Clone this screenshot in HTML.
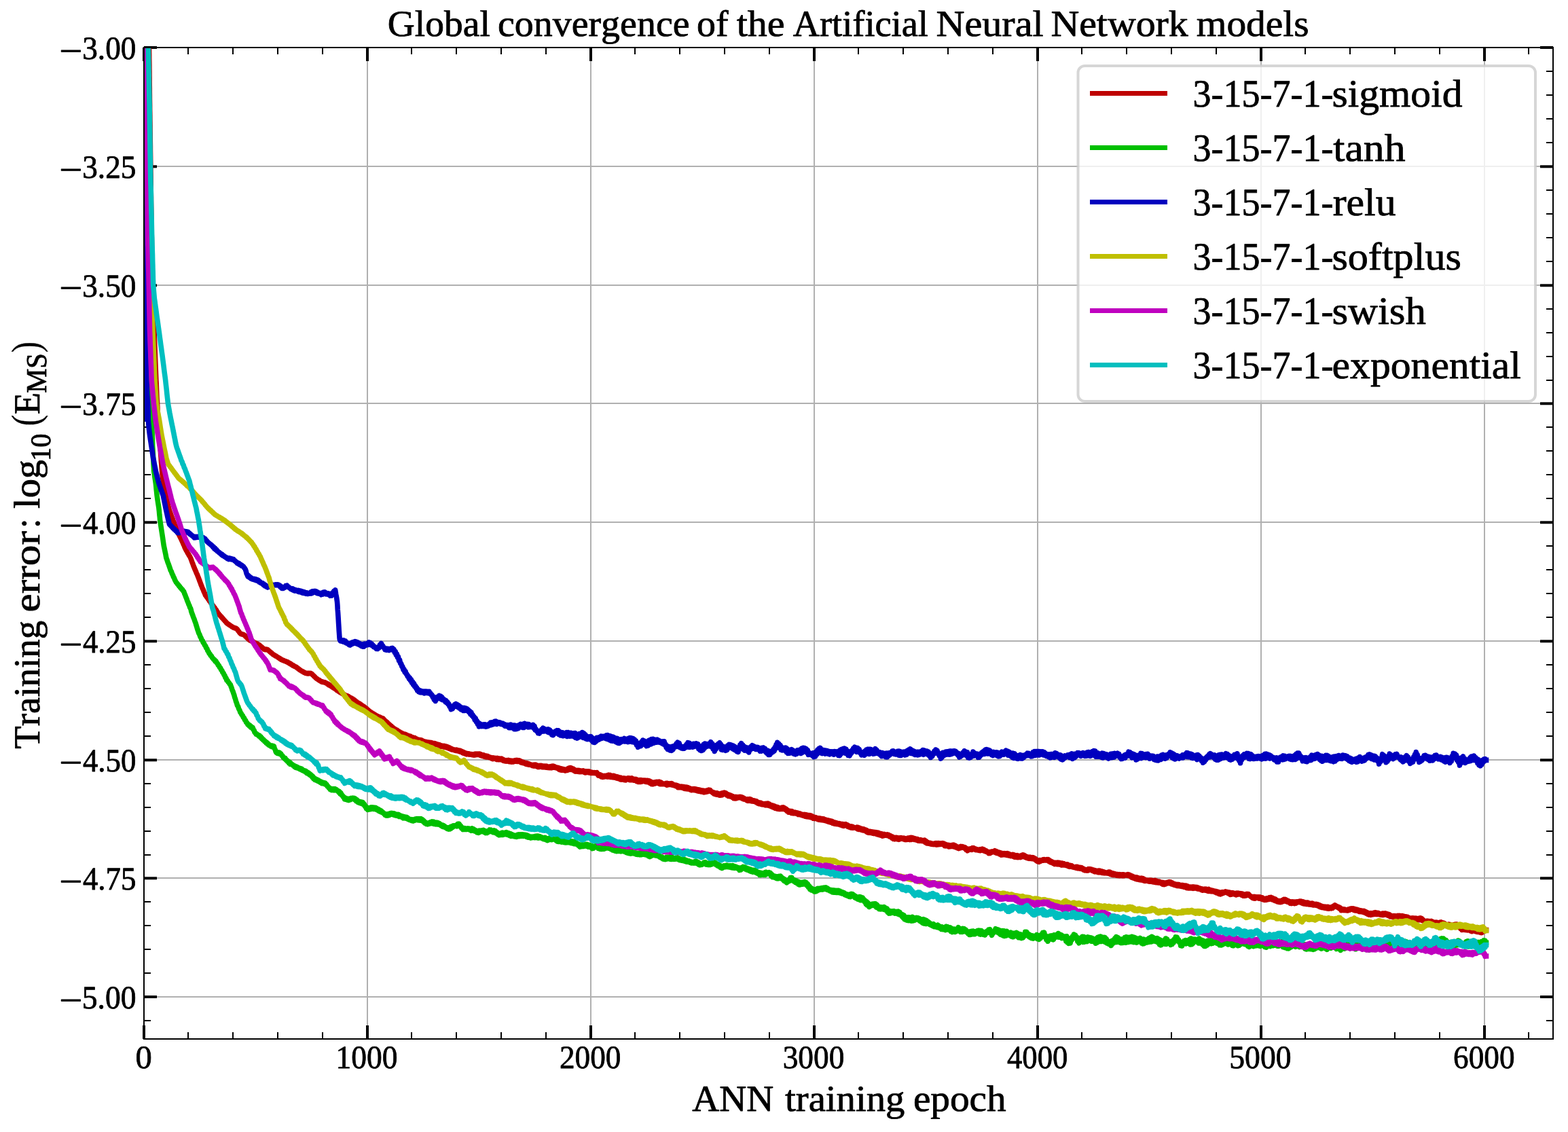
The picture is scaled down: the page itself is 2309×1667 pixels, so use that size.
<!DOCTYPE html>
<html lang="en"><head><meta charset="utf-8">
<title>Global convergence of the Artificial Neural Network models</title>
<style>
html,body{margin:0;padding:0;background:#fff;}
body{width:2309px;height:1667px;overflow:hidden;}
svg{display:block;}
text{font-family:"Liberation Serif", "DejaVu Serif", serif;fill:#000;font-kerning:none;font-variant-ligatures:none;stroke:#000;stroke-width:0.8px;stroke-linejoin:round;}
.grid line{stroke:#b0b0b0;stroke-width:2;}
.maj line{stroke:#000;stroke-width:4;}
.min line{stroke:#000;stroke-width:2;}
.curve{fill:none;stroke-width:7.6;stroke-linejoin:round;stroke-linecap:butt;}
</style></head><body>
<svg width="2309" height="1667" viewBox="0 0 2309 1667" shape-rendering="auto" text-rendering="geometricPrecision">
<rect x="0" y="0" width="2309" height="1667" fill="#ffffff"/>
<g class="grid">
<line x1="541" y1="70" x2="541" y2="1530"/>
<line x1="870" y1="70" x2="870" y2="1530"/>
<line x1="1199" y1="70" x2="1199" y2="1530"/>
<line x1="1528" y1="70" x2="1528" y2="1530"/>
<line x1="1857" y1="70" x2="1857" y2="1530"/>
<line x1="2186" y1="70" x2="2186" y2="1530"/>
<line x1="212" y1="245" x2="2287" y2="245"/>
<line x1="212" y1="420" x2="2287" y2="420"/>
<line x1="212" y1="594" x2="2287" y2="594"/>
<line x1="212" y1="769" x2="2287" y2="769"/>
<line x1="212" y1="944" x2="2287" y2="944"/>
<line x1="212" y1="1119" x2="2287" y2="1119"/>
<line x1="212" y1="1293" x2="2287" y2="1293"/>
<line x1="212" y1="1468" x2="2287" y2="1468"/>
</g>
<g class="min">
<line x1="277" y1="1530" x2="277" y2="1520"/>
<line x1="277" y1="70" x2="277" y2="80"/>
<line x1="343" y1="1530" x2="343" y2="1520"/>
<line x1="343" y1="70" x2="343" y2="80"/>
<line x1="409" y1="1530" x2="409" y2="1520"/>
<line x1="409" y1="70" x2="409" y2="80"/>
<line x1="475" y1="1530" x2="475" y2="1520"/>
<line x1="475" y1="70" x2="475" y2="80"/>
<line x1="606" y1="1530" x2="606" y2="1520"/>
<line x1="606" y1="70" x2="606" y2="80"/>
<line x1="672" y1="1530" x2="672" y2="1520"/>
<line x1="672" y1="70" x2="672" y2="80"/>
<line x1="738" y1="1530" x2="738" y2="1520"/>
<line x1="738" y1="70" x2="738" y2="80"/>
<line x1="804" y1="1530" x2="804" y2="1520"/>
<line x1="804" y1="70" x2="804" y2="80"/>
<line x1="935" y1="1530" x2="935" y2="1520"/>
<line x1="935" y1="70" x2="935" y2="80"/>
<line x1="1001" y1="1530" x2="1001" y2="1520"/>
<line x1="1001" y1="70" x2="1001" y2="80"/>
<line x1="1067" y1="1530" x2="1067" y2="1520"/>
<line x1="1067" y1="70" x2="1067" y2="80"/>
<line x1="1133" y1="1530" x2="1133" y2="1520"/>
<line x1="1133" y1="70" x2="1133" y2="80"/>
<line x1="1264" y1="1530" x2="1264" y2="1520"/>
<line x1="1264" y1="70" x2="1264" y2="80"/>
<line x1="1330" y1="1530" x2="1330" y2="1520"/>
<line x1="1330" y1="70" x2="1330" y2="80"/>
<line x1="1396" y1="1530" x2="1396" y2="1520"/>
<line x1="1396" y1="70" x2="1396" y2="80"/>
<line x1="1462" y1="1530" x2="1462" y2="1520"/>
<line x1="1462" y1="70" x2="1462" y2="80"/>
<line x1="1593" y1="1530" x2="1593" y2="1520"/>
<line x1="1593" y1="70" x2="1593" y2="80"/>
<line x1="1659" y1="1530" x2="1659" y2="1520"/>
<line x1="1659" y1="70" x2="1659" y2="80"/>
<line x1="1725" y1="1530" x2="1725" y2="1520"/>
<line x1="1725" y1="70" x2="1725" y2="80"/>
<line x1="1791" y1="1530" x2="1791" y2="1520"/>
<line x1="1791" y1="70" x2="1791" y2="80"/>
<line x1="1922" y1="1530" x2="1922" y2="1520"/>
<line x1="1922" y1="70" x2="1922" y2="80"/>
<line x1="1988" y1="1530" x2="1988" y2="1520"/>
<line x1="1988" y1="70" x2="1988" y2="80"/>
<line x1="2054" y1="1530" x2="2054" y2="1520"/>
<line x1="2054" y1="70" x2="2054" y2="80"/>
<line x1="2120" y1="1530" x2="2120" y2="1520"/>
<line x1="2120" y1="70" x2="2120" y2="80"/>
<line x1="2251" y1="1530" x2="2251" y2="1520"/>
<line x1="2251" y1="70" x2="2251" y2="80"/>
<line x1="212" y1="105" x2="222" y2="105"/>
<line x1="2287" y1="105" x2="2277" y2="105"/>
<line x1="212" y1="140" x2="222" y2="140"/>
<line x1="2287" y1="140" x2="2277" y2="140"/>
<line x1="212" y1="175" x2="222" y2="175"/>
<line x1="2287" y1="175" x2="2277" y2="175"/>
<line x1="212" y1="210" x2="222" y2="210"/>
<line x1="2287" y1="210" x2="2277" y2="210"/>
<line x1="212" y1="280" x2="222" y2="280"/>
<line x1="2287" y1="280" x2="2277" y2="280"/>
<line x1="212" y1="315" x2="222" y2="315"/>
<line x1="2287" y1="315" x2="2277" y2="315"/>
<line x1="212" y1="350" x2="222" y2="350"/>
<line x1="2287" y1="350" x2="2277" y2="350"/>
<line x1="212" y1="385" x2="222" y2="385"/>
<line x1="2287" y1="385" x2="2277" y2="385"/>
<line x1="212" y1="455" x2="222" y2="455"/>
<line x1="2287" y1="455" x2="2277" y2="455"/>
<line x1="212" y1="490" x2="222" y2="490"/>
<line x1="2287" y1="490" x2="2277" y2="490"/>
<line x1="212" y1="525" x2="222" y2="525"/>
<line x1="2287" y1="525" x2="2277" y2="525"/>
<line x1="212" y1="560" x2="222" y2="560"/>
<line x1="2287" y1="560" x2="2277" y2="560"/>
<line x1="212" y1="629" x2="222" y2="629"/>
<line x1="2287" y1="629" x2="2277" y2="629"/>
<line x1="212" y1="664" x2="222" y2="664"/>
<line x1="2287" y1="664" x2="2277" y2="664"/>
<line x1="212" y1="699" x2="222" y2="699"/>
<line x1="2287" y1="699" x2="2277" y2="699"/>
<line x1="212" y1="734" x2="222" y2="734"/>
<line x1="2287" y1="734" x2="2277" y2="734"/>
<line x1="212" y1="804" x2="222" y2="804"/>
<line x1="2287" y1="804" x2="2277" y2="804"/>
<line x1="212" y1="839" x2="222" y2="839"/>
<line x1="2287" y1="839" x2="2277" y2="839"/>
<line x1="212" y1="874" x2="222" y2="874"/>
<line x1="2287" y1="874" x2="2277" y2="874"/>
<line x1="212" y1="909" x2="222" y2="909"/>
<line x1="2287" y1="909" x2="2277" y2="909"/>
<line x1="212" y1="979" x2="222" y2="979"/>
<line x1="2287" y1="979" x2="2277" y2="979"/>
<line x1="212" y1="1014" x2="222" y2="1014"/>
<line x1="2287" y1="1014" x2="2277" y2="1014"/>
<line x1="212" y1="1049" x2="222" y2="1049"/>
<line x1="2287" y1="1049" x2="2277" y2="1049"/>
<line x1="212" y1="1084" x2="222" y2="1084"/>
<line x1="2287" y1="1084" x2="2277" y2="1084"/>
<line x1="212" y1="1154" x2="222" y2="1154"/>
<line x1="2287" y1="1154" x2="2277" y2="1154"/>
<line x1="212" y1="1189" x2="222" y2="1189"/>
<line x1="2287" y1="1189" x2="2277" y2="1189"/>
<line x1="212" y1="1224" x2="222" y2="1224"/>
<line x1="2287" y1="1224" x2="2277" y2="1224"/>
<line x1="212" y1="1259" x2="222" y2="1259"/>
<line x1="2287" y1="1259" x2="2277" y2="1259"/>
<line x1="212" y1="1328" x2="222" y2="1328"/>
<line x1="2287" y1="1328" x2="2277" y2="1328"/>
<line x1="212" y1="1363" x2="222" y2="1363"/>
<line x1="2287" y1="1363" x2="2277" y2="1363"/>
<line x1="212" y1="1398" x2="222" y2="1398"/>
<line x1="2287" y1="1398" x2="2277" y2="1398"/>
<line x1="212" y1="1433" x2="222" y2="1433"/>
<line x1="2287" y1="1433" x2="2277" y2="1433"/>
<line x1="212" y1="1503" x2="222" y2="1503"/>
<line x1="2287" y1="1503" x2="2277" y2="1503"/>
</g>
<g class="maj">
<line x1="212" y1="1530" x2="212" y2="1510"/>
<line x1="212" y1="70" x2="212" y2="90"/>
<line x1="541" y1="1530" x2="541" y2="1510"/>
<line x1="541" y1="70" x2="541" y2="90"/>
<line x1="870" y1="1530" x2="870" y2="1510"/>
<line x1="870" y1="70" x2="870" y2="90"/>
<line x1="1199" y1="1530" x2="1199" y2="1510"/>
<line x1="1199" y1="70" x2="1199" y2="90"/>
<line x1="1528" y1="1530" x2="1528" y2="1510"/>
<line x1="1528" y1="70" x2="1528" y2="90"/>
<line x1="1857" y1="1530" x2="1857" y2="1510"/>
<line x1="1857" y1="70" x2="1857" y2="90"/>
<line x1="2186" y1="1530" x2="2186" y2="1510"/>
<line x1="2186" y1="70" x2="2186" y2="90"/>
<line x1="212" y1="70" x2="231" y2="70" stroke-width="4.4"/>
<line x1="2287" y1="70" x2="2268" y2="70" stroke-width="4.4"/>
<line x1="212" y1="245.3" x2="231" y2="245.3" stroke-width="4.4"/>
<line x1="2287" y1="245.3" x2="2268" y2="245.3" stroke-width="4.4"/>
<line x1="212" y1="420.3" x2="231" y2="420.3" stroke-width="4.4"/>
<line x1="2287" y1="420.3" x2="2268" y2="420.3" stroke-width="4.4"/>
<line x1="212" y1="594.3" x2="231" y2="594.3" stroke-width="4.4"/>
<line x1="2287" y1="594.3" x2="2268" y2="594.3" stroke-width="4.4"/>
<line x1="212" y1="769.3" x2="231" y2="769.3" stroke-width="4.4"/>
<line x1="2287" y1="769.3" x2="2268" y2="769.3" stroke-width="4.4"/>
<line x1="212" y1="944.3" x2="231" y2="944.3" stroke-width="4.4"/>
<line x1="2287" y1="944.3" x2="2268" y2="944.3" stroke-width="4.4"/>
<line x1="212" y1="1119.3" x2="231" y2="1119.3" stroke-width="4.4"/>
<line x1="2287" y1="1119.3" x2="2268" y2="1119.3" stroke-width="4.4"/>
<line x1="212" y1="1293.3" x2="231" y2="1293.3" stroke-width="4.4"/>
<line x1="2287" y1="1293.3" x2="2268" y2="1293.3" stroke-width="4.4"/>
<line x1="212" y1="1468" x2="231" y2="1468" stroke-width="4.4"/>
<line x1="2287" y1="1468" x2="2268" y2="1468" stroke-width="4.4"/>
</g>
<svg x="212" y="70" width="2075" height="1460" viewBox="212 70 2075 1460" overflow="hidden">
<path class="curve" stroke="#bf0000" d="M219.5 66l0.1 5 0 4.9 0.1 5 0 4.8 0.1 5 0.1 4.9 0 5 0.1 4.9 0 5 0.1 4.9 0 5 0.1 4.8 0.1 5.1 0 4.8 0.1 5.1 0 4.8 0.1 5.1 0.1 4.9 0 5 0.1 5 0.1 5 0 5 0.1 5 0.1 5 0 5 0.1 5 0.1 5 0 5 0.1 5 0.1 5 0 5.1 0.1 4.9 0.1 5 0 5 0.1 5 0.1 5 0 5 0.1 5 0.1 5 0 5 0.1 5 0.1 4.9 0 5.1 0.1 5 0.1 5 0 5 0.1 5 0.1 5 0.1 5 0.1 5 0 5 0.1 5 0.1 5 0.1 5 0.1 5 0 5 0.1 5 0.1 4.9 0.1 5.1 0.1 5 0.1 5 0.1 4.9 0 5.1 0.1 4.9 0.1 5.1 0.1 4.9 0.1 5.1 0 4.9 0.1 5.1 0.1 4.9 0.1 5.1 0.2 4.9 0.2 5.1 0.2 5 0.1 5 0.2 5 0.2 5 0.2 4.9 0.2 5.1 0.2 5 0.2 5.1 0.2 4.9 0.1 5.1 0.2 4.9 0.2 5 0.2 5 0.2 5 0.2 5 0.2 5 0.2 5 0.2 5 0.2 5 0.2 5 0.2 5 0.2 5 0.2 5 0.2 5.1 0.2 4.9 0.2 5 0.3 5 0.2 5.1 0.2 4.9 0.2 5 0.2 5 0.3 5 0.3 5 0.3 5 0.2 4.9 0.3 5.1 0.3 5 0.3 5 0.4 4.9 0.4 5.1 0.3 4.9 0.4 5.1 0.4 4.9 0.3 5.1 0.4 4.9 0.4 5.1 0.4 4.6 0.3 4.9 0.4 4.6 0.3 4.8 0.4 4.6 0.3 4.8 0.4 4.7 0.4 4.7 0.5 4.7 0.9 5.6 0.9 5.4 0.9 5.6 1 5.4 0.9 5.6 1.1 4.3 1.1 4.5 1.1 4.3 1.1 4.5 1.1 4.3 1.1 3 1.1 2.9 1.1 3 1.1 2.8 1.1 3.2 1 2.2 1.1 3.1 1 2.2 1.1 2.9 1 2.2 1.1 3 1 2.4 1.1 2.4 1.1 2.1 1.1 2.3 1.1 2.1 1.1 2.3 1.1 2.4 1.1 2.8 1.1 2.2 1.1 2.9 1.1 2.3 1 2 1.1 1.7 1 2.1 1.1 1.5 1 2.2 1.1 1.5 1 2 1.1 2.8 1.1 3.2 1.1 2.7 1.1 3.1 1.1 2.6 1.1 2.8 1.1 2.4 1.1 2.9 1.1 2.2 1.1 2.9 1.1 2.7 1.1 3.1 1.1 2.8 1.1 3.1 1.1 2.6 1.1 3 1.1 2.1 1.1 3 1.1 2.2 1.1 2.9 1 1.1 1.1 1.9 1 0.9 1 1.9 1 1 1 1.9 1 0.9 1.1 2 1 0.9 1 1.8 1.1 1 1 1.9 1.1 0.9 1 1.9 1.1 1 1 2 0.9 1.2 0.9 2.2 1.1 0.7 1 1.6 1.1 0.7 1 1.7 1.1 0.6 1 1.8 1.1 0.6 1.1 1.7 1.1 0.9 1.1 1.5 1.1 1 1.1 1.6 1 0.5 1 1 1 0.3 1 1.2 1.1 0.2 1 1.1 1 0.4 1 1 1 0.3 1.1 0.9 1.1 -0.2 1.1 0.9 1.1 -0.1 1.1 0.9 1.1 1 1.1 1.9 1.1 1 1.1 1.9 1.1 1 1.1 1.1 1.1 -0.3 1.1 0.9 1.1 -0.2 1.1 0.9 1.1 0.5 1 1.6 1.1 0.6 1 1.4 1.1 0.8 1 1.3 1.1 0.8 1 0.9 1.1 0 1 1 1 0 1.1 0.9 1 0.2 1.1 1 1 0.1 1.1 0.9 1 0.2 1.1 0.7 1 0.2 1.1 1 1 0.2 1.1 1.2 1 0.6 1.1 1.2 1 0.5 1.1 1.4 1 0.4 1 1.5 1.1 -0.4 1.1 0.9 1.1 -0.6 1.1 0.8 1.1 -0.4 1.1 1.4 1 0.6 1.1 1.4 1 0.3 1.1 1.5 1 0.3 1.1 1.4 1 0.4 1.1 0.9 1 0.2 1.1 1.2 1 0.2 1.1 1 1 0.3 1.1 0.9 1 0.3 1 1.2 1.1 0.1 1 1.3 1.1 -0.2 1 1.3 1.1 -0.2 1 1 1.1 -0.1 1 0.8 1.1 0.1 1 0.9 1.1 -0.1 1 1.3 1.1 -0.2 1 1.5 1.1 -0.3 1 1.5 1 -0.2 1.1 1.5 1.1 -0.1 1.1 1.2 1.1 0.1 1.1 0.9 1.1 0.2 1 1.2 1.1 0.3 1 1.4 1.1 0.2 1 1.4 1.1 0.2 1 1.3 1.1 -0.1 1 1 1.1 0.1 1 1.2 1.1 0 1 1 1.1 -0.1 1 0.5 1 -0.6 1.1 0.6 1 -0.6 1.1 0.5 1 -0.5 1.1 0.6 1 0.6 1.1 1.5 1 0.7 1.1 1.4 1 0.5 1.1 1.6 1 0.6 1.1 1.1 1 0.3 1.1 1 1 0.1 1 1.2 1.1 0.2 1 1.2 1.1 -0.3 1.1 0.9 1.1 -0.3 1.1 0.8 1.1 -0.2 1.5 1.2 1 0 1 1.4 1.1 -0.3 1 1.6 1 -0.4 1 1.6 1 0 1 1.2 1.1 0.1 1 1.3 1 -0.2 1 1.5 1 -0.2 1.1 1.6 1 -0.2 1 1.7 1 0 1 1.4 1 -0.1 1 1.5 1 -0.2 1 1.3 1 0 1 1 1 0.2 1 1 1 0.1 1 1.1 1 0 1 1.1 1.1 -0.4 1 1.6 1 -0.6 1 1.6 1 -0.3 1 1 1.1 0 1 1.3 1 -0.3 1 1.8 1 -0.2 1.1 1.4 1 0.1 1 1.4 1 0.2 1 1.4 1 -0.1 1.1 1.5 1 -0.4 1 1.7 1 -0.2 1 1.6 1.1 -0.2 1 1.6 1 -0.3 1 1.4 1 0.2 1 1.5 1.1 0.2 1 1.6 1 0.1 1 1.4 1 0.4 1.1 1.1 1 0.4 1 1.4 1 -0.2 1 1.5 1 -0.3 1.1 1.3 1 -0.1 1 1.1 1 0.3 1 0.9 1.1 0.1 1 1.1 1 -0.2 1 1.5 1 -0.5 1 1.6 1.1 -0.7 1 1.4 1 -0.5 1 1.7 1 0.4 1 1.7 1.1 0.2 1 2.1 1 -0.5 1 2.3 1 -0.4 1.1 1.9 1 0 1 1.3 1 0.5 1 1.5 1 0.2 1.1 1.5 1 0.1 1 1.1 1 0.1 1 1.3 1.1 -0.2 1 1.6 1 -0.2 1 1.4 1 0 1 1.1 1.1 0 1 1.2 1 -0.2 1 1.2 1 -0.4 1.1 1.1 1 -0.5 1 1.7 1 -0.8 1 1.9 1 -0.9 1.1 1.4 1 -0.8 1 1.4 1 -0.8 1 1.5 1.1 -0.4 1 1.5 1 -0.6 1 1.4 1 -1 1 1.7 1.1 -0.7 1 1.4 1 -0.5 1 0.7 1 -0.2 1.1 0.8 1 -0.5 1 1.4 1 -0.8 1 1.3 1 -0.1 1.1 1.1 1 -0.3 1 1.5 1 -1.3 1 1.9 1 -1.4 1 1.6 1 -1.1 1 1.3 1 -1.2 1 1.1 1 -0.8 1 1.1 1 -0.6 1 0.6 1 -0.4 1 1 1.1 -0.4 1 1.5 1 -0.7 1 1.2 1 -0.6 1.1 1.4 1 -0.8 1 1.9 1 -0.9 1 1.2 1 -0.9 1.1 1.1 1 -0.9 1 1.5 1 -1 1 1.5 1.1 -1 1 1.7 1 -1 1 1.7 1 -1 1 1.7 1.1 -0.6 1 1.6 1 -0.7 1 1.2 1 -0.4 1 1 1 -0.4 1 0.8 1 -0.9 1 1.2 1 -0.8 1 1.4 1 -0.9 1 1.6 1 -1.2 1 1.6 1 -0.6 1.1 1.8 1 -1.1 1 2.1 1 -1.2 1 1.8 1.1 -0.8 1 1.5 1 -0.9 1 0.9 1 -0.7 1 1 1 -0.7 1 0.9 1 -0.6 1 1 1 -0.7 1 1 1 -1 1 1 1.1 -1.7 1 1.3 1.1 -1.3 1 1 1.1 -0.9 1 1.1 1 -1 1 1.9 1.1 -1.2 1 1.9 1 -1.3 1 1.9 1 -1.6 1 2.3 1.1 -1.4 1 1.8 1 -1.4 1 1.5 1 -0.9 1 1.5 1 -0.5 1 1 1 -0.4 1 1.4 1 -0.9 1 1.5 1 -1.6 1 1.1 1 -0.6 1 1.2 1 -0.8 1 1.6 1 -1.8 1 2 1 -1.6 1 1.5 1 -1.3 1 1 1 -0.9 1 2 1 -1 1 1.9 1.1 -0.9 1 1.4 1 -0.8 1 1.1 1 -1.1 1 1 1.1 -1.3 1 1.9 1 -1.6 1 1.8 1 -1.5 1.1 1.8 1 -1.6 1 1.4 1 -1.5 1 0.8 1 -1.4 1.1 1.4 1 -1.6 1 1.9 1 -1.6 1 1.2 1.1 -0.9 1 2.1 1 -1.2 1 2.1 1 -1.2 1 1.5 1.1 -0.7 1 1.4 1 -0.7 1 1.6 1 -1.2 1 1.8 1 -1.4 1 1.7 1 -0.9 1 1.2 1 -0.3 1 0.8 1 -0.4 1 1.3 1 -1.1 1 1.6 1 -1.8 1 1.7 1 -1.7 1 2.2 1 -1.2 1 2.2 1 -1.7 1 1.6 1 -2 1 1.7 1 -1.6 1 2 1 -1.6 1 1.8 1 -1.5 1 1.5 1 -1.5 1 1.9 1 -1.8 1 2.1 1 -1.3 1 1.4 1 -1.3 1.1 1.4 1 -2 1 2.2 1 -2.6 1 2 1 -1.9 1.1 1.8 1 -0.8 1 1.3 1 -0.4 1 1.1 1.1 -0.7 1 2 1 -1.6 1 2.5 1 -1.9 1 2.5 1.1 -1.8 1 1.6 1 -1.1 1 1.5 1 -1.1 1.1 1.7 1 -1.3 1 0.8 1.1 -2.2 1.1 1.7 1.1 -2.6 1 1.9 1.1 -2.6 1.1 2.7 1 -2 1.1 2.4 1.1 -1.4 1 2.7 1.1 -1.1 1 2.2 1 -1.6 1.1 1.5 1 -1.4 1 1.7 1 -1.8 1 2.1 1 -1.5 1.1 1.4 1 -1.3 1 1.1 1 -1.2 1 1.8 1.1 -1.2 1 2.1 1 -1.9 1 1.5 1 -1.5 1 1.4 1.1 -1.3 1 1.9 1 -1.5 1 1.9 1 -1 1 1.1 1 -0.7 1.1 0.7 1 -0.8 1 1 1 -0.8 1 0.8 1 -0.9 1 1.4 0 0.7 1 2.3 1.1 -1.5 1 1.8 1.1 -1.3 1 2.6 1.1 -1.6 1 2.1 1 -1.4 1 1.1 1 -1.5 1 1.1 1 -0.9 1 1 1 -1.5 1 1.8 1 -2.7 1 2.7 1 -2.5 1 2.9 1.1 -1.6 1 1.7 1 -1.9 1 2.2 1 -2.2 1.1 2.6 1 -1.6 1 2.2 1 -2 1 2.5 1 -1.9 1.1 2.5 1 -1.8 1 2.9 1 -2.7 1 2.8 1.1 -1.8 0.9 1.6 1 -1.8 1 2.6 1 -2.3 0.9 2.5 1 -1.8 1 0.6 1 -1.6 0.9 1.6 1 -1.6 1 2.6 1 -2.3 1 2.2 0.9 -2.6 1 2.7 1 -1.6 1 2 1.1 -1.5 1 1.7 1 -1.8 1 3 1 -2.2 1.1 3.1 1 -2.2 1 2.2 0.9 -2.6 1 2.7 1 -2.7 1 2.4 1 -2 1 1.2 1 -1 1 1.4 0.9 -1.5 1 2.2 1 -2 1 2.1 1 -2.1 1.1 2.7 1 -2.2 1.1 3.4 1 -2.3 1.1 3.7 1 -2.5 1.1 2.6 1 -2.7 1.1 2 1 -2.2 1.1 1.7 1 -2.2 1.1 1.5 1 -1.4 1 2.3 1 -2.5 1 3.2 1.1 -2.5 1 2.7 1 -1.4 1 1.4 1 -0.3 1 0.3 1 -0.7 1 1.1 1 -1.7 1 2.7 1 -2.6 1 2 1 -1.5 1 1.1 1 -1.1 1 1.6 1 -1.9 1.1 2.3 1 -0.9 1 1.4 1 -0.6 1 1.3 1 -1 1.1 1.9 1 -1.4 1 2.9 1 -2.2 1 2.2 1 -1.2 1 1.2 1 -1.3 1 1.5 1 -1.4 1 2.1 1 -1.7 1 2.5 1 -2.2 1 2.5 1 -2.4 1 2.7 1 -2.2 1 2.2 1 -1.2 1 2.2 1 -1.4 1 2 1 -1.4 1 1.2 1 -1.6 1 1.8 1 -1.8 1 2 1 -1.5 1 2.3 1 -1.9 1 2.4 1 -2.1 1 2.3 1 -1.6 1.1 2.2 1 -1.7 1.1 2 1 -2 1 2.6 1.1 -1.9 1 1.6 1.1 -1.9 1 1.4 1.1 -1.9 1 1.4 1.1 -2.2 1 1.6 1.1 -1 1 2 1.1 0.2 1 1.3 1.1 -0.6 1 2.1 1.1 -1.3 1 2 1 -1.6 1 2.1 1.1 -1.9 1 2.3 1 -1.7 1.1 2.3 1 -1.7 1.1 1.8 1 -2.9 1.1 2.5 1.1 -3 1 1.7 1.1 -2.2 1.1 1.8 1 -1 1.1 2.7 1 -1 1.1 2.5 1 -2 1 2.4 1.1 -1.6 1 2.1 1.1 -1 1 2.1 1.1 -1.3 1 2.7 1.1 -1.8 1 2.1 1 -2.4 1 2 1 -1.8 1.1 1.1 1 -1 1 0.8 1 -1 1 1.1 1.1 -0.9 1 2 1.1 -1.3 1 2.3 1.1 -1 1 1.4 1.1 -0.2 1 1.4 1 -1.3 1 2.2 1 -2.3 1 2.3 1 -2.5 1 2.5 1 -2 1 2.6 1 -1.2 1 1.4 1 -1 1 1.2 1 -0.7 1 1.6 1.1 -1.1 1 2.5 1 -1.4 1 2.3 1 -1.5 1 1.8 1.1 -1.6 1 2.4 1 -1.1 1 1.3 1 -1.1 1.1 1.1 1 -1.1 1 2 1.1 -2.2 1.1 2.2 1.1 -2.6 1.1 2.9 1.1 -1.9 1 2.8 1.1 -1.4 1 2.4 1.1 -2 1 2.7 1.1 -2 1 2.9 1.1 -2.2 1 3.1 1.1 -2.3 1 3 1.1 -2.4 1 2.7 1 -1.6 1.1 1.8 1 -1.5 1.1 1.2 1 -2 1.1 2 1 -2.4 1.1 2.5 1 -1.2 1.1 2.5 1 -1.3 1.1 3.2 1 -1.3 1.1 2.9 1 -1 1 1.1 1 -1.9 1.1 2.8 1 -2.6 1 3 1 -1.6 1 1.7 1.1 -1.3 1 1.3 1 -1 1 1.6 1 -1 1 2.2 1.1 -1.7 1 1.7 1 -1.3 1 1.9 1 -0.9 1 1.5 1.1 -0.9 1 1.4 1 -1.7 1 2.5 1 -2.2 1.1 2.9 1 -2.4 1 2.6 1 -2.3 1 2.4 1 -2.2 1.1 2.8 1 -2.3 1 2.8 1 -1.8 1 2.9 1.1 -2 1 2.4 1 -2 1 1.8 1 -0.8 1 1.8 1.1 -1.3 1 2 1 -2.2 1 2.5 1.1 -2 1 2.1 1.1 -1.7 1 2 1.1 -1.7 1 2.2 1 -1.3 1.1 1.8 1 -1.1 1 1.9 1 -1.7 1 2.4 1.1 -1.9 1 2.4 1 -1.7 1 2.3 1.1 -1.9 1 2.9 1.1 -1.7 1 2.3 1 -1.7 1.1 2 1 -1.6 1 1.9 1 -1.1 1 1.3 1 -0.9 1 1.5 1 -0.9 0.9 1.6 1 -1.7 1 2.5 1 -2.2 1 2.6 1 -2.4 1 1.8 1 -1.9 1 2.1 1 -1.1 1 2.6 1.1 -1.4 1 2.1 1 -1.1 1 1.8 1 -1.7 1 2 1.1 -1.5 1 1.4 1 -0.6 1 0.6 1 -0.2 1.1 0.9 1 -1.5 1 2.6 1 -2.4 1 3 1 -2.2 1.1 2.3 1 -1.1 1 1.9 1 -1.5 1 2 1.1 -1.8 0.9 1.9 1 -0.8 1 2.2 1 -1.7 1 3 1 -2 1 2.6 0.9 -1.7 1.1 1.8 1 -1.8 1 1.9 1 -1.4 1 2.1 1 -1.8 1 2.3 1 -2.1 1.1 2.1 1 -1.8 1 2.7 1 -2.4 1 3 1 -2.6 1 3 1 -2.1 1 2.7 1 -2.3 1 3.2 1 -2.5 1 2.2 1.1 -2.2 1 1.6 1 -0.9 1.1 1.1 1 -1.2 1.1 1.4 1 -0.9 1 2.2 1 -1.4 1.1 2.2 1 -1.1 1 2.5 1 -1.8 1 3.1 1.1 -1.9 1 2.4 1 -2.3 1 1.8 1 -1.9 1 2.5 1.1 -1.9 1 2.3 1 -2.4 1 1.5 1 -1.6 1 1.3 1.1 -0.9 1 1.4 1 -1.2 1 1.8 1 -1.5 1.1 1.8 1 -1.5 1 1.3 1 -2 1 1.6 1 -2 1.1 2.7 1 -3.1 1 2.9 1 -2.9 1 2.1 1.1 -1.4 1 2 1 -1.1 1 1.5 1 -1 1 1.6 1.1 -1.3 1 2.2 1 -1.4 1 1.6 1.1 -1.6 1 1.5 1.1 -0.8 1 1.1 1.1 -0.8 1 1.3 1.1 -1.7 1 3.2 1.1 -1.7 1 3 1.1 -1.2 1 1.4 1.1 -0.8 1 1.2 1 -0.8 1 1.3 1 -0.7 1.1 1.1 1 -0.8 1 0.9 1 -1.2 1 1.4 1 -1.9 1 2.3 1 -2.3 1 2.2 1 -2.3 1 1.9 1 -1.6 1 1.3 1 -1.1 1 1 1 -1.3 1 2 1.1 -1.5 1 3.2 1 -2.2 1 2.5 1 -1.8 1 1.8 1.1 -1.4 1 2.5 1 -2.2 1.1 1.9 1 -1.7 1.1 1.3 1 -1.7 1.1 2.1 1 -2.4 1.1 2.9 1 -1.9 1.1 2.7 1 -1.4 1 2.3 1.1 -0.9 1 1.6 1.1 -2.2 1.1 1.5 1.1 -2.3 1.1 1.8 1.1 -1.5 1.1 1.4 1 -0.8 1.1 1.9 1 -0.9 1.1 2.9 1 -1.3 1.1 2.7 1 -2.4 1 1.2 1 -1.2 1 0.8 1.1 -1.2 1 1.4 1 -2.5 1 1.8 1 -1.8 1.1 1.9 1 -0.7 1.1 1.6 1 -0.9 1.1 1.1 1 -0.4 1.1 0.9 1.1 -1.4 1.1 1.6 1.1 -1.8 1.1 1.4 1.1 -1.9 1 2.3 1 -1.5 1 2.4 1 -1.1 1 1.6 1.1 -0.7 1 1.7 1 -0.5 1 2.1 1 -1.4 1.1 1.4 1 -2.1 1 1 1 -1.4 1 0.7 1 -0.8 1.1 0.8 1 -1.9 1 2.8 1 -2.2 1 2.9 1.1 -1.6 1 2.2 1 -1.7 1 2.6 1 -2.1 1 3.4 1.1 -2.6 1 2.4 1 -2.2 1 1.5 1 -1.4 1.1 2.1 1 -1.9 1 2.2 1 -2.6 1 2.9 1 -2.3 1.1 2.9 1 -1.5 1 2 1 -1.8 1 1.5 1.1 -1.9 1 2.9 1 -2.3 1.1 3.2 1 -2.5 1.1 2.7 1 -2.8 1.1 3 1 -2.3 1 2.1 1.1 -1.6 1 1.7 1.1 -2.8 1 2 1.1 -2.8 1 2.1 1.1 -1.4 1 2.6 1.1 -1.3 1 2.1 1.1 -1.1 1 1.9 1.1 -1.3 1 1.7 1.1 -1.9 1 2 1 -1.6 1.1 1.9 1 -2 1.1 2 1 -1.1 1.1 2.3 1 -0.9 1.1 2.6 1 -1.2 1.1 2.5 1 -1.5 1.1 1.9 1 -2.6 1.1 1.5 1 -1.3 1.1 0.4 1 -1.2 1.1 0.9 1 -1.1 1 1.1 1.1 -0.8 1 0.8 1.1 -1.1 1 1.4 1.1 -1.3 1 2.7 1 -1.5 1 2.7 1.1 -1.2 1 1.5 1 -0.6 1 1.9 1 -1.2 1 2.3 1.1 -1.9 1 1.6 1 -1.7 1 2.2 1 -2.4 1.1 2.4 1 -2.3 1 2.6 1 -2.1 1 3.1 1 -2.9 1.1 2.8 1 -2.3 1 2.3 1 -1.2 1 1.6 1.1 -1.3 1 1.7 1 -1.6 1 2.7 1 -1.5 1 1.9 1.1 -1.6 1 1.5 1 -1.1 1 1.8 1 -0.2 1 0.9 1.1 -0.6 1 0.9 1 -1.3 1 1.9 1 -2 1.1 2.4 1 -1.6 1 1.7 1 -1.4 1 1.7 1 -1.5 1.1 2.2 1 -0.9 1 2.1 1 -1 1 1.7 1.1 -0.9 1 1 1.1 -1.4 1 1.6 1 -2.4 1.1 1.5 1 -1.4 1.1 0.9 1 -0.5 1.1 1.8 1 -1 1.1 2 1 -1.6 1.1 2.4 1 -1.7 1.1 1.7 1 -1 1.1 1.6 1 -2.1 1.1 2.5 1 -2.6 1 2.3 1.1 -1.6 1 2.5 1.1 -1.8 1 2 1.1 -1.2 1 1.3 1.1 -0.8 1 0.9 1.1 -0.9 1 1 1.1 -1.7 1 2.3 1.1 -2.3 1 3.1 1.1 -2 1 2.8 1 -2.2 1.1 2.7 1 -2.2 1.1 2.2 1 -1.3 1.1 1.7 1 -1.5 1 1.9 1 -1.7 1 1.9 1 -1.8 1.1 1.6 1 -1.4 1 1.5 1 -1.6 1 1.8 1 -1.8 1 1.5 1 -0.9 1 0.5 1 -0.8 1 0.9 1 -1.3 1 1.6 1 -1.2 1 2.1 1 -1 1 2.5 1.1 -1.8 1 2.6 1 -1.4 1 2.2 1 -1.6 1.1 2.5 0.9 -2.4 1 2.9 1 -2.6 1 2.9 1 -2.1 1 2.6 1 -2.2 0.9 2.5 1.1 -2.6 1 2.8 1 -2.5 1 3.2 1 -2.1 1 2.7 1 -1.7 1 1.3 1.1 -0.8 1 1.3 1 -0.9 1 1.4 1 -1.7 1 1.6 1 -1.7 1 2.2 1 -1.7 1 2.1 1 -1.9 1 2.1 1 -2.5 1 3 1 -2.2 1 2.4 1 -1.7 1.1 2 1 -1.9 1 1.9 1 -0.8 1.1 2 1.1 -1.7 1.1 2.8 1.1 -2.5 1.1 2.7 1.1 -2 1 1.3 1.1 -2 1 0.9 1.1 -1.5 1 1.2 1 -1.6 1.1 2.1 1 -1.8 1.1 2.7 1 -1.8 1.1 2.5 1 -1.3 1.1 2.1 1 -1.3 1 1.8 1 -1.2 1 1.8 1.1 -2 1 2.2 1 -1.8 1 2 1 -1.1 1.1 1.5 1 -1.7 1 2.1 1 -1.9 1 2.5 1 -2 1.1 2.3 1 -2.2 1 3.4 1 -2.9 1.1 3.1 1 -2 1.1 1.9 1 -1.6 1.1 1.6 1 -1.6 1.1 2 1 -2.2 1.1 2.2 1 -2 1.1 1.6 1 -1.4 1.1 2.1 1 -1.8 1.1 2.3 1 -1.3 1.1 1.3 1 -0.6 1 2 1.1 -1.4 1 2 1 -1.6 1 1.4 1.1 -1.6 1 1.8 1 -1.7 1 2.3 1 -2 1.1 2.6 1 -2.9 1 3.1 1 -1.9 1 2.1 1 -1.5 1.1 1.6 1 -1.3 1 1.4 1 -0.6 1 1.6 1.1 -1.3 1 2.3 1 -1.7 1 2.2 1 -1.9 1 2.9 1.1 -2.2 1 2.8 1 -2.6 1.1 1.7 1 -2.3 1.1 1.5 1 -1.4 1.1 0.6 1 -1.3 1.1 1 1 -0.6 1.1 1.6 1 -1 1 2.2 1.1 -2 1 3 1.1 -2.6 1 2.4 1.1 -2.3 1 1.8 1.1 -1 1 1.4 1.1 -1.1 1 2 1.1 -2.8 1 2.2 1.1 -2 1 1.4 1.1 -1 1 1.4 1.1 -1.1 1.1 2.3 1.1 -2 1.1 3 1.1 -1.9 1.1 1.8 1.1 -2.2 1.1 1.7 1.1 -2.3 1.1 1.3 1 -1 1.1 2.2 1 -0.1 1.1 1.7 1 -0.3 1.1 1.7 1 -0.9 1 1.8 1.1 -2.3 1 2.6 1 -2.4 1 1.6 1 -1.3 1.1 1.3 1 -1.3 1 2.1 1 -2.1 1 2.4 1 -1.8 1.1 2.5 1 -2.1 1 2.8 1 -1.5 1 2 1.1 -1.4 1 1.3 1 -2.2 1.1 1.7 1 -2 1.1 1.6 1 -2.6 1.1 2.2 1 -2.5 1.1 3.1 1 -2.2 1.1 2.8 1 -1.9 1.1 2.9 1 -2.2 1.1 3 1 -1.4 1.1 2.2 1 -1.1 1 1.6 1.1 -1.4 1 1.8 1.1 -1.8 1.1 1.4 1 -2.4 1.1 1.8 1.1 -3.2 1.1 2.1 1 -2 1.1 2.7 1.1 -1.6 1 2.5 1.1 -1.5 1.1 2.3 0.9 -1.3 1 2.7 1 -2.4 1.1 2.6 1 -2.7 1.1 2.3 1 -1.8 1.1 2.2 1 -2.3 1.1 1.9 1 -2.1 1.1 0.9 1 -1 1.1 0.6 1 -1.3 1.1 1.4 1 -1.3 1.1 2.4 1 -2 1 2.8 1.1 -2.3 1 2.8 1.1 -1.9 1 2.1 1.1 -2 1 2.4 1.1 -2.3 1 2.4 1.1 -1.3 1 1.5 1.1 -1.4 1 1.8 1.1 -2.1 1 2.5 1.1 -1.4 1 1.5 1.1 -1.3 1 1.5 1 -1.6 1.1 2.1 1 -1.6 1.1 2.6 1 -1.7 1.1 2.7 1 -1.8 1.1 2.5 1 -1.6 1.1 1.8 1 -1.2 1.1 1.9 1 -1.8 1.1 2.1 1 -2 1.1 2.5 1 -2.5 1 2.7 1.1 -2 1 1.7 1.1 -1.4 1 1.3 1 -2.2 1.1 1.6 1 -2.9 1 1.3 1.1 -2.5 1 1 1 0.2 1 1.7 1.1 -0.6 1 1.6 1 -0.9 1.1 2.6 1 -1.5 1 3.5 1.1 -1.7 1 1.4 1.1 -1.2 1 1.3 1.1 -1.2 1 1.3 1.1 -0.5 1 0.8 1 -1.3 1 1.2 1 -1.8 1.1 1.1 1 -1.7 1 0.9 1 -1.1 1 0.8 1 -0.8 1.1 2.1 1 -1.6 1 2.3 1 -1.9 1 1.8 1.1 -1.3 1 2 1 -1.2 1 2.2 1 -1.9 1 1.8 1.1 -1.1 1 1.4 1 -1 1 1.7 1 -1.9 1.1 2.5 1 -1.4 1 2.6 1.1 -1.6 1 2.7 1.1 -1.8 1 2.5 1.1 -1.9 1 2.1 1 -2.5 1 2.4 1.1 -2.1 1 1.6 1 -2.4 1 2.2 1 -2.7 1 2.7 1.1 -2.2 1 2.1 1.1 -1.9 1 2 1.1 -0.9 1 1.6 1.1 -1 1 1.2 1.1 -2.1 1 2.4 1.1 -2.4 1 1.8 1.1 -1.9 1 1.6 1.1 -0.9 1 2.1 1 -1.7 1.1 2.6 1 -2 1.1 3.1 1 -1.1 1.1 1.2 1 -0.9 1 1.4 1 -1.7 1 2.6 1 -2.7 1.1 3 1 -2.9 1 2.9 1 -3.2 1.1 2.8 1 -3 1.1 2.5 1 -2.1 1.1 1.1 1 -1.1 1 1.3 1.1 -0.8 1 2.4 1 -1.9 1 2.2 1 -1.8 1.1 1.6 1 -1.1 1 2.2 1 -1.3 1 2.2 1 -1.5 1.1 1.3 1 -1.4 1 1.9 1 -2.1 1 2.8 1.1 -2.4 1 2.6 1 -2.6 1 2.6 1 -2.2 1 2 1.1 -2.2 1 2.2 1 -2.8 1 2.6 1.1 -1.9 1 2.9 1.1 -1 1 1.8 1 -0.2 1.1 1.7 1 -0.8 1.1 1.5 1 -2.3 1.1 2.2 1 -2 1.1 2.1 1 -1.7 1.1 1.6 1 -1.8 1.1 2.2 1 -1.3 1.1 1.4 1 -0.6 1.1 1 1 -1 1 1.3 1 -1.1 1.1 1.1 1 -0.7 1 0.7 1 -1.3 1 1.4 1 -1.6 1.1 2.2 1 -1.4 1.1 2.2 1 -1.6 1.1 2 1 -0.6 1 1.3 1.1 -0.3 1 0.7 1.1 -1.3 1 1.8 1.1 -1.5 1 2.6 1.1 -1.8 1 2.2 1.1 -2.1 1 1.1 1.1 -1.8 1 1.4 1.1 -2.1 1 1.9 1.1 -1.7 1 2.3 1.1 -0.7 1 2.8 1 -1.7 1.1 3.7 1 -2 1.1 3.6 1 -2.2 1.1 2 1 -1.6 1.1 1.7 1 -1.5 1.1 1.8 1 -2.1 1.1 2.3 1 -1.9 1.1 1.9 1 -1.2 1.1 2.4 1 -1.8 1 2.5 1.1 -2.2 1 1.4 1.1 -1.4 1 1.8 1.1 -2.1 1 2.8 1.1 -2.6 1 3 1.1 -1.8 1 2.1 1.1 -1.9 1 2.5 1.1 -2.2 1 2.5 1 -2.4 0.9 1.1 1 -2 1 1.2 0.9 -2.5 1 0.6 1.1 0 1.1 0 1 0 1.1 0"/>
<path class="curve" stroke="#00bf00" d="M214.5 65.9l0 5.1 0.1 4.8 0 5.2 0 4.8 0.1 5.3 0 4.7 0 5.2 0.1 4.7 0 5.3 0 4.7 0.1 5.2 0 4.8 0 5.1 0 4.8 0.1 5.1 0 4.8 0 5.2 0.1 4.8 0 5.2 0 4.8 0.1 5.2 0 4.7 0 5.2 0.1 4.8 0 5.1 0 4.8 0.1 5.1 0 4.9 0 5.2 0.1 4.8 0 5.1 0 4.8 0.1 5.2 0 4.8 0 5.2 0 4.8 0.1 5.1 0 4.8 0 5.1 0.1 4.9 0 5.1 0 4.8 0.1 5.2 0 4.8 0 5.1 0.1 4.9 0 5 0.1 4.9 0 5.3 0.1 4.7 0.1 5.3 0 4.7 0.1 5.2 0.1 4.8 0 5.2 0.1 4.8 0.1 5.2 0 4.8 0.1 5.2 0.1 4.8 0 5.2 0.1 4.8 0.1 5.3 0 4.7 0.1 5.2 0.1 4.8 0 5.2 0.1 4.7 0.1 5.4 0 4.6 0.1 5.3 0.1 4.8 0 5.1 0.1 4.9 0.1 5.1 0 5 0.1 5 0.1 5 0.1 5 0.1 4.9 0.1 5.2 0.1 4.7 0 5.4 0.1 4.7 0.1 5.2 0.1 4.8 0.1 5.2 0.1 4.7 0.1 5.3 0.1 4.8 0.1 5.3 0.1 4.8 0.1 5.1 0 4.8 0.1 5.2 0.1 4.8 0.1 5.2 0.1 4.8 0.1 5.2 0.2 4.8 0.3 5.2 0.3 4.9 0.2 5.1 0.2 4.8 0.3 5.3 0.3 4.7 0.2 5.2 0.4 4.8 0.3 5.2 0.4 4.8 0.4 5.2 0.1 5 0.2 5.5 0.2 4.9 0.2 5.5 0.2 5 0.2 5.5 0.1 5.1 0.3 5.3 0.3 5.1 0.2 5.4 0.3 5.1 0.2 5.4 0.3 5.1 0.3 5.4 0.7 4.4 0.6 4.8 0.7 4.3 0.7 4.9 0.5 4.3 0.4 4.8 0.5 4.4 0.5 4.8 0.6 4.4 0.7 4.7 0.7 4.4 0.7 4.7 0.5 4.4 0.4 4.8 0.5 4.4 0.4 4.8 0.7 4.4 0.7 4.8 0.7 4.4 0.7 4.7 0.7 4.4 0.7 4.8 0.6 4.3 0.7 4.9 0.9 4.2 1 5 0.9 4.2 0.9 4.9 1.1 2.9 1 3.2 1.1 2.8 1.1 3.2 1 2.8 1.1 3.4 1.1 1.8 1 3.1 1.1 1.9 1 2.9 1 1.5 1.1 3 1 1.8 1 1.8 1 0.9 1 1.8 1 0.6 1 1.9 1 0.5 1 1.9 1 0.5 1 1.9 1 0.3 1 2 1 0.8 1 3 1.1 2.4 1.1 3.1 1 2.4 1.1 3.2 1.1 2.4 0.9 2.7 0.9 1.6 0.9 3 0.9 1.2 0.9 2.9 0 0.9 1.1 3.3 1.1 2.7 1.1 3.2 1.1 2.6 1.1 3.3 1 2.5 0.9 3.3 0.9 2.6 0.9 3.2 0.9 2.5 1.1 3.5 1.1 1.9 1.1 3.2 1.1 1.9 1.1 3 1.1 1.1 1.1 2.8 1.1 1.1 1.1 2.6 1.1 1.1 1.1 3 1.1 1.2 1.1 3.1 1.1 1.3 1.1 2.7 1.1 0.9 1.1 2.2 1.1 0.6 1.1 2.4 1.1 0.9 1.1 1.7 1.1 0.3 1.1 2.4 1.1 -0.2 1.1 2.4 1.1 0.9 1.1 2.8 1.1 0.4 1.1 2.8 1.1 0.5 1.1 3.1 1.1 0.8 1.1 3 1.1 0.9 1.1 2.8 0.9 0.8 0.9 3.2 1 0.2 0.9 3.5 1.1 0.2 1.1 2.5 1.1 0.7 1.1 2.3 1.1 0.6 0.9 3 0.9 2.1 0.9 3.1 0.9 1.8 1 3.2 0.9 2.3 0.9 3.6 0.9 2.3 0.9 3.5 0.9 2.1 1.1 3.9 1.1 1.4 1.1 3.7 1.1 1.7 1.1 3.4 1.1 1.1 1.1 2.5 1.1 0.8 1.1 2.9 1.1 0.6 1.1 3.2 1.1 0.5 1.1 3.2 1.1 0.5 1.1 2.7 1.1 -0.3 1 2.2 1.1 -0.7 1 2.6 1.1 -0.8 1 2.2 1.1 -0.5 0.9 2.9 0.9 0.7 0.9 3.1 0.9 0.4 1.1 2.2 1 -0.4 1.1 1.4 1 0.2 1.1 1.7 1 -0.7 1.1 2.5 1 -0.5 1 2.5 1.1 -0.2 1 2.2 1.1 -0.3 1 2.2 1.1 -0.1 1.1 2.3 1.1 -0.7 1.1 2.6 1.1 -0.6 1.1 2.2 1 -0.4 1.1 1.6 1 -0.7 1.1 1.6 1 -1.3 1.1 1.4 1 -0.7 0.9 3.5 0.9 1.5 1 3.1 0.9 1.5 1.1 0.8 1.1 -1.2 1.1 1.6 1.1 -1.5 1.1 1.4 1.1 0.3 1.1 2.6 1.1 0.4 1.1 2.4 1.1 0.2 1 1.8 1.1 -0.5 1 2.6 1.1 -0.2 1 2.1 1.1 -0.2 1 2.6 1 -1.5 1 3 1.1 -1.1 1 1.8 1 0 1 1.3 1 -0.2 1 2 1.1 -0.8 1 2.1 1 -1.3 1 1.8 1 -0.8 1 1.6 1 -0.5 1 1.5 1 -0.8 1 1.6 1 -0.9 1 2.1 1 -0.5 1 1.3 1 -0.4 1 1.8 1 -1.2 1.1 2.8 1 -1.2 1 2.2 1 -1.1 1 2.5 1.1 -0.9 1 2.4 1 -0.6 1 2.7 1 -0.9 1 3.4 1.1 -1.2 1 2.7 1 -1.4 1 2.1 1 -1.2 1 2.2 1 -1 1 1.9 1 -0.7 1 2 1 -0.9 1 2.1 1 -1.1 1 1.3 1 -1 1.1 1.7 1 -1.2 1 2.5 1 -0.3 1.1 2.5 1 0.2 1.1 2.2 1 -0.2 1.1 2.5 1 -0.9 1.1 1.8 1 -1.8 1.1 1.8 1 -1.8 1.1 2 1 -1.9 1.1 1.5 1 -0.4 1.1 1.8 1 -0.2 1 2.3 1.1 -1 1 3.3 1.1 -1.2 1.1 2.9 1.1 0.5 1.1 2.1 1.1 0.3 1.1 3.2 1.1 -1.9 1.1 2.4 1.1 -1.4 1.1 2.1 1.1 -1.3 1 1.6 1.1 -2.3 1 1.5 1.1 -2.2 1 1.2 1.1 -1.3 1 0.7 1.1 -0.5 1 2.2 1.1 -1.3 1 3.3 1.1 -1.9 1 3.5 1 -1.5 1.1 2.3 1.1 -1.5 1.1 2.3 1 -1.8 1.1 2.4 1.1 -1.9 1 2.9 1.1 -0.5 1.1 3.2 1 -0.3 1.1 3.8 1.1 -1 1 2.7 1.1 -2.7 1 2.4 1.1 -2.4 1 1.9 1.1 -2.6 1 2 1.1 -2.1 1.1 2.3 1.1 -2 1.1 2.1 1.1 -1.8 1 2.5 1.1 -1.1 1 2.3 1.1 -1.3 1 2.8 1.1 -1.8 1 2.6 1.1 -1.2 1 2.1 1.1 -0.3 1 1.8 1.1 0 1 2.1 1.1 -0.7 1 1.6 1.1 -1.8 1 1.8 1 -2.2 1.1 1.8 1 -2.5 1.1 1.1 1 -1.7 1.1 1.9 1 -1.6 1.1 2.2 1 -2 1.1 2.7 1 -1.7 1.1 2.1 1 -1.5 1.1 2 1 -2 1.1 3 1 -1.9 1.1 2 1 -1.1 1 2.1 1 -1.4 1 2.6 1 -2.1 1.1 2 1 -1.5 1 1.9 1 -1.6 1.1 2.6 1 -1 1.1 2 1 -0.7 1 1.3 1.1 -0.9 1 1.7 1.1 -1.4 1 1.8 1 -1.8 1 1.2 1 -2 1.1 1 1 -1.5 1 1.6 1 -1.6 1.1 2.1 1.1 -2.2 1.1 2.3 1.1 -2.3 1.1 2.1 1.1 -0.8 1 2.9 1 -1.1 1.1 3.1 1 -1.1 1.1 2.4 1 -0.6 1.1 1.2 1 -1.6 1 1.1 1 -1.8 1 1.2 1 -2 1.1 1.7 1 -2.4 1 2.8 1 -2.7 1 3.3 1 -2.3 1.1 2.6 1 -2.4 1 2.6 1 -2.4 1 2.4 1.1 -1.5 1 2.3 1.1 -0.8 1 2.2 1 -1 1.1 2.2 1 -1.7 1.1 2.3 1 -0.9 1.1 1.9 1 -0.5 1.1 1.8 1 -1.2 1.1 1.9 1 -2.1 1.1 2 1 -3.2 1.1 2.3 1 -3.1 1.1 1.5 1 -2.3 1 0.7 1.1 -0.9 1 0.6 1.1 -1.3 1 1.6 1.1 -3.2 1 2.4 1.1 -2.7 1.1 3.7 1.1 -0.8 1.1 3.3 1.1 -0.9 1.1 3 1 -2.1 1 2 1 -1.6 1 1.4 1.1 -0.8 1 0.9 1 -1.2 1 1.1 1 -0.9 1.1 1.8 1.1 -1.4 1.1 2.6 1.1 -3.5 1.1 3.1 1.1 -2.1 1 2.8 1.1 -1.4 1 2.3 1.1 -1.2 1 2.5 1.1 -1.4 1 2 1.1 -3.2 1 2.1 1.1 -2 1 1.2 1 -1.6 1.1 1.3 1.1 -1.7 1.1 3.1 1.1 -2 1.1 3.1 1.1 -1.2 1.1 0.9 1.1 -2.4 1.1 1.1 1.1 -3.1 1.1 1.4 1.1 -1.2 1.1 2.5 1.1 -1.5 1.1 2.5 1.1 -2.8 1 3.2 1.1 -2.7 1 3.6 1.1 -1.6 1 2.9 1.1 -0.8 1 2.2 1 -2.1 1 1.9 1 -2.7 1 2.6 1 -3.2 1 3.1 1 -3 1 2.5 1 -2.4 1 2.2 1 -2.9 1 3.4 1 -2.7 1 3.1 1 -2.5 1 3.5 1 -2.9 1 3.8 1 -2.9 1 2.6 1 -1.6 1 2.1 1 -1 1 1.3 1.1 -1.6 1 2 1 -2.9 1 2.1 1 -2.5 1.1 2.5 1 -2.6 1 2.4 1.1 -2.4 1 2.3 1.1 -2.2 1 2.4 1.1 -2.3 1 1.8 1 -1.5 1.1 2.8 1 -2.2 1.1 3 1 -2.1 1.1 2.4 1 -1.1 1 1.7 1 -1.7 1 1.3 1 -1.2 1 1 1 -1.4 1 1.7 1 -2.1 1 1.8 1 -2.2 1 2.6 1.1 -2.5 1 2.8 1.1 -2.3 1 1.7 1.1 -0.7 1 1.8 1.1 -0.8 1 1.7 1.1 -1.6 1 1.9 1 -2.2 1.1 3.2 1 -2 1.1 3 1 -2.8 1 1.7 1 -2.5 1.1 2.3 1 -1.6 1 1.8 1 -1.1 1 0.5 1 -0.5 1.1 0.8 1 -0.4 1.1 1.5 1 -2 1.1 3.7 1 -3.6 1.1 3.9 1.1 -2.3 1.1 2.2 1.1 -1.2 1.1 1.9 1.1 -1 1 1 1 -1.5 1 2 1 -1.9 1.1 2.2 1 -1.6 1 1.3 1 -2.2 1 2.3 1.1 -3 1 3.6 1 -2.7 1 3 1 -2.7 1 3 1.1 -2.5 1 3.3 1 -3 1 3.1 1.1 -1.5 1 2.2 1.1 -0.8 1 2.5 1.1 -1.5 1 3.4 1 -2.6 1.1 2.2 1 -2.6 1 2.4 1 -2.4 1 2.3 1.1 -2.1 1 1.4 1 -2.1 1 2.7 1 -2.7 1 3.6 1.1 -3 1 3.1 1 -2.5 1 3.5 1 -2.8 1.1 4.1 0.9 -3 1 2.6 1 -2.9 1 1.6 1 -1.8 1 0.9 1 -1.2 0.9 0.5 0 0.6 1 2.5 1.1 -2.2 1 3.1 1.1 -2.7 1 2.9 1.1 -2.7 1 2.5 1.1 -2.2 1 2.2 1.1 -3 1 2.3 1.1 -3.2 1 2.5 1.1 -2.8 1 3 1.1 -1.9 1 2.4 1 -1.8 1.1 2.8 1 -1 1.1 2.2 1 -1.4 1 2 1 -2.2 1.1 3 1 -2.4 1 2.9 1 -2.5 1 2.3 1.1 -2.1 1 1.9 1 -1.9 1 2.4 1 -2.6 1 2.4 1.1 -2.3 1 2.3 1 -1.6 1 2.5 1 -2.7 1.1 3.6 1 -3.2 1 4 1 -3.6 1 4.2 1 -3.6 1.1 3.9 1 -2.8 1 2.6 1 -2.1 1 1.8 1 -0.7 1.1 1.3 1 -1 1 1.8 1 -1.6 1 2 1.1 -1.9 1 2 1 -2.1 1 2.5 1 -2.2 1 2 1.1 -2.8 1 1.8 1 -1.9 1 2.6 1 -1.9 1.1 2.3 1 -1.9 1 2.3 1 -2.1 1 3.7 1 -3.2 1.1 4.1 1 -3.5 1.1 2.4 1 -2.9 1.1 1.9 1 -3.5 1 3.4 1.1 -4.2 1 4.6 1.1 -2.7 1 2.9 1.1 -1.2 1 2.1 1.1 -0.8 1 2.1 1.1 -0.9 1.1 2 1.1 -1.2 1.1 2.6 1.1 -0.8 1.1 1.4 1 -1.9 1.1 2.1 1 -3.2 1.1 2.6 1 -2.8 1.1 1.9 1 -1.7 1 2.7 1.1 -2.9 1 3.2 1.1 -3.2 1 2.9 1.1 -1.5 1 1.7 1.1 -1.2 1 0.9 1.1 -1.6 1 1.4 1.1 -1.6 1 2.6 1 -1.6 1 2.5 1.1 -1.4 1 1.7 1 -1.3 1 1.7 1 -1.6 1.1 2.1 1 -2.2 1 2.9 1.1 -2 1 2.7 1.1 -1.8 1 1.7 1.1 -1 1 1.8 1.1 -0.8 1.1 1.6 1.1 -1.2 1.1 1.3 1.1 -0.9 1.1 1 1.1 -2.1 1.1 2 1.1 -2.3 1.1 3.2 1.1 -2.2 1.1 3.8 1.1 -2.3 1.1 2.8 1.1 -0.6 1.1 0.3 1.1 -1.5 1.1 0.4 1.1 -2.1 1.1 1.3 1.1 -1.8 1.1 3.2 1.1 -2 1.1 2.4 1.1 -1.8 1 1.9 1.1 -2.8 1 2.8 1.1 -3 1 2.2 1.1 -2.9 1 1.6 1.1 -1.9 1 2.7 1.1 -1.6 1 2.9 1.1 -1.5 1 3 1.1 -2.4 1.1 3.4 1.1 -1.8 1.1 3.3 1.1 -1.5 1.1 2.6 1 -3 1 1.7 1.1 -2.4 1 1.8 1.1 -2 1 1.7 1.1 -2.1 1 2.3 1.1 -1.7 1 2 1.1 -1.9 1 2.3 1.1 -2.3 1 2.9 1.1 -3.2 1.1 3.4 1.1 -2.6 1.1 2.7 1.1 -2 1.1 2 1.1 -1 1.1 2 1.1 -1.2 1.1 3.4 1.1 -3.1 1.1 2.6 1.1 -3.2 1.1 1.4 1.1 -2.6 1.1 1.6 1.1 -1.1 1.1 2.7 1.1 -1.7 1.1 2.9 1 -2 1.1 2.6 1 -2.1 1.1 3.1 1 -2.4 1.1 3.2 1 -2.1 1 2.9 1.1 -2.9 1 2.6 1 -2.3 1 3.2 1 -2.4 1.1 3.3 1 -1.7 1 2.7 1 -1.8 1.1 3.6 1 -3.3 1.1 3.4 1 -2.9 1.1 2.5 1 -1.7 1.1 1.9 1 -3.1 1.1 3.1 1 -4 1.1 3 1 -2.4 1.1 0.3 1.1 -0.5 1.1 2.3 1.1 -1.6 1.1 4.3 1.1 -2 1 3.8 1 -1.9 1.1 2.3 1 -1.6 1.1 2.2 1 -1.9 1.1 3.1 1.1 -2.7 1.1 2.7 1.1 -3.3 1.1 2.9 1.1 -3.1 1 3.1 1 -0.9 1 2.5 1.1 -1.2 1 3.6 1 -2.5 1 3.5 1 -1.7 1 3.2 1.1 -2.7 1.1 1.2 1 -2.9 1.1 1.9 1.1 -4.8 1.1 3.4 1 -3.4 1.1 4.1 1.1 -1.7 1 3.2 1.1 -2.1 1.1 3.4 1 -2.5 1.1 3.5 1 -2.6 1.1 4.2 1 -3.3 1.1 4.3 1 -3.2 1 2.7 1.1 -3 1 2.6 1.1 -2.9 1 2.7 1.1 -3.2 1 2.7 1.1 -1.9 1.1 4.4 1.1 -2.2 1.1 4.8 1.1 -2 1.1 4.8 1 -2.6 1.1 4.1 1 -2.4 1.1 2.8 1 -1.5 1.1 3.1 1 -2.6 1.1 2.7 1 -3.5 1 2.7 1.1 -3.6 1 2.5 1.1 -2.5 1 1.8 1 -2 1 1.5 1.1 -2 1 2.3 1 -2.8 1 2.2 1 -2.4 1 1.9 1.1 -1.9 1 2.9 1.1 -2 1 2.5 1.1 -0.9 1 2.1 1.1 -1.2 1 2 1 -1.8 1 3.1 1.1 -3 1 3.3 1 -3 1 2.9 1 -2.7 1 3 1.1 -3 1 3.1 1 -3 1 3.3 1 -2.6 1.1 3.1 1 -2 1 2.7 1 -2 1.1 2.3 1 -1.4 1 2.8 1.1 -1.4 1 2.3 1.1 -1.5 1 2.3 1.1 -1.8 1 2.8 1.1 -3.2 1 3.4 1.1 -4.1 1 2.8 1.1 -2.5 1 3.2 1.1 -1.6 1 3.5 1.1 -2.1 1 3.2 1 -2 1.1 3.1 1 -2.8 1.1 3.4 1 -3.9 1.1 4.9 1 -4.4 1.1 4.4 1 -3.6 1 3.3 1 -0.7 0.9 3.4 1 -1.7 1 4.9 1 -3.6 0.9 5.2 1 -3.5 1 3.9 0.9 -1 0 3.4 1 -3.2 1.1 1.9 1 -2.6 1.1 1.6 1 -2.1 1.1 1.4 1 -1.6 1.1 3 1 -3.2 1.1 5.2 1 -3.6 1.1 4.4 1 -1.9 1.1 3.7 1 -3.1 1.1 3.3 1 -3 1 2.9 1.1 -2.6 1 2.9 1.1 -3.3 1 3.8 1.1 -2.5 1 3.6 1.1 -2.7 1 5.5 1.1 -2.9 1 4.6 1.1 -3.7 1 3.4 1.1 -2.8 1 1.8 1.1 -1.8 1 2.4 1.1 -2.6 1 3.4 1 -2.2 1.1 1.3 1 -1.8 1.1 3.3 1 -3.7 1.1 4.5 1 -3.3 1 4.1 1 -1.5 1.1 3.4 1 -2.6 1 4.8 1 -3.5 1 5.6 1 -3.3 1.1 4.3 1 -3.7 1.1 4.4 1 -4.5 1.1 4.9 1 -4.8 1.1 4.6 1 -4.5 1 5.2 1.1 -5.9 1 5.6 1 -4.4 1.1 3.9 1 -3.5 1 1.9 1 -2.4 1.1 2.4 1 -2.1 1 3.3 1.1 -2.5 1 3.8 1 -2.2 1.1 3.9 1 -4 1.1 5.3 1 -5.6 1.1 6.3 1 -5.5 1 5.8 1.1 -4.9 1 4.9 1.1 -3.1 1 2.7 1.1 -1.1 1 2.8 1.1 -1.2 1 2.1 1.1 -1.6 1 2.7 1.1 -2.9 1 3.9 1.1 -2.1 1 2.4 1.1 -1.8 1 2.4 1 -3.3 1.1 3.7 1 -2.1 1.1 3.4 1 -2.1 1.1 3.3 1 -3.6 1 3.8 1 -3 1.1 3.2 1 -2.9 1 3.6 1 -5.2 1 4.7 1 -4.2 1 3.8 1 -2.2 1 3.2 1 -3.7 1 5.6 1 -4.3 1 5.4 1 -4.5 1 3.9 1 -3.8 1 4.3 1 -4 0.9 3 0.9 -3.5 0.9 1.4 1.1 -3.7 1.1 5 1.1 -3.3 1.1 4.9 1.1 -2.7 1.1 2.8 1.1 -5 1.1 4.4 1.1 -4.2 1.1 3.3 1.1 -1.7 1.1 3.5 1.1 -1.3 1.1 3.5 1.1 -2.2 1 3.7 1.1 -4.6 1 4.6 1.1 -5.1 1 4.1 1.1 -4.4 1 4.6 1.1 -3.9 1 3.8 1.1 -3.4 1 1.3 1.1 -2.8 1 2.5 1.1 -2.8 1 5.2 1 -5.1 1 5.7 1 -5.5 1.1 3.8 1 -2.1 1 3.9 1 -3.5 1 4.3 1.1 -4.6 1.1 2.1 1 -3.4 1.1 2.2 1.1 -4.3 1 1.4 1 -1.6 0.9 5.1 0.9 -1 0.9 4.4 1.1 -2.9 1.1 -0.1 1.1 -3 1.1 0.3 1.1 -3.9 1.1 3.7 1 -2.9 1.1 4.6 1.1 -4 1 5.1 1.1 -4.1 1 6 1 -5.2 1.1 6 1 -6.2 1 7.2 1 -7.2 1 7.7 1.1 -6.7 1 6.3 1 -6.7 1 5.8 1 -3.4 1 2.9 1.1 -2 1 3.2 1 -4.6 1 5.8 1 -4.8 1.1 5.5 1 -5.4 1.1 4.3 1 -4.6 1.1 3.5 1 -4.1 1.1 5.7 1 -4.4 1.1 6 1 -4.9 1.1 5.2 1 -5.1 1.1 5.7 1 -3.1 1.1 2.3 1 -4.3 1.1 2 1.1 -6.2 1 4.2 1.1 -4.1 1.1 4.7 1.1 -2.1 1 4.1 1.1 -2.8 1.1 4.3 1 -2.5 1.1 3.6 1 -3.8 1.1 4.1 1 -3.7 1.1 3.2 1 -3.3 1.1 2.5 1.1 -4.2 1.1 6 1.1 -4.8 1.1 5.7 1.1 -3.9 1.1 2.4 1.1 -5.3 1.1 1.2 1.1 -4.2 1.1 1.9 1.1 -2.3 1.1 6.7 1 -2.2 1.1 6 1.1 -3.4 1.1 5.9 1 -6.6 1.1 3.2 1 -4.4 1.1 3.2 1 -3.7 1.1 5.2 1 -5.3 1 6 1 -7 1.1 4 1 -3.7 1 1.7 1 -2.7 1 3.7 1 -5.3 1.1 5.6 1 -4.2 1 4.2 1 -3.5 1 5 1 -3.8 1.1 3.6 1 -1.9 1 1.7 1.1 -1.9 1 6.7 1 -7.2 1.1 9.1 1 -5.7 1.1 7.1 1 -3.9 1.1 3.5 1.1 -7.2 1 2.7 1.1 -5.3 1.1 1.5 1 -4.6 1.1 4.1 1.1 -3.1 1.1 4.8 1 -1.9 1.1 6.1 1.1 -2 1 4.8 1 -5.2 1 3.3 1 -5.9 1.1 4.9 1 -6.6 1 8 1 -7.7 1 7.6 1 -5.9 1.1 4.8 1 -5 1 5.5 1 -6.7 1 5.4 1.1 -4.8 1 3.9 1 -3.6 1 5.3 1.1 -4.7 1 4.8 1.1 -3.3 1 4 1.1 -3.3 1 5.6 1.1 -7.2 1 6.3 1.1 -8.1 1 5.9 1.1 -6.6 1 7 1 -7.4 1.1 7.3 1 -6.4 1.1 5.5 1 -5.1 1.1 6.2 1 -6.2 1.1 7.4 1 -5.4 1 6.4 1.1 -3.1 1 4.3 1 -3.5 1.1 4.2 1 -4.2 1 6 1.1 -6.9 1.1 3.9 1 -5.2 1.1 2.5 1.1 -4.9 1 5.7 1.1 -8 1 7.8 1.1 -6.9 1 6.5 1.1 -4.7 1 5.5 1.1 -3.9 1 4.7 1.1 -5.5 1 5.3 1.1 -5.4 1 4.8 1 -7.2 1.1 7.6 1 -8.4 1.1 7.9 1 -6.6 1.1 6.3 1 -7.1 1.1 6.7 1 -6.9 1.1 5.9 1 -6.7 1.1 7.8 1 -7.2 1.1 7.7 1 -7 1.1 6.8 0.9 -6 1 6.7 1 -5.6 1 3.1 1 -3.2 1 3.5 1 -4.5 0.9 3.2 0 -1.3 1 5.5 1 -4.7 1.1 5.7 1 -6.7 1 6.5 1 -5.6 1 4.1 1 -2.6 1.1 2.3 1 -4.7 1 4.2 1 -5.7 1 5.5 1.1 -6.5 1 6.4 1 -7.7 1 6.5 1 -5.4 1 5.5 1.1 -3.2 1 3.6 1 -4.1 1 4.1 1 -4.6 1.1 6.5 1 -5.2 1 7.8 1 -6.8 1 7.8 1 -6.5 1.1 5.2 1 -5.2 1 3 1 -3.8 1 5.6 1.1 -8 1 8.2 1 -7.3 1.1 5.9 1 -2.1 1.1 2.8 1 -1.9 1.1 3.7 1 -5.1 1 4.3 1.1 -5.2 1 3.1 1 -5.1 1.1 1.5 1 -5 1 3.1 1.1 -2.7 1.1 5.5 1 -2.3 1.1 3.9 1.1 -0.6 1 5.6 1.1 -4.4 1 4.9 1 -5.1 1 2.1 1 -4.2 1 2.8 1.1 -3.8 1 5.1 1 -4.8 1 4.2 1 -4.4 1.1 4.7 1 -6.2 1 7.7 1 -9 1 8.8 1 -7.9 1.1 6.3 1 -6 1 3.7 1 -3.8 1 3.3 1.1 -1.6 1 2.4 1 -4.1 1 5.7 1 -6.7 1 6.9 1.1 -5.2 1 5 1 -4.3 1 6.8 1 -6 1.1 8 1 -6.5 1 6.6 1 -6.5 1.1 5.2 1 -6.8 1.1 5.2 1 -5.4 1.1 3.7 1 -3.8 1.1 4.7 1 -5.8 1.1 5.3 1 -7.3 1.1 4.4 1 -5.7 1.1 5.1 1 -4.6 1 7.8 1.1 -6.3 1 7.4 1.1 -6.2 1 7.9 1.1 -6.4 1 6.7 1 -7 1 6.2 1.1 -6.2 1 5.1 1 -5.3 1 3.2 1 -4.3 1 4.8 1.1 -3.7 1 6.1 1.1 -5.2 1 4.6 1.1 -5 1 5.3 1.1 -4.9 1 6.7 1 -7.9 1 8.3 1 -6.8 1.1 5.1 1 -2.7 1 1.5 1 -1.7 1 4.5 1.1 -5.3 1 4.8 1.1 -4.9 1 3.4 1.1 -3.6 1 2.7 1.1 -4.5 1 4.3 1.1 -4.8 1 5.8 1.1 -5.2 1 5.1 1 -3.5 1.1 6.1 1 -5.3 1.1 6.6 1 -7.1 1.1 4.8 1 -3.8 1.1 3.6 1 -4.8 1.1 6.6 1 -8 1.1 7.3 1 -6.2 1.1 5.9 1 -4.3 1.1 3.6 1 -3.7 1.1 4.7 1 -5.7 1 6 1.1 -7.3 1 6.2 1.1 -4.8 1 5.3 1.1 -3.5 1 5.3 1.1 -5.2 1 5.9 1.1 -7.2 1 5 1 -5.8 1.1 5.3 1 -4.9 1 6 1 -6.5 1 5.6 1 -4.4 1.1 4.3 1 -3.9 1 3.4 1 -3.3 1 3 1.1 -3.2 1 4.6 1 -5.8 1 5.8 1 -5.1 1 4.2 1.1 -4.7 1 5 1.1 -6.2 1 8.2 1.1 -6.8 1 7.5 1.1 -5.1 1.1 5.5 1.1 -4.6 1.1 5.6 1.1 -6 1.1 6.1 0.9 -7.2 1 5.9 1 -4.8 1 3.6 1 -2.9 1 1.3 1 -4.3 1 4.4 1 -6.1 1 7.6 1 -6.2 1 5.5 1 -4.9 1 4.6 1 -5.5 1 6.8 1 -7.5 1 6.8 1 -4.2 1 3.9 1 -2.6 1 3.9 1 -4.1 1 6.3 1 -5.9 1 6.8 1 -6.7 1.1 5.3 1 -4.3 1 5 1 -5.6 1 6 1.1 -6.5 1 6.6 1 -5.3 1 5.8 1 -6.8 1 6.2 0.9 -7.1 1 5.8 1 -4.7 1 2 1 -2.7 1 2.5 1 -3.4 1 6.1 1 -7.1 1 8 1 -7.4 1 6.1 1 -4.3 1 3 1 -3.4 1 5.7 1 -6.1 1 7.6 1 -8.7 1 6.2 1 -5.9 1 6 1 -5 1 5.3 1 -5.2 1 3.1 1 -3.4 1 2.3 1.1 -3.3 1 5.5 1 -5.9 1 8.2 1 -5.6 1 4.5 1.1 -2.4 1 3.5 1 -4.9 1 6.8 1 -8.2 1 6.3 1 -7 1 5.6 1 -5.7 1 6.7 1 -6.9 1 5.3 1 -6.2 1 5.3 1 -4.2 1 5.4 1 -5.7 1 6 1 -7.4 1 7.4 1 -4.7 1 3 1 -2.2 1 3.8 1 -6.1 1 7.8 1 -8.1 1 5.7 1.1 -5.2 1 4.3 1 -4.6 1 5.2 1 -6.9 1.1 5.8 1 -5.2 1 5.6 1 -2.1 1 3.7 1 -1.7 1.1 4 1 -3.9 1 4.1 1 -3.1 1 2.9 1 -4 1 4.9 1 -6.9 1 4.6 1 -6 1 3.9 1 -2.7 1 3.7 1 -4.6 1 4.7 1 -7.3 1 7.5 1 -7 1 7.3 1 -6.8 1 7.1 1 -7.4 1 7.5 1 -5.6 1 5.2 1 -3.4 1 3.6 1 -4.2 1 3.5 1 -5.2 1 3.5 1 -7.2 1 5.5 1 -4.8 1 4.3 1 -3.8 1 3 1 -3.9 1 4.2 1 -3 1 5.9 1 -4.9 1 5.8 1 -5.2 1 4.7 1 -5.5 1 5.3 1 -4.5 1 5.2 1 -5 1 5.1 1 -5.7 1 5.3 1 -5.3 1 4.2 1 -6.1 1 5.7 1 -7.2 1 6.9 1 -6.8 1 5.9 1 -5.3 1 5 1 -1.6 1 2.3 1 -2.3 1 4 1 -5 1 4.3 1 -2 1 1.1 1 -2.6 1 2.1 1 -2.5 1 3.5 1 -4.1 1 4.7 1 -5.8 1 3.4 1 -2.9 1 3.5 1 -5.8 1 6.8 1 -6.6 1 6.4 1 -5.2 1 5.9 1 -6.9 1 6.8 1 -6.5 1 5.3 1 -5.2 1 5 1 -4.2 1 5 1 -2.8 1 4.5 1 -5.7 1 5.4 1 -6.7 1 4.7 1 -5.5 1 3.9 1 -5.7 0.9 5.2 1 -6.5 1 6.9 1 -6.9 1 7.6 1 -6.8 1 5.7 1 -7.5 0.9 6.4 1 -7.1 1 7.6 1 -7.5 1 8.2 1 -6.3 1 5.2 1 -4.7 1 6.3 1 -3.9 1 5 1 -3 1 1.9 1 -1.4 1 3.2 1 -5 1 7.2 1 -7.4 1 6 1 -6.1 1 5.9 1 -6.2 1 5.2 1 -4.5 1 4.1 1 -6.7 1 5.8 1 -4.8 1 4.5 1 -1.6 1 2.1 1 -1.8 1 1.6 1 -1.2 1 3.2 1 -3.9 1 4.8 1 -7.1 1 6.7 1 -7.6 1 8.2 1 -7 1 5.6 1 -4.4 1 3.4 1 -4.9 1 4.6 1 -5.4 1 5.1 1 -3.8 0.9 5.2 1 -4.5 1 3.4 1 -3.5 1 2.9 1 -3.1 1 3 0.9 -2.8 1 4.4 1 -5.2 1 6.3 1 -6.9 0.9 6.4 1 -7.9 1 6 0.9 -5.6 1 3.2 1.1 0 1.1 0 1 0 1.1 0"/>
<path d="M214.6 66V621" fill="none" stroke="#0000bf" stroke-width="4"/>
<path class="curve" stroke="#0000bf" d="M214 65.9l0 5.2 0 4.8 0 5.2 0 4.7 0.1 5.2 0 4.8 0 5.1 0 4.8 0 5.2 0 4.8 0 5.1 0 4.8 0 5.1 0 4.9 0.1 5.1 0 4.8 0 5.2 0 4.8 0 5.1 0 4.9 0 5.1 0 4.9 0 5.1 0.1 4.9 0 5 0 4.9 0 5.1 0 4.8 0 5.1 0 4.9 0 5.1 0 4.8 0.1 5.2 0 4.8 0 5.2 0 4.8 0 5.1 0 4.9 0 5.1 0 4.8 0 5.1 0 4.8 0.1 5.1 0 4.9 0 5.2 0 4.8 0 5.1 0 4.8 0 5.2 0.1 4.7 0 5.3 0 4.8 0 5.2 0 4.8 0 5.2 0 4.8 0.1 5.2 0 4.8 0 5.2 0 4.8 0 5.2 0.1 4.8 0 5.1 0 5 0 5.1 0 4.8 0 5.2 0 4.8 0.1 5.2 0 4.8 0 5.2 0 4.8 0 5.2 0.1 4.8 0 5.2 0 4.8 0 5.3 0 4.7 0 5.2 0 4.8 0 5.2 0.1 4.8 0 5.3 0 4.7 0 5.3 0 4.7 0 5.3 0 4.7 0 5.2 0 4.8 0.1 5.2 0 4.8 0 5.2 0 4.8 0 5.1 0.2 5 0.2 5.1 0.1 4.9 0.2 5 0.2 4.9 0.1 5.1 0.2 4.8 0.2 5.3 0.4 4.8 0.3 5.2 0.3 4.8 0.4 5.2 0.1 4.8 0.1 5.2 0 4.8 0.1 5.2 0.5 4.5 0.4 4.7 0.5 4.4 0.5 4.6 0.6 4.5 0.7 4.7 0.7 4.5 0.7 4.7 0.7 4.5 0.7 4.7 0.7 4.4 0.7 4.8 0.9 4.3 0.9 4.8 0.9 4.4 0.9 4.8 0.9 3.5 1 3.8 0.9 3.6 0.9 3.8 0.9 3.4 1.1 3.3 1 2.8 1.1 3.4 1.1 2.7 1 3.3 1.1 2.8 0.9 4.8 0.9 4.4 1 4.8 0.9 4.4 0.9 4.3 0.9 4 0.9 4.2 0.9 4 1 3.9 0.9 3.4 1 1.4 1.1 0.5 1 1.6 1.1 0.6 1 1.8 1.1 0.4 1 1.5 1.1 0.3 1.1 1.8 1.1 0.3 1.1 2 1.1 0.5 1.1 0.1 1 -0.9 1 0.2 1.1 -1.1 1 0.4 1.1 -1.2 1 0.3 1.1 -0.4 1 1 1.1 -0.4 1 1 1.1 -0.7 1 1 1.1 -0.6 1 1.9 1 -0.2 1 1.9 1 -0.2 1.1 1.7 1 0 1 1.6 1 0 1 1.7 1.1 -1.2 1 0.9 1.1 -1.1 1 0.8 1.1 -0.9 1 0.7 1.1 -1.1 1 1.3 1.1 -0.9 1 1.6 1 -0.7 1.1 1.1 1 -0.4 1.1 1.1 1.1 0.2 1.1 2.3 1.1 0.3 1.1 2 1.1 0.7 1 1.2 1.1 0.5 1 1.3 1.1 0.4 1 1.5 1.1 0.2 1 2.1 1.1 -0.2 1 2.5 1.1 -0.6 1 2.4 1.1 -0.3 1 2.2 1 0.1 1.1 1.6 1 0.2 1.1 1.5 1 -0.1 1.1 2 1 -0.6 1.1 2 1 -0.3 1.1 1.7 1 -0.1 1.1 1.3 1 -0.2 1.1 1.7 1 -0.5 1.1 1.4 1 -1.3 1 1.2 1.1 -0.8 1 1.3 1.1 -0.7 1 0.9 1.1 -0.3 1 1.9 1.1 0.1 1 1.8 1.1 0.1 1 1.7 1.1 -0.4 1 1.7 1.1 -0.6 1 1.7 1.1 -0.3 1 1.7 1 -0.4 1.1 1.4 0.9 0.2 0.9 1.8 0.9 0.6 1 1.7 0.9 2.5 0.9 3.7 0.9 1.7 1 2.6 1.1 -1 1 2.4 1 -0.7 1.1 2.1 1 -0.8 1 1.9 1.1 -0.5 1 1 1.1 -0.8 1 1.6 1 -1.2 1.1 1.8 1 -1 1.1 1.7 1 -0.8 1.1 2.5 1 -0.7 1.1 1.9 1 -0.3 1.1 1.6 1 -0.6 1.1 2.4 1 -1 1.1 2.5 1 -1 1.1 2 1 -0.7 1 1.8 1.1 -1.5 1 0.6 1.1 -1.3 1 1.1 1.1 -2 1 1.1 1.1 -1.7 1 0.6 1.1 -0.6 1 0.4 1.1 -0.7 1 0.8 1.1 -1 1 0.4 1.1 -0.2 1 1.7 1 -0.5 1.1 2.5 1 -1 1.1 2.7 1 -0.7 1.1 0.6 1.1 -1.7 1.1 0.4 1.1 -2.2 1.1 0.7 1.1 -1.1 1 1.9 1.1 -0.2 1 1.5 1.1 0.3 1 1.4 1.1 -0.3 1 1.2 1 -1.1 1 2.2 1 -1.4 1.1 2.1 1 -1.3 1 1.3 1 -0.6 1 1.3 1.1 -1.2 1 2 1.1 -1.6 1 2 1.1 -1.3 1 2.2 1.1 -1.6 1 2.2 1 -1.6 1 1.6 1 -0.8 1 1.6 1.1 -1.2 1 1.4 1 -1 1 0.8 1 -0.9 1.1 0.6 1 -2 1 2 1 -3 1 2.2 1 -2.4 1.1 1.3 1 -1.6 1 2 1 -1.3 1 2.5 1.1 -1.2 1 1.6 1 -0.7 1 1.1 1 -0.4 1 1.8 1.1 -2.7 1.1 2 1.1 -3 1.1 2.1 1.1 -2.3 1.5 2.8 1 -1.2 1.1 1.4 1 -0.9 1.1 1.7 1 -1.2 1.1 2.8 1 -1.9 1.1 1.6 1.1 -3.8 1 1.3 1.1 -3.9 1.1 1.4 1 -3.2 1 6.3 0.9 4.8 0.9 6.2 0.4 4.9 0.3 6.2 0.4 4.8 0.4 6.1 0.3 5 0.3 5.2 0.3 4.5 0.3 5.5 0.3 4 0.4 5.9 0.3 3.3 1 2.4 1.1 -1 1 1.4 1 -0.9 1.1 1.5 1 -1.8 1.1 2.5 1 -1.7 1.1 2.8 1 -0.8 1.1 1.8 1 -0.2 1.1 1.9 1 -1 1 1.5 1.1 -3 1 1.7 1 -2.6 1.1 1.7 1 -2.2 1 1.4 1.1 -2.1 1 2.5 0.9 -2 1 2.8 1 -2.2 1 3.1 1 -1.9 1 2.9 1 -1.5 1 2.8 1 -2.6 1 3.5 1 -3.1 1 3.1 1 -4 1 2.2 1 -2.2 1.1 1.7 1 -2.2 1 1.8 1 -3.6 1 2.6 1 -2.1 1 3.2 1 -1.7 1 2.7 1 -0.7 1 2.6 1 -0.5 1 1.6 1 -0.2 1 2 1 -0.4 1.1 0.5 1.1 -2.9 1 1.3 1.1 -4.3 1.1 2.3 1 -4.5 1.1 3.7 1.1 -0.1 1.1 2.6 1 0.1 1.1 2.8 1.1 -1.1 1 1.8 1 -2.1 1 1.9 1 -1.5 1 2 1 -1.9 1 1.2 1 -1.7 1 1.3 1 -2 1 2.9 1 -1 1.1 4.4 1.1 -1.5 1 5.2 1.1 -1.6 1.1 5.3 1 -1.2 1.1 6 1.1 -1 1 5.2 1.1 0.1 1.1 4.3 1 0.1 1.1 4.4 1 -0.6 1.1 4.2 1 -1.1 1.1 4.1 1 0.2 1.1 3.3 1 -0.4 1.1 3.6 1 -1.3 1 3.9 1.1 -1.1 1 4.5 1.1 -1.5 1 4.5 1 -1.9 1 4.2 1 -1 1.1 3.9 1 -0.9 1 4.2 1 -1.8 1 3.7 1 -2.1 1.1 3 1 -2.3 1 2.5 1 -1.9 1 1.7 1.1 -1.4 1 2.7 1 -2.8 1.1 2.3 1 -2.1 1.1 2 1 -1.8 1.1 2.4 1 -2.5 1 2.9 1 -0.3 1.1 2.4 1 0 1 3.2 1 -0.7 1 4.1 1 -2.7 1.1 5.2 1.1 -5.3 1.1 2.4 1.1 -3.4 1.1 1.7 1.1 -3.5 1 3.7 1 -2.9 1 4.6 1 -3.2 1 4 1 -1.5 1 1.9 1 -0.3 1 2.9 1 -1.9 1 3.3 1 -1.3 1.1 3.4 1.1 -0.5 1 3.8 1.1 -0.1 1.1 4.2 1 -2.5 1.1 1.8 1 -3.9 1.1 1.3 1 -3.6 1.1 1.8 1 -2.9 1 3.8 1 -2.8 1 3.8 1 -2.5 1 4 1 -2.3 1.1 3.9 1 -2.5 1 3.5 1 -3 1 4.1 1 -4.1 1 4 1 -3.4 1.1 3 1 -2.2 1 3.4 1 -1.9 1 3.4 1.1 -1.5 1 4.4 1.1 -2.6 1 4.7 1.1 -1.1 1 3.6 1.1 -0.7 1 4.5 1.1 -2.4 1 5.2 1.1 -1.3 1 4.8 1.1 -2.2 1 5.8 1 -4.5 1 4 1 -2.8 1 2.9 1 -2.1 1 1.8 1 -2.3 1 2.8 1 -2.8 1 3.3 1 -2.3 1 1.7 1 -2.4 1 1.8 1.1 -3.1 1 2.2 1 -4 1 3.4 1 -3.6 1.1 3 1 -3.5 1 2.7 1 -3.8 1 3.6 1 -3.8 1.1 4.3 1 -2.8 1 1.9 1 -1.9 1 2 1 -1.4 1 2 1 -0.9 1 1.2 1 -0.9 1 2.1 1 -1.2 1 2.6 1 -1.6 1 1.8 1 -1.5 1 2.2 0.9 -1.7 1 3.3 1 -4 1 4.1 1 -4.6 0.9 3.8 1 -2.7 1 3.8 1 -3.8 0.9 5.4 1 -5.4 1 5.5 1 -4.9 1 4.5 1.1 -4.7 1 4 1.1 -4.9 1 2.8 1.1 -4 1 3.3 1 -3 1.1 4.7 1 -5.3 1 5.3 1.1 -6.1 1 4.3 1 -2.8 1.1 2.7 1 -3.1 1 4.3 1 -4.2 1 4 1 -2.3 1 2.1 1 -2.1 1 2.4 1 -3.4 1 4.8 1.1 -2.8 1 5.6 1.1 -1.3 1 2.8 1.1 -0.3 1 3.4 1.1 -1.1 1 1.5 1.1 -3.4 1.1 0.9 1 -3.3 1.1 2.9 1.1 -4.8 1 4.8 0.9 -3.9 1 3.4 1 -1.7 1 1.5 1 -1.7 0.9 3.4 1 -4.1 1 4.8 1 -3.7 1 4.1 1 -1.9 0.9 4.6 1 -3.1 1.1 4 1.1 -4.7 1.1 2.3 1.1 -3.4 1.1 1.7 1.1 -2.8 1 4.3 1.1 -4.3 1 5.7 1 -4.1 1.1 5.4 1 -3.7 1.1 4.1 1 -4.4 1 4.9 1.1 -4.2 1 3.7 1 -3.2 1.1 3.5 1 -4.8 1 5.8 1.1 -5.9 1 5.2 1 -4.5 1 4.8 1.1 -4.8 1 4.7 1 -3.4 1.1 3.2 1 -4 1 5.2 1 -5.4 1 6.9 1 -4.8 1.1 5.4 1 -5.8 1 4.7 1.1 -5.4 1.1 3.4 1.1 -3.9 1.1 4.6 1.1 -6.1 1.1 7.7 1.1 -6.5 1.1 6.8 1.1 -5 1.1 6.2 1 -3.9 1.1 4.7 1 -3.6 1.1 3.4 1 -3.5 1.1 3.7 1 -4 1.1 6 1.1 -4 1.1 6.3 1.1 -2.7 1.1 3.2 1.1 -3.8 1 2.1 1.1 -5.3 1 3.6 1.1 -3.9 1 3.1 1 -3.5 1 2.1 1 -3.6 1 3.2 1 -3 1 2.4 1.1 -2.4 1 1.2 1 -1.6 1 3.5 1 -4.6 1 5.3 1 -5.5 1 6.1 1 -5.1 1 6.3 1 -6.1 1 7 1 -5.9 1 6.2 1 -6 1 5.3 1 -4 1 5.5 1 -4.5 1 5.6 1 -5.7 1 6.7 1 -4.8 1 5.1 1 -5.3 1.1 3.9 1 -4.3 1.1 3.2 1 -3.3 1.1 3.1 1 -4.3 1.1 4.6 1 -3.8 1.1 3.4 1 -2.6 1.1 3.7 1 -5.3 1.1 4.8 1.1 -5.5 1 5.2 1.1 -5 1.1 5.7 1 -5 1.1 5 1 -3.6 1.1 4.9 1 -3.1 1.1 6.4 1 -3.3 1.1 6.4 1 -5.4 1 3.9 1 -4.3 1.1 4 1 -5.9 1 3.8 1.1 -6.4 1 4.2 1.1 -3.2 1.1 5.7 1.1 -3.3 1.1 5.2 1.1 -5 1 4.4 1.1 -7.4 1 6.2 1.1 -7.3 1 6.4 1.1 -7.2 1 5.8 1.1 -6.2 1 6 1.1 -4.9 1 3.9 1.1 -3.9 1 3.6 1.1 -3.9 1 3.8 1 -2.5 1 2.6 1 -1.8 1.1 2.6 1 -1.1 1 2 1 -2.8 1 3.8 1 -3.9 1 5.1 1 -1 1 4.8 1 -2.4 1 4.9 1 -4.1 1 4.9 1 -4.2 1 5.2 1 -4.9 1 5.2 1 -5.9 1 4.2 1 -4.7 1 1.6 1 -2.8 1 1.9 1 -4.4 1 4.1 1 -6.1 1 5.3 1.1 -4 1.1 6.2 1.1 -2.3 1.1 3.4 1.1 -0.5 1.1 0.9 1 -2.4 1.1 2.2 1 -3.3 1 2.2 1.1 -4.6 1 3.1 1.1 -5.7 1 6.5 1.1 -6 1 6.1 1.1 -4.7 1 4.4 1.1 -3.8 1 3.9 1.1 -4.8 1 4.2 1.1 -4 1 3.4 1.1 -4.1 1 4.5 1.1 -3.7 1.1 7.2 1.1 -3.1 1.1 5 1.1 -3.4 1 4.2 1 -6.8 1.1 6 1 -8.3 1 5.8 1 -7.2 1 5.1 1 -4.6 1.1 3.7 1.1 -3 1.1 2.4 1.1 -3.6 1.1 3.5 1.1 -5.8 1.1 7.1 1.1 -4.6 1.1 7.9 1.1 -3.4 1.1 6.7 1 -6.3 1.1 3 1.1 -5.7 1 1.7 1.1 -3.8 1.1 -0.4 0.9 -1.1 0.9 6.1 0.9 -4 0.9 8 1 -4.9 1 5.4 1 -5.1 1.1 4.8 1 -3.9 1.1 5.1 1 -5.1 1.1 4.4 1 -6.5 1.1 3.5 1.1 -5.2 1.1 4.8 1 -4.5 1.1 4.5 1 -3.7 1 5.1 1 -4.3 1 5.4 1 -4.2 1 5.3 1 -3.8 1.1 5.5 1 -5.1 1 6.1 0.9 -6.4 0.9 2 0.9 -5.9 0.9 1.6 1 -4.1 1 6.3 1 -4.1 1 6.8 1 -4.8 1 6.2 1 -4.8 1 4.4 1 -3.8 1 5.2 1 -4 1.1 5.8 1 -6.8 1.1 3 1 -4.6 1.1 3.2 1 -5 1.1 4.5 1 -3.2 1 2.8 1 -1.7 1 3.2 1.1 -3 1 3.1 1 -2.9 1 3.6 1 -2.6 1.1 4.6 1 -4 1.1 4 1 -4.7 1.1 2.7 1 -3.1 1.1 3.6 1 -2.1 1 4.9 1 -2.7 1.1 4.8 1 -4.2 1 6 1.1 -4.6 1 4.7 1.1 -4 1 1.5 1.1 -3.3 1.1 1.8 1 -4 1.1 2.6 0.9 -5.4 0.9 1.9 1 -5.8 0.9 3.1 0.9 -6.5 1.1 6 1 -4.2 1.1 6.2 1.1 -3.9 1 6.8 1.1 -3.7 1 4.4 1 -3.4 1.1 3.1 1 -3.3 1 4.1 1 -4.3 1 6.6 1.1 -5 1 6.7 1.1 -4.9 1.1 4.7 1.1 -4.7 1.1 4.2 1.1 -5.1 1.1 5.2 1.1 -3.7 1.1 5 1.1 -3.4 1.1 4.1 1 -4.8 1.1 4 1 -5.2 1.1 3.9 1 -4.1 1.1 3.7 1 -4.4 1 5.6 1.1 -7.4 1 6.1 1.1 -6.9 1 4.2 1.1 -3.8 1 2.8 1.1 -1.7 1.1 5.4 1.1 -3.6 1.1 6.7 1.1 -3 1 2.7 1.1 -1.4 1 1.9 1 -1.9 1 3.7 1 -4.5 1.1 5.9 1 -6 1 5.2 1 -6.5 1.1 3.8 1 -6.5 1.1 4 1 -6.2 1.1 4.6 1 -5.7 1.1 7.5 1 -5.2 1.1 5.9 1 -5.1 1.1 4.7 1 -4.3 1 5.2 1.1 -4.8 1.1 4.4 1.1 -4.1 1.1 4.6 1.1 -3.9 1.1 4.5 1 -3.8 1.1 3 1 -3.2 1.1 3.3 1 -3.1 1.1 4.2 1 -4.6 1.1 3.2 1 -2.9 1.1 3.2 1 -3 1.1 5.2 1 -6.1 1.1 6.5 1 -8.4 1 5.9 1.1 -6.8 1 4.4 1.1 -5.2 1 4.9 1.1 -5.3 1 7.1 1.1 -6 1 6.5 1.1 -4 1 6.7 1.1 -3.5 1.1 3.8 1.1 -5 1.1 1.8 1.1 -4.4 1.1 1.7 1 -4.8 1.1 3.8 1 -5.7 1.1 5.6 1 -4.5 1 6 1.1 -5.8 1.1 5.1 1.1 -3.3 1.1 5.1 1.1 -0.4 1.1 3.8 1.1 -2.9 1.1 2.7 1.1 -4.2 1.1 4.9 1.1 -6.2 1 4.7 1 -6.8 1 4.2 1 -4.9 1 5.4 1 -5 0 6.7 1 -7.1 1 5.8 1.1 -5.4 1 5.2 1 -4.1 1 5.4 1 -5.7 1 5.3 1.1 -7.1 1 6.1 1 -4.2 1 4.6 1 -2 1.1 2.8 1 -2.4 1 3.9 1 -2.6 1 4.7 1 -5.1 1.1 4.8 1 -4.2 1 3.3 1 -2.2 1 4.4 1.1 -5.4 1 5.6 1 -5.8 1 4.4 1.1 -4.6 1 2.9 1.1 -3.5 1 1.5 1.1 -3.5 1 2.2 1 -2.4 1.1 4.4 1 -2.6 1 3.1 1 -3 1 2.5 1 -4.1 1.1 5.5 1 -5.6 1 6.3 1 -5.8 1 5.7 1.1 -5 1 4 1 -4 1 3.7 1 -4.1 1 4.9 1.1 -5 1 4.4 1.1 -5.9 1 3.9 1.1 -5.3 1 4 1.1 -5.1 1 6.4 1 -4.9 1 5.2 1 -4.2 1.1 4.9 1 -3.9 1 5 1 -3.8 1 3.9 1.1 -4.2 1 4.6 1.1 -4.6 1 4.1 1.1 -3.2 1 1.8 1.1 -3.8 1 4.1 1.1 -5.8 1 6.8 1.1 -6.2 1 5.2 1 -4.1 1.1 3.4 1 -3.5 1.1 5 1 -3.8 1.1 5.6 1 -3.5 1.1 6.1 1 -3.1 1.1 1.4 1 -4.2 1.1 0.9 1 -4.1 1.1 2.1 1 -4.5 1.1 3.2 1 -2.1 1.1 4.8 1.1 -1.2 1 4.3 1.1 -2 1.1 6.1 1 -6.9 1.1 4.7 1.1 -6.6 1 4.5 1.1 -4.8 1.1 3.6 1 -4.5 1.1 4.1 1 -4.4 1.1 4.1 1 -4.2 1.1 4.4 1 -5.1 1.1 4.8 1 -4.6 1.1 4 1 -4.2 1 3.2 1.1 -3.3 1 2.5 1.1 -1.9 1 3.6 1.1 -1.5 1 3.7 1.1 -2.7 1 5.5 1.1 -4 1 3.1 1.1 -3.5 1.1 1.5 1 -3.8 1.1 3.2 1.1 -5.8 1.1 4.6 1 -3.2 1.1 5.7 1.1 -5.1 1 7.7 1.1 -4.8 1 5.4 1.1 -3.8 1 2.8 1.1 -4.6 1 3 1.1 -6.5 1 6.2 1.1 -4.5 1 3.3 1.1 -1.8 1 1.7 1.1 -1.7 1 5.1 1.1 -3.8 1 3.5 1 -4.7 1 2.1 1 -3.7 1 2 1 -3.5 1 3.1 1 -4.5 1 4.6 1 -6.2 1 5 1 -5.5 1 6.1 1 -5.5 1 5.5 1 -4.9 1.1 4.8 1 -2.5 1 4.5 1 -4 1 4.9 1 -5.2 1 4.1 1 -3.4 1 3.7 1 -3.8 1 4.8 1 -4.5 1 5.5 1 -4.5 1 4.3 1 -4.8 1 2.4 1 -4 1 4 1.1 -3.6 1 3.4 1 -4.1 1 2 1 -3.8 1 4.1 1.1 -3.1 1 6.1 1.1 -5.2 1.1 5.5 1 -4.1 1.1 5.3 1.1 -3.8 1 5.5 1 -6.2 1.1 7.2 1 -6.6 1.1 6.3 1 -4.2 1.1 4.9 1 -4 1 4.6 1.1 -4.9 1 3.6 1 -4.6 1.1 5.3 1 -4.1 1 4.3 1.1 -4.6 1 3.1 1.1 -3.4 1 1.7 1.1 -2.8 1 0.8 1.1 -2.6 1.1 3.3 1 -3.1 1.1 3.3 1.1 -2.3 1 3.4 1.1 -3.8 1 3.5 1.1 -5.8 1 4.2 1.1 -5.2 1 5.8 1.1 -5.9 1 5.4 1 -5.5 1 5.5 1 -5.5 1 5.4 1.1 -5 1 3.3 1 -3.4 1 4.1 1 -3.9 1.1 4.8 1 -4.2 1 4.3 1 -2.4 1 3.8 1 -2.5 1.1 3.4 1 -3.3 1 3.8 1 -3.7 1 4.9 1 -5.3 1 4.2 1 -4.3 1 4.4 1 -4.5 1 4.9 1 -6.5 1 4.8 1 -4.1 1 3.5 1 -0.9 1 2.8 1 -3.2 1 5.1 1 -4.8 1 6.2 1 -3.8 1 4.5 1 -3.9 1 2.1 1.1 -4.1 1 2.5 1.1 -2.4 1 0.8 1.1 -2 1 2.4 1 -2.7 1.1 4.1 1 -4.5 1.1 4.6 1 -5.9 1.1 7.5 1 -6.9 1.1 5.8 1 -6 1.1 4.5 1 -4.7 1.1 2.8 1 -4.2 1.1 1.8 1 -1.8 1 2.8 1 -1.6 1 3.5 1 -4 1 3.1 1 -3.8 1 3 1 -2.4 1 4 1 -4.1 1 4 1 -5 1 3.4 1 -4.1 1 5.4 1 -4.9 1 5.3 1 -5.8 1 3.2 1 -4.2 1 3.3 1 -4.2 1 7.1 1 -6.6 1 8.1 1 -5.7 1.1 5.6 1 -5.2 1 5.2 1 -4 1.1 4.3 1 -4.4 1.1 5.2 1 -6 1 6.7 1.1 -6.4 1 5.5 1.1 -4.6 1 3.5 1.1 -3 1 4.9 1.1 -3.7 1 5 1.1 -4.3 1 2.8 1 -5.2 1 5.3 1 -5.5 1 5 1 -5.4 1 5.3 1 -5.7 1 4.5 1 -4.1 1 2 1 -2.5 1.1 3.8 1 -2.8 1.1 5 1 -1 1.1 3.2 1 -1.7 1 1.4 1 -3.5 1 2.6 1 -4.2 1 4 1 -4.9 1 2.6 1 -3.3 1 2.1 1 -5.4 1 5.2 1 -4.6 1 5.7 1 -2.7 1 5 1 -5.9 1 5.3 1 -4.5 1 5.1 1 -3.7 1 6.9 1 -6.5 1 5.4 1 -5.2 1 3.7 1 -4.2 1 4.1 1 -6.9 1.1 7.2 1 -6.9 1 5.9 1 -4.6 1 3 1 -2.8 1 4.5 1 -5 1.1 4.4 1 -4.8 1 5.6 1 -3.7 1 5 1.1 -3.7 1 2.5 1 -2.9 1 3.1 1 -2.8 1 4.9 1.1 -3 1 3.8 1 -4.3 1 4.8 1 -5.6 1.1 5.9 1 -5.5 1 4.3 1 -4.8 1.1 4.6 1 -6.5 1.1 4.9 1 -5.6 1.1 4.5 1 -3.3 1 4.7 1.1 -5 1 4.1 1 -4.6 1.1 2.4 1 -3.7 1 2.2 1.1 -4.8 1 5.2 1 -4.2 1.1 6.8 1 -5.8 1 7.2 1 -5.9 1.1 6.9 1 -5.3 1 4.4 1 -4.3 1.1 3.3 1 -2.3 1 3.2 1 -2.6 1 1.2 1.1 -2.1 1 2.3 1 -4 1 4.1 1 -3.9 1 1.9 1.1 -3.2 1 2.6 1 -4.7 1 5.9 1 -5.6 1.1 5.8 1 -4.4 1 4.5 1 -4.6 1 5.6 1 -4.9 1.1 5.5 1 -3.3 1 2.9 1 -2.4 1.1 3.4 1 -4.8 1.1 6.4 1 -7.1 1.1 5.5 1 -3.8 1.1 4.6 1.1 -2.1 1.1 4.7 1.1 -3.1 1.1 5.9 1.1 -5.3 1 3.9 1.1 -5 1 2 1.1 -4.1 1 1.5 1.1 -3.4 0.9 2.4 0.9 -4.7 0.9 4.3 0.9 -5.1 0.9 4.8 1.1 -3.3 1 3 1 -1.8 1.1 3.6 1 -4.1 1 6.2 1.1 -5 1 6.1 1 -6 1.1 6 1 -7.4 1.1 6.3 1 -6.7 1.1 5.7 1 -6.1 1.1 5.3 1 -4.7 1.1 4.3 1 -4.6 1 4.1 1.1 -5.7 1 5.4 1.1 -4.6 1 5.8 1.1 -3.8 1 5.8 1.1 -4.9 1 5.7 1.1 -4 1 3 1 -4.4 1.1 2.6 1 -4.9 1 3.9 1.1 -4.3 1 5 1 -6.2 0.9 7.6 1 -3.6 0.9 6.5 0.9 -4.1 0.9 7.6 1.1 -8.9 1.1 3.8 1.1 -5.8 1.1 2.4 1.1 -4.5 1 4.4 1 -4.2 1.1 3.5 1 -5.1 1 5.4 1 -5.3 1 7.8 1 -6.6 1.1 6.9 1 -6.9 1.1 5.8 1 -3.9 1 4.7 1.1 -2.5 1 2.5 1.1 -2.7 1 2.3 1.1 -2.6 1 2.6 1.1 -3.2 1 2.6 1.1 -2.4 1 3.3 1 -3.4 1.1 4.1 1 -5 1 3.3 1 -4.4 1 5.1 1 -6.6 1.1 6.8 1 -6.9 1 5.7 1 -5 1 5.1 1.1 -4.3 1 5.3 1 -4.4 1 3.7 1 -1.8 1 2.4 1.1 -1.3 1 3.3 1.1 -2.2 1 2.9 1.1 -3.6 1 5.9 1.1 -5.6 1 5.7 1 -5.6 1 2.5 1 -3.8 1.1 2.7 1 -3.6 1 4.6 1 -5.9 1 5.5 1.1 -5.1 1 4.5 1.1 -3.6 1 2.4 1.1 -2.4 1 2.1 1.1 -3 1.1 4.4 1.1 -4.3 1.1 5 1.1 -4.6 1.1 4.9 1 -4.9 1 4.4 1 -5.5 1 5.8 1.1 -7.8 1 6.4 1 -8 1 5.1 1 -5.1 1.1 3.8 1.1 -0.1 1.1 3.8 1.1 -1.5 1.1 5.6 1.1 -4.4 1 4.2 1.1 -4.7 1 5.3 1.1 -5.4 1 6 1.1 -5.4 1 3.6 1.1 -4.1 1 3.9 1 -5.1 1.1 4.9 1 -7.3 1.1 5.2 1 -4.9 1.1 5 1 -4.5 1.1 3.8 1 -5.4 1.1 3.9 1 -4.8 1.1 5.6 1 -4.1 1.1 6.3 1 -4.9 1.1 6.7 1 -6.8 1 8 1.1 -6.6 1 4.5 1 -5.4 1 5.6 1 -7 1.1 7.1 1 -7.1 1 6.6 1 -5.2 1.1 6.1 1 -4.1 1.1 4.9 1 -5.3 1 5.1 1.1 -5.8 1 7.1 1.1 -7.6 1 6.8 1.1 -7.1 1 5 1.1 -5.6 1 4.3 1.1 -5.1 1 4 1 -3.2 1 3.8 1 -4 1.1 4.3 1 -5.4 1 4.5 1 -4 1 3.6 1.1 -3.2 1 4.2 1.1 -3.5 1 5 1.1 -2.6 1 4.3 1.1 -4.1 1 5.1 1.1 -4.1 1 5 1.1 -3.7 1 2.6 1 -2.3 1.1 2.2 1 -3.4 1.1 4.6 1 -5.1 1.1 4.7 1 -5.6 1.1 4 1 -5.6 0.9 5 1 -1.6 0.9 3.1 1 -2.8 1.1 2.1 1.1 -4.4 1 3.8 1.1 -4.6 1 2.4 1.1 -3.5 1.1 1.6 1 -4.1 1.1 2.8 1 -3.5 1.1 5.3 1 -4.4 1.1 5.7 1.1 -4.6 1 5.1 1.1 -4.7 1 5.7 1.1 -5.3 1.1 3.8 1 -1.5 1.1 4.7 1 -3.3 1.1 7.7 1 -4.6 1 1.6 1 -4.8 1 -0.9 1 -5.7 1.1 6.7 1 -4.9 1.1 7.5 1 -3.8 1.1 6.5 1.1 -5.4 1 4 1.1 -7.6 1 4.8 1.1 -8.4 1.1 5.4 1 -3.9 1.1 3.8 1 -1.6 1.1 3.7 1 -4.3 1.1 3 1.1 -5.4 1 3.2 1.1 -3.6 1 3.5 1.1 0.1 1.1 2.1 1 -1.1 1.1 3.5 1 -3.5 1 5 0.9 -3.6 1 5.4 1.1 -5.6 1.1 4.2 1 -5.6 1.1 2.7 1 -4.9 1.1 5.4 1 -3.2 1.1 6.2 1.1 -3 1 6.4 1 -4.8 1 3.5 1 -4.9 1 3.9 0.9 -7.2 0.9 3.5 1 -7 0.9 1.8 0.9 -5.6 0.9 6.2 1 -2.7 0.9 7.2 0.9 -2.1 0.9 6.3 1.1 -5.5 1.1 4.2 1 -4.5 1.1 3 1 -3.3 1 0.8 0.9 -4.3 0.9 2.9 0.9 -3.5 1 4.1 0.9 -2.9 0.9 4.2 0.9 -3.5 1 4.6 0.9 -4.3 1.1 5.7 1 -5.1 1.1 4.8 1 -4.2 1.1 4.1 1 -5.1 1.1 3.3 1.1 -5.3 1 4 1.1 -4.7 1 4.7 1.1 -1.7 1.1 2.8 1 -3.1 1.1 3.2 1 -3.4 1.1 4.2 1 -3.5 1.1 4.5 1.1 -3.7 1 4.9 1.1 -5 1 6.2 1.1 -6.8 1.1 5.2 1 -4.8 1.1 5.5 1 -3.9 1.1 6.2 1 -4.3 1 2 1 -7.3 1 2.7 1 -7.3 1.1 5.9 1.1 -5.2 1.1 5.3 1 -3.7 1 7.7 1 -3.6 1 6.5 1 -2 1 6.9 1 -6 1 2.8 0.9 -8.1 1 1.8 1.1 -3.8 1.1 7 1 -3.9 1.1 6.6 1 -3.4 1.1 1.8 1 -2.5 1.1 1.8 1.1 -3.3 1 2.9 1 -5 0.9 4.7 1 -6.5 0.9 5.3 0.9 -5.4 1 5.6 0.9 -6.4 1.1 6.2 1.1 -4 1 4.9 1.1 -2.8 1 6.6 1 -5.4 1 7.8 1 -6 1 7.4 1.1 -7 1 5.1 1.1 -6.4 1 3 1.1 -4.3 0.9 2.8 1 -3.4 0.9 1.8 1.1 0 1.1 0 1 0 1.1 0"/>
<path class="curve" stroke="#bfbf00" d="M217 65.9l0.1 5.1 0 4.9 0.1 5.1 0 4.9 0.1 5.1 0 4.8 0.1 5.1 0 4.9 0.1 5 0 4.9 0.1 5.1 0 4.8 0.1 5.1 0.1 4.9 0 5 0.1 4.9 0 5.1 0.1 4.8 0 5.2 0.1 4.8 0 5.1 0.1 4.8 0 5.1 0.1 4.9 0.1 5 0 5 0.1 5 0 4.9 0.1 5 0 4.9 0.1 5.1 0 4.9 0.1 5.1 0 4.9 0.1 5 0 4.9 0.1 5 0.1 5 0.1 5 0 4.9 0.1 5.1 0.1 4.9 0.1 5.1 0.1 4.9 0.1 5.1 0.1 4.9 0 5.2 0.1 4.8 0.1 5.2 0.1 4.8 0.1 5.1 0 4.9 0.1 5.1 0.1 5 0.1 5.1 0.1 4.8 0.1 5.2 0.1 4.8 0 5.2 0.1 4.8 0.1 5.2 0.1 4.8 0.1 5.2 0 4.8 0.1 5.1 0.1 4.9 0.1 5.1 0.2 5.1 0.2 5.2 0.2 5 0.2 5.2 0.2 5 0.2 5.2 0.2 5.1 0.2 5.2 0.3 5 0.2 5.2 0.2 5.1 0.2 5.2 0.2 5 0.2 5.2 0.2 5 0.2 5.2 0.2 5 0.2 5 0.2 4.8 0.2 5 0.2 4.7 0.2 5 0.2 4.8 0.2 4.9 0.2 4.8 0.2 4.9 0.2 4.8 0.2 5 0.2 4.7 0.2 5 0.2 4.8 0.2 5 0.3 4.7 0.4 5 0.3 4.7 0.4 5 0.3 4.7 0.4 5 0.3 4.7 0.7 4.8 0.7 4.5 0.7 4.9 1.2 5.8 1.1 6.1 0.7 4.5 0.7 4.7 0.7 4.5 0.7 4.6 0.9 4.6 0.9 4.6 0.9 4.5 0.9 4.7 0.9 4.5 1 4.7 0.9 4.4 0.9 4.7 0.9 2.7 0.9 2.9 0.9 2.6 1.1 1.7 1 1.1 1.1 1.7 1 1.1 1.1 1.7 1 1.3 1.1 1.6 1 1.2 1 1.6 1.1 1 1 1.9 1 0.8 1.1 1.9 1 1.1 1 1.6 1.1 0.6 1.1 1.1 1 0.6 1.1 1.2 1.1 0.6 1 1.3 1.1 0.5 1 1.4 1 0.6 1 1.2 1 0.7 1 1.3 1.1 0.4 1 1.4 1 0.3 1 1.8 1 0.5 1.1 1.6 1 0.6 1 1.5 1 0.8 1 1.6 1 0.7 1.1 1.5 1 0.8 1 1.1 1 0.9 1 1.1 1.1 0.9 1 1.2 1 0.7 1 1.4 1 0.7 1 1.7 1.1 0.8 1 1.5 1 0.8 1 1.8 1 0.8 1 1.5 1.1 0.9 1 1.5 1 0.4 1 1.5 1 0.4 1 1.5 1 0.3 1 1.5 1 0.3 1 1.5 1 0.5 1 1.4 1 0.4 1 0.9 1 0.3 1 0.8 1 0.5 1 0.8 1 0.2 1 1.1 1 0 1 1 1 0.3 1 1 1 0.2 1 1.4 1 0 1 1.3 1 0.4 1 1 1 0.5 1 1.1 1 0.3 1 1.3 1 0.2 1 1.5 1.1 0.4 1 1.4 1.1 0.4 1 1.4 1.1 0.3 1 1.6 1 0.1 1.1 1.3 1 0.1 1.1 1.3 1 0 1.1 1.2 1 0.2 1 1.2 1.1 0.2 1 1.4 1 0.3 1 1.2 1 0.6 1.1 1.1 1 0.4 1 1.4 1 0.3 1.1 1.7 1 0.5 1.1 1.5 1 0.7 1.1 1.5 1 0.5 1.1 2.1 1.1 1.1 1.1 2.3 1.1 1 1.1 2.4 1.1 1.2 1 2.5 1.1 1.3 1 2.2 1.1 1.3 1 2.3 1.1 1.4 1 2.8 1 2 1.1 2.6 1 2.1 1.1 2.8 1 1.8 1.1 2.8 1.1 2.7 1.1 3.2 1.1 2.7 1.1 3.1 1.1 2.7 0.9 3.4 0.9 3.1 0.9 3.3 0.9 3 1.1 3.1 1.1 2.7 1.1 3.2 1.1 2.8 1.1 3 1.1 3.2 1.1 3.5 1.1 3 1.1 3.6 1.1 3 1 1.9 0.9 1.5 0.9 2.1 0.9 1.5 0.9 2.3 0.9 1.2 1 2.5 0.9 1.2 0.9 3.3 0.9 1.1 0.9 3.4 0.9 1.1 1.1 2.2 1 0 1.1 2 1 0 1.1 2 1 0.1 1.1 2 1 0.1 1 2 1 0.2 1 1.6 1.1 0.3 1 1.9 1 0.1 1 2 1 0.2 1 1.7 1.1 0.5 1 1.9 1 0.4 1 1.9 1 0.1 1.1 1.9 1 0.2 1 2.1 1 0.5 1.1 2.6 1 0.6 1.1 2.2 1 0.8 1.1 2.2 1 0.7 1.1 2.1 1.1 0.5 1.1 1.7 1.1 0.7 1.1 1.9 1.1 1.3 1.1 2.9 1.1 1 1.1 3 1.1 1 1.1 2.6 1.1 1.1 1.1 2.6 1.1 1.1 1.1 2.7 1.1 0.2 1 2 1.1 0.3 1.1 1.5 1.1 0.6 1 1.6 1.2 0.9 1.2 2.6 1 0.2 1 2.3 1.1 0.3 1 2.2 1 0.3 1 2 1 0.3 1 2.3 1.1 0.2 1 2.3 1 0.2 1 2.1 1 0.2 1 1.9 1 0.6 1 1.6 1 0.8 1 1.7 1 0.5 1 1.8 1 0.8 1 2.1 1 0.9 1 2 1 0.7 1.1 2.2 1 0.6 1 2.4 1 0.5 1.1 2.1 1 0.6 1.1 2.1 1 0.6 1.1 2 1 0.5 1.1 2 0.9 -0.4 1 1.7 1 -0.5 1 1.8 1 -0.3 1 1.1 1 0.1 1 0.9 1 0 1 1.2 1 -0.1 1.1 1.4 1 -0.2 1 1.2 1 -0.4 1 1.4 1.1 -0.4 1 1.4 1 -0.3 1 1.3 1.1 0.2 1 1.4 1 0 1.1 1.5 1 0.2 1.1 1.6 1 0 1.1 1.4 1 -0.4 1 1.7 1 -0.5 1 1.8 1 -0.6 1.1 1.7 1 -0.5 1 1.2 1 0.1 1 1.1 1.1 0.3 1 1.2 1 -0.2 1 1.3 1 -0.4 1 1.5 1.1 0 1 2.3 1 0 1 2.2 1 -0.1 1.1 2.2 1 0.1 1 2.4 1 -0.4 1 2.4 1 -0.8 1.1 1.7 1 -0.3 1 1.4 1 -0.6 1 1.5 1.1 -0.7 1 2 1 -0.8 1 2 1 -0.2 1 1.6 1.1 -0.1 1 2 1 -0.3 1 2.2 1 -0.4 1.1 1.8 1 -0.8 1 1 1 -0.7 1 1.2 1 -0.7 1.1 1.5 1 -0.5 1 1.5 1 -0.7 1 1.7 1 -0.5 1.1 1.5 1 -0.5 1 1.5 1 -0.6 1 1.2 1.1 -0.3 1 1 1 -0.7 1 1.5 1 -1.1 1 1.1 1.1 -0.7 1 0.7 1 -0.3 1 0.5 1 -0.3 1.1 1 1 0 1 1.1 1 -0.5 1 1.2 1 -0.1 1.1 1.1 1 0.1 1 0.9 1 -0.4 1 1.6 1.1 -1 1 1.8 1 -0.8 1 1.6 1 -0.8 1 2 1.1 -1.4 1 1.9 1 -0.7 1 1.1 1 0 1.1 1 1 -0.3 1 1.6 1 -1.3 1 2.3 1 -1.1 1.1 1.4 1 -0.2 1 0.7 1 -0.2 1 1.6 1.1 -1 1 1.6 1 -0.4 1 1.3 1 -0.2 1 1.9 1.1 -0.9 1 1.8 1 -0.4 1 1.5 1 -0.5 1.1 1.6 1 -0.8 1 1 1 -0.3 1 0.9 1 -0.6 1.1 1.1 1 -0.7 1 0.8 1 -0.2 1.1 1.9 1.1 0.4 1.1 2.3 1.1 -0.3 1.1 2.2 1.1 -1.4 1.1 0.7 1.1 -1.5 1.1 0.8 1.1 -1.9 1.1 2.6 1 0.2 1 2.5 1.1 0.1 1 2.3 1.1 0.5 1 1.8 1.1 -0.1 1 1 1 -0.3 1 1.4 1 -0.4 1 1.7 1.1 -0.7 1 1.3 1 -0.6 1 1.2 1 -0.6 1.1 1.5 1 -0.8 1 1.3 1 -0.3 1 1.3 1 -0.3 1.1 1.4 1 -0.8 1.1 1.9 1 -0.8 1.1 1.9 1 -0.4 1 2 1.1 -0.3 1 1 1 -1.4 1 1 1.1 -1.6 1 1.3 1 -1.5 1 1.4 1 -1.2 1.1 0.8 1 0 1 1.7 1 -0.5 1 2.2 1 -0.7 1.1 1.9 1 -0.3 1 1.5 1 -0.3 1 1.7 1.1 -0.3 1 1.6 1 -0.4 1 1.7 1 -0.3 1 1.8 1.1 -0.1 1 1.7 1 -1.1 1 1.1 1 -1.1 1.1 1.2 1 -1.3 1 1.3 1 -1.5 1 1.5 1 -1 1.1 1.5 1 -0.5 1 1.3 1 -0.7 1 1.2 1.1 -0.4 1 1.1 1 -0.4 1 1.4 1 -0.9 1 1.2 1 -0.4 1 1.1 1 -0.4 1 1.2 1 -0.9 1 1.6 1 -1 1 1.3 1 -0.8 1 0.9 1 -0.2 1.1 0.9 1 -0.4 1 1.1 1 -0.6 1 1.2 1 -0.7 1.1 1.3 1 -1.1 1 1.8 1 -1 1 1.3 1.1 -0.5 1 0.5 1 -0.3 1 1 1 -1.2 1 1.9 1.1 -1 1 2 1 -0.7 1 1.6 1 -0.6 1.1 1.1 1 -0.3 1 0.9 1 -0.1 1 0.5 1 0.1 1.1 0.8 1 -0.4 1 1.1 1 -0.7 1 1.3 1.1 -0.9 1 1.5 1 -1.5 1.1 1.6 1 -1.4 1.1 1.3 1 -1 1.1 0.9 1 -0.6 1 1.8 1 -0.7 1.1 1.8 1 -0.5 1 1.4 1 -0.4 1 1.8 1 -0.3 1.1 1.9 1 -1.1 1 1.9 1 -1.1 1 1.9 1.1 -0.9 1 2.2 1 -1.1 1 2 1 -1.2 1 1.1 1.1 -1.1 1 1.5 1 -1.4 1 1.2 1 -1 1.1 0.9 1 -1 1 1.1 1 -0.9 1 1.5 1 -1.1 1.1 2 1 -1.3 1 1.7 1 -0.9 1 1.3 1 -0.7 1.1 1.7 1 -1.3 1 2 1 -1.1 1 1.6 1.1 -0.8 1 1.3 1 -0.8 1 1.2 1 -0.8 1 1.3 1.1 -0.8 1 0.8 1 -0.3 1 0.7 1 -0.1 1.1 0.7 0.9 -0.2 1 1.2 1 -0.5 1 1.6 1 -1.3 1 1.8 1 -1.3 0.9 1.5 1.1 -0.6 1 0.7 1 -0.4 1 1.1 1 -0.7 1 1.1 1 -0.7 1 0.6 1.1 -0.5 1 0.8 1 -0.9 1 1.3 1 -1.4 1.1 1.6 1 -1.4 1 1.4 1 -0.9 1 0.8 1.1 0.8 1.1 2 1.1 0.3 1.1 2.7 1.1 -0.1 1.1 0.2 1.1 -2.4 1.1 0.1 1.1 -2.3 1.1 0.2 1.1 -0.2 1 1.3 1.1 0.1 1 1.5 1.1 -0.4 1 1.9 1.1 -1.1 1 2.2 1 -0.9 1.1 2.4 1 -1.1 1.1 2.5 1 -1.3 1.1 2.5 1 -1.5 1 1.7 1 -1.5 1.1 2 1 -1.4 1 1.7 1 -1 1 1.3 1 -0.9 1.1 1.1 1 -0.9 1 1 1 -0.7 1 1.2 1.1 -0.6 1 1.3 1 -0.9 1 1.6 1 -1.3 1 1.1 1 -1 1 1.2 1 -1.1 1 1.7 1 -1.5 1 1.7 1 -1.4 1 1.1 1 -0.9 1 1.2 1 -0.5 1.1 1.3 1 -0.6 1 1 1 -0.5 1 1.2 1 -0.7 1.1 1.6 1 -1 1 1.6 1 -1 1 1.8 1.1 -1 1 2.1 1 -1.1 1 2 1 -0.9 1.1 1.3 1 -0.9 1.1 0.8 1 -0.7 1.1 1.3 1 -1.1 1.1 1.7 1.1 -0.9 1.1 2.1 1.1 -0.2 1.1 1.6 1.1 -0.3 1.1 0.6 1.1 -1.5 1.1 0.8 1.1 -1.2 1.1 0.5 1 -0.8 1 1.6 1.1 -0.8 1 2.1 1.1 -0.7 1 2.1 1.1 -0.8 1 1.6 1 -1.1 1 1.6 1.1 -0.9 1 1.7 1 -0.9 1 1.7 1 -0.8 1 1.5 1.1 -1.2 1 1.1 1 -1.6 1 1.2 1 -1.2 1.1 0.9 1 -0.7 1 0.7 1 -0.8 1 0.8 1 -0.6 1.1 1 1 -1 1 1 1 -1.1 1 1.3 1.1 -1.3 1 1.6 1 -0.7 1.1 1.8 1 -0.2 1.1 1.3 1 -0.6 1.1 1.8 1 -0.9 1 1.6 1 -0.7 1.1 0.9 1 -0.4 1 0.9 1 -0.6 1 1.4 1 -0.5 1.1 1.8 1 -1.3 1 1 1 -1.2 1 0.9 1.1 -0.8 1 1.1 1 -1.3 1 1.4 1 -1.1 1 1.1 1.1 -0.3 1 1.1 1 -0.6 1 0.9 1 -0.4 1 0.7 1.1 0 1 0.7 1 -0.8 1.1 0.5 1 -1.2 1.1 0.7 1 -1.3 1.1 1 1 -1.7 1.1 2.2 1 -0.5 1.1 1.8 1 -0.2 1.1 2 1 -0.5 1 2.1 1.1 -0.9 1 1 1 -0.8 1 1.1 1 -0.8 1.1 0.8 1 -0.6 1 0.8 1 -0.9 1 1.1 1 -1 1.1 1.3 1 -0.9 1 0.8 1 -0.8 1 0.6 1.1 -0.9 1 1.2 1 -1 1.1 2 1 -0.7 1.1 1.1 1 -0.3 1.1 0.7 1 -0.3 1 1.1 1.1 -0.6 1 1.5 1.1 -0.7 1 1.2 1.1 -0.8 1 1.1 1.1 -1.1 1 0.8 1.1 -1.6 1 1.5 1.1 -1.8 1 1.3 1.1 -1 1 1 1 0.2 1 0.8 1 -0.2 1.1 1.1 1 -0.7 1 1.4 1 -0.7 1 1.4 1 -0.7 1.1 1.9 1 -0.8 1 1.7 1 -0.8 1 1.5 1.1 -0.4 1 1.4 1 -0.8 1.1 1.9 1.1 -1.5 1.1 2.2 1.1 -1.3 1.1 1.6 1 -1.2 1 0.7 1 -1 1.1 0.9 1 -1.2 1 1.2 1 -1.1 1 1 1 -1.4 1.1 2.2 1 -1.4 1 2.4 1 -1 1 2 1.1 -0.9 1 1.7 1 -0.6 1 1.6 1 -1.3 1 1.6 1.1 -1.9 1 1.9 1 -1.6 1 1.4 1 -1.2 1.1 0.9 1 -1 1 1.6 1.1 -0.7 1 1.4 1.1 -0.3 1 1.4 1.1 -0.2 1 1.4 1 -1.4 1 1.2 1.1 -1.2 1 1.6 1 -1.5 1 1.7 1 -1.8 1 1.5 1.1 -1.1 1 1.5 1 -0.9 1 1.9 1 -0.7 1.1 1.9 1 -0.6 1 1.7 1 -1.1 1 1.6 1 -1 1.1 1.5 1 -1 1 1.6 1 -1.3 1 2 1.1 -1.7 1 2 1 -1.2 1 1.2 1 -0.6 1 1 1.1 -0.7 1 1.2 1 -1.2 1 1.9 1 -1.5 1.1 1.9 1 -1.2 1 1.1 1 -0.5 1 1 1 -1 1.1 1.6 1 -1.9 1 1.9 1 -1.6 1 1.5 1.1 -1.4 1 1.7 1 -1.6 1 2.2 1 -1.8 1 2.1 1.1 -2.1 1 2 1 -1.6 1 2 1 -0.9 1 1.7 1.1 -0.3 1 1 1 -0.2 1 0.9 1 -0.7 1.1 1.5 1 -1.5 1 1.7 1 -1 1 1.3 1 -0.8 1.1 1.5 1 -1.7 1 1.3 1 -1 1 1.5 1.1 -1.2 1 1.8 1 -1.1 1 1.8 1 -0.8 1 1.7 1.1 -0.8 1 1.1 1 -0.7 1 0.8 1 -0.7 1.1 0.9 1 -1.2 1 1.5 1 -1 1 1.7 1.1 -1.1 1 1.7 1.1 -1.2 1 1.8 1.1 -1.2 1 2.1 1.1 -1.3 0.9 2.1 1 -1.8 1 2.1 1 -1.8 1 1.9 1 -1.9 1 1.9 0.9 -1.5 1.1 1.5 1 -0.4 1 1.5 1 -1.1 1 1.5 1 -1.1 1 1 1.1 -0.6 1 1.1 1 -0.1 1 1.3 1 -0.6 1 1.4 1.1 -1.4 1 2.1 1 -1.7 1 2.2 1 -1.7 1 2 1.1 -1 1 1.4 1 -0.9 1 1.4 1 -1.2 1.1 1.7 1 -1.3 1 1.8 1 -1.4 1 2.1 1 -1.6 1.1 1.7 1 -1.3 1 1.7 1 -0.7 1 1.4 1.1 -0.9 1 1.6 1 -1.8 1 2.3 1 -1.8 1 2.3 1.1 -1.8 1 2.2 1 -2.4 1 2.2 1 -1.6 1 1.9 1.1 -1.2 1 1.5 1 -1.2 1 0.9 1 -0.4 1.1 0.9 1 -1.1 1 2.4 1 -2.1 1 2.6 1 -1.4 1.1 1.8 1 -1.1 1 1.6 1 -1.7 1 1.6 1.1 -1.3 1 1.7 1 -1.4 1 2.5 1 -2.3 1 2.7 1.1 -2.2 1 2.9 1 -1.5 1 2.2 1 -1.4 1.1 0.9 1 -0.7 1 0.9 1 -0.5 1 1.1 1 -1.1 1.1 1.4 1 -1 1 1.5 1 -0.7 1 1.4 1.1 -1.5 1 2.2 1 -1.9 1 2.3 1 -1.7 1 2.1 1.1 -2.1 1 2.7 1 -2.6 1 2.3 1 -1.4 1.1 1.4 1 -1 1 1.7 1 -2.2 1 2.7 1 -2.6 1.1 3.2 1 -2.8 1 3 1 -2.6 1 2.5 1.1 -1.8 1 1.9 1 -1.5 1 2.2 1 -2.3 1 2.2 1.1 -2.2 1 1.9 1 -1.5 1 2.2 1 -1.3 1 1.5 1.1 -1.8 1 2 1 -1.8 1 2 1 -1.6 1.1 2.2 1 -2.4 1 3 1 -2.3 1 2.7 1 -2.8 1.1 2.6 1 -2.6 1 2.4 1 -1.8 1 2.1 1.1 -1.5 1 1.8 1 -1.5 1 1.9 1 -1.8 1 2.5 1.1 -2.3 1 2.9 1 -2.3 1 2.3 1 -1.8 1.1 1.7 1 -1.2 1 1.1 1 -1.6 1 1.4 1 -1.7 1.1 2.6 1 -1.9 1 3 1 -2.7 1 2.6 1.1 -2.3 1 1.8 1 -2.2 1 3.1 1 -3 1 3.6 1.1 -2.3 1 2.3 1 -2.1 1 2.2 1 -1.6 1.1 2 1 -1.1 1 2.1 1 -2 1 3.2 1 -2.2 1.1 2.9 1 -2 1 2.1 1 -1.3 1 1.9 1.1 -0.8 1 1.5 1 -1.5 1 1.9 1 -1.5 1 1.1 1.1 -1.3 1 1.6 1 -1.5 1 2.7 1 -2.2 1 1.9 1.1 -2.2 1 1.7 1 -2 1 2.2 1 -1.9 1.1 2.5 1 -2 1 3.4 1 -3.2 1 3 1 -2.2 1.1 2.5 1 -2.2 1 2.9 1 -3.4 1 3.6 1.1 -2.7 1 2.5 1 -1.3 1 1.1 1 -1 1 1.4 1.1 -1.1 1 1.5 1 -1 1 2.1 1 -2 1.1 2.7 1 -2.6 1 2.7 1 -3.1 1 3.3 1 -2.5 1.1 2.9 1 -2.3 1 2.3 1 -2.1 1 2.2 1.1 -1.9 1 2.3 1 -2.2 1 2.7 1 -1.6 1 2.5 1.1 -1.7 1 1.7 1 -1.6 1 1.4 1 -1.9 1.1 2.1 1 -2.1 1 3 1 -2.7 1 3.4 1 -2.8 1.1 2.9 1 -1.5 1 1.8 1 -2 1 2.3 1.1 -2.8 1 3.6 1 -3.7 1 3.7 1 -3 1 2.7 1.1 -1.9 1 2.3 1 -2.2 1 2.2 1 -1.9 1 2.2 1.1 -1.5 1 1.4 1 -1 1 1.3 1 -0.8 1.1 2.2 1 -1.8 1 2.6 1.1 -2.7 1 2.7 1.1 -2.2 1 2.3 1.1 -1.1 1 1.7 1.1 -1.7 1 1.1 1 -2.5 1.1 2.1 1 -3.7 1.1 3.2 1 -4 1.1 3.8 1 -2.3 1.1 3.1 1 -2 1.1 3 1 -1.4 1.1 2.2 1 -2.1 1 2 1 -3.3 1 4.1 1.1 -4.3 1 3.8 1 -3.2 1 2 1 -1.1 1 1.1 1.1 -1.8 1 1.7 1 -1.7 1 2 1 -1.3 1.1 1.9 1 -1.3 1 1.4 1 -0.8 1 1.9 1 -2.4 1.1 3.8 1 -3 1 3.6 1 -2.7 1 2.3 1.1 -2.7 1 3.4 1 -3.7 1 4.3 1 -3.7 1 3.3 1.1 -2.7 1 2.6 1 -2.2 1 2.7 1 -3.3 1.1 2.9 1 -3.6 1 3.5 1 -2.8 1 3.1 1 -2.7 1.1 2.4 1 -1.6 1 1.7 1.1 -1.6 1 1.7 1.1 -2.4 1 2.1 1.1 -1.2 1 1.3 1 -1 1 2.6 1.1 -3.4 1 3.1 1 -2.7 1 2.3 1 -1.6 1.1 2.4 1 -2.3 1 2.6 1 -3 1 3.9 1 -3 1.1 2.6 1 -2.2 1 2.4 1 -3.5 1 3.9 1.1 -3.4 1 3 1 -2.1 1 1.7 1 -2.3 1 2 1.1 -1.2 1 1.6 1 -0.9 1 2.2 1 -3.6 1.1 3.2 1 -3.9 1 2.7 1 -2.9 1 2.5 1 -2.2 1.1 2.2 1 -1.9 1.1 3.9 1 -2.8 1 3.8 1.1 -2.3 1 2.3 1.1 -1.3 1 1.6 1 -2.7 1 2.3 1 -2.6 1 2.4 1 -1.7 1.1 2.1 1 -1.7 1 2.8 1 -2.4 1 3 1 -2.4 1 2.1 1 -2.1 1.1 1.4 1 -1.5 1 1.2 1 -1.8 1 2 1.1 -3.3 1 2.8 1 -3.5 1 2.5 1 -2 1.1 1.9 1 -1.2 1.1 2.9 1 -1.6 1.1 3.4 1 -1.4 1.1 2.4 1 -2.8 1 2.6 1 -2.8 1 2.1 1 -1.7 1.1 1.3 1 -1.6 1 1.6 1 -2.5 1 2.7 1.1 -2.7 1 3.3 1 -3 1 2 1 -2.6 1 1.9 1.1 -1.6 1 1.9 1 -0.6 1 1.1 1 -0.9 1.1 2 1 -1.8 1 2 1 -1.2 1 1.4 1 -0.7 1.1 1 1 -1.6 1 1 1 -1 1 0.9 1.1 -1.1 1 1.1 1 -2.7 1 2.7 1 -2.9 1 2.2 1 -2 1 1.7 1 -1.9 1 1.9 1 -2.2 1 2.4 1 -2.1 1 1.7 1 -2.1 1 1.8 1 -2.3 1.1 2.8 1 -1.7 1 2.7 1 -2.2 1 3.1 1 -3.3 1.1 3 1 -3.1 1 3.2 1 -3.2 1 3.4 1.1 -3.2 1 2.5 1 -2.1 1 2.4 1 -2.6 1.1 3.1 1 -2.7 1.1 3.7 1 -2.5 1.1 3.5 1 -2.2 1.1 3 1 -3.3 1 2.7 1 -3 1 1.3 1 -1.8 1.1 0.7 1 -2.2 1 2 1 -2.4 1 2.2 1.1 -1.7 1 2.8 1 -2.1 1 3.7 1 -2.4 1 2.8 1.1 -2.4 1 2.2 1 -2.1 1 1.9 1 -2.1 1.1 2.6 1 -1.9 1 2.5 1 -2.1 1 3 1 -3.6 1.1 4.1 1.1 -3.4 1.1 3.2 1.1 -2.1 1.1 3 1.1 -2.4 1 1.5 1.1 -1.8 1 0.5 1.1 -2 1 1.9 1.1 -3 1 2.4 1.1 -1.4 1 1 1.1 -1.1 1 1.8 1.1 -2.3 1 1.1 1 -0.9 1 1.7 1.1 -1.6 1 2.9 1 -2.3 1 3.3 1 -1.8 1 3.7 1.1 -2.7 1 2.4 1 -2.9 1 2.2 1 -2.2 1.1 1.4 1 -2.4 1 1.4 1 -2.9 1 2.6 1 -1.7 1.1 2.2 1 -1.5 1 2.8 1 -2.9 1 3.7 1.1 -3.5 1 3.4 1 -2.5 1 2.9 1.1 -1.1 1 2.2 1.1 -1.5 1 2.9 1.1 -3.4 1 4.1 1 -4.1 1.1 2.2 1 -2.8 1 1.8 1 -2.7 1 2.2 1 -2.9 1.1 2.4 1 -3.1 1 2.6 1.1 -1.3 1 2 1.1 -1.9 1 2.1 1.1 -2.6 1 3 1 -2.2 1 3.9 1.1 -2.6 1 2.6 1 -1.8 1 1.4 1 -1.6 1.1 2 1 -1.4 1 1.7 1.1 -1.3 1 1.9 1.1 -3.1 1 2.5 1.1 -3 1 2.8 0.9 -1.6 1 3.1 0.9 -3.2 0.9 3.7 1 -3 0.9 2.9 1.1 -1.3 1.1 2.7 1.1 -2.7 1.1 3.6 1.1 -3.6 1.1 1.7 1.1 -4.3 1.1 1.6 1.1 -4 1.1 1.6 1.1 -0.7 1.1 3.6 1.1 0.3 1.1 3.3 1.1 -0.7 1.1 1.7 1.1 -4.6 1.1 1.8 1.1 -4 1.1 1.6 1 -2.2 1.1 2.9 1 -2.4 1.1 3.2 1 -3.2 1.1 3.6 1 -3.4 1.1 2.9 1 -2.8 1.1 2.6 1 -1.9 1.1 2.5 1 -1.8 1.1 2.5 1 -3.7 1.1 2.6 1.1 -3.9 1.1 2.7 1.1 -3.1 1.1 2.6 1 -1.5 1.1 1.6 1 -1.2 1.1 2.5 1 -1.5 1.1 1.8 1 -1.6 1 1.4 1 -1.2 1 2.1 1.1 -2.2 1 2.7 1 -3.4 1 3.5 1 -2.8 1.1 3.1 1 -2.9 1.1 2.5 1 -2.2 1.1 1.4 1 -1.1 1.1 1.4 1 -1.9 1.1 1.8 1 -2 1.1 1.1 1 -2.1 1.1 1.4 1 -1.5 1 2.3 1.1 -0.1 1 2.2 1.1 -0.9 1 3.2 1.1 -1.6 1 3 1.1 -2.6 1 1.4 1.1 -1.4 1 1.4 1.1 -2.3 1 1.6 1.1 -2.8 1 1.5 1.1 -2.4 1.1 2.3 1 -3.1 1.1 2.5 1.1 -3.6 1 2.9 1 -1.2 1.1 1.6 1 -1 1 2.6 1.1 -1.9 1 3.2 1 -1.8 1 3 1.1 -3.7 1 3.3 1 -2.6 1 2.4 1 -2 1 2.2 1.1 -2.2 1 2 1 -1.6 1 2.8 1 -3 1.1 3.7 1 -3.3 1 3.3 1 -2.9 1 3.6 1 -2.4 1.1 1.6 1 -2 1 0.8 1 -1.7 1 1.8 1.1 -2 1 1.6 1 -2.8 1 1.6 1 -2.1 1 3.1 1.1 -2.7 1 3.9 1 -3.2 1 3.5 1 -3.2 1.1 2.9 1 -2.2 1 2.3 1 -1.8 1 2.3 1 -2.9 1.1 2.4 1 -2.1 1 2.1 1 -1.1 1 2 1.1 -2.3 1 1.5 1.1 -2.2 1 0.7 1.1 -1.5 1 1.5 1.1 -2.2 1 3.1 1 -2.4 1 1.7 1 -1.5 1.1 1.6 1 -2.4 1 3 1 -2.8 1 2.5 1.1 -2 1 1.2 1.1 -2.1 1 1.3 1.1 -1.9 1 1.5 1.1 -1.5 1 2.1 1 -1.3 1 2.5 1 -1.6 1 1.6 1.1 -0.6 1 1.2 1 -1.3 1 3.3 1.1 -2.5 1.1 3.5 1.1 -2 1.1 3.5 1.1 -2.6 1.1 3.7 1.1 -2.2 1.1 2.2 1.1 -1.2 1.1 3.2 1.1 -2.9 1 2.5 1.1 -3.2 1 1.7 1 -3.7 1.1 2.1 1 -3.7 1.1 2.5 1 -2.9 1.1 2.2 1 -2.4 1.1 2.2 1 -1.8 1.1 2.5 1.1 -1.8 1.1 2.5 1.1 -1.3 1.1 1.3 1.1 -0.3 1 1 1.1 -0.9 1 1.8 1.1 -1.8 1 2.2 1.1 -2 1 3.2 1 -3.6 1.1 3.5 1 -4.7 1.1 3.5 1 -4.3 1.1 2.7 1 -2.7 1.1 2.1 1 -1.2 1.1 2.3 1 -2.2 1.1 3.3 1 -2.4 1.1 2.8 1 -2.8 1.1 3.4 1 -4.1 1 3.9 1.1 -3.4 1 2.8 1.1 -2.9 1 3.4 1.1 -3.6 1 3.3 1.1 -3.1 1 1.9 1.1 -2.5 1 2 1.1 -2.5 1 2.8 1.1 -2.4 1 2.3 1.1 -1.6 1 1.5 1.1 -1.7 1 2.6 1 -2.7 1.1 3.4 1 -2.9 1.1 3.3 1 -2.4 1.1 2.1 1 -1.2 1.1 1.3 1 -1.4 1.1 2.1 1 -2.4 1.1 2.4 1 -1.4 1.1 1.8 1 -0.8 1.1 1.5 1 -2.1 1 3.1 1.1 -2.5 1 2.8 1.1 -2.4 1.1 2.2 1.1 -3.2 1.1 2.7 1.1 -3.3 1 3.9 1 -1.5 1 3.9 1 -0.7 1.1 0 1.1 0 1 0 1.1 0"/>
<path class="curve" stroke="#bf00bf" d="M215.5 66l0 5 0.1 4.9 0 5.1 0 4.8 0.1 5.1 0 4.8 0.1 5.1 0 4.8 0 5.1 0.1 4.9 0 5.1 0 4.8 0.1 5.1 0 4.9 0.1 5 0 4.9 0 5 0.1 4.9 0 5 0 4.9 0.1 5.1 0 4.9 0.1 5.1 0 4.8 0 5 0.1 4.9 0 5.1 0 4.9 0.1 5.1 0 4.8 0 5.2 0.1 4.8 0 5.2 0 4.8 0.1 5.1 0 4.9 0 5.1 0.1 4.9 0 5.2 0 4.8 0.1 5.1 0 4.9 0 5.2 0 4.8 0.1 5.2 0 4.9 0 5 0.1 4.9 0 5.1 0 4.9 0.1 5.2 0 4.8 0 5.2 0.1 4.8 0 5.2 0.1 4.9 0.1 5.1 0.1 4.9 0.1 5.1 0.2 4.8 0.1 5.2 0.1 4.8 0.1 5.1 0.1 5 0.1 5 0.1 5 0.2 5 0.1 5 0.1 5.1 0.1 4.9 0.1 5.1 0.1 5 0.1 5.2 0.1 5 0.1 5.4 0.1 5 0.1 5.3 0.1 5 0.1 5.3 0.1 5 0.1 5.3 0.1 5 0.1 5.3 0.1 5 0.2 5 0.2 4.7 0.1 5.1 0.2 4.7 0.2 5 0.2 4.7 0.2 5.1 0.1 4.6 0.2 5.1 0.2 4.7 0.2 5 0.2 4.8 0.1 4.9 0.2 4.8 0.2 5 0.4 4.7 0.5 5 0.4 4.7 0.5 5 0.4 4.7 0.5 5 0.4 4.7 0.6 5.3 0.6 5.1 0.6 5.4 0.6 5 0.6 5.4 0.7 4.4 0.7 4.7 0.7 4.5 0.7 4.7 0.9 5.4 0.9 5.6 0.9 5.4 0.9 5.5 1 5 0.9 5.1 0.9 5 0.9 5.2 0.9 3.9 0.9 4.2 0.9 3.8 1 4.2 0.9 3.9 0.9 3.8 0.9 3.5 0.9 3.8 0.9 3.5 1 3.8 0.9 3.5 0.9 3.8 0.9 3.5 0.9 3.9 0.9 3.5 1.1 3.5 1.1 3.1 1.1 3.5 1.1 3.2 1.1 3.3 1 2.5 0.9 2.6 0.9 2.5 0.9 2.7 0.9 2.4 0.9 3.1 1 2.8 0.9 3 0.9 2.9 0.9 3.1 1.1 2.3 1.1 2.9 1.1 2.1 1.1 3.1 1.1 2 1.1 2.8 1.1 1.8 1.1 2.6 1.1 1.8 1.1 2.6 1 0.6 1 1.8 1.1 0.6 1 1.8 1 0.7 1 1.6 1 0.7 1 1.7 1.1 0.7 1 2.3 1.1 0.9 1 2.4 1 0.7 1.1 2.5 1 0.8 1.1 2.3 1 0 1.1 1.5 1 0 1.1 1.5 1 0 1.1 1.7 1 0 1.1 1.5 1.1 0.1 1.1 1.2 1.1 0.2 1.1 1.2 1.1 -0.7 1.1 0.6 1.1 -0.9 1.1 0.4 1.1 -0.6 1.1 1.1 1 0.5 1.1 1.6 1 0.1 1.1 1.9 1 0.1 1 1.8 1.1 0.4 1 2.2 1.1 0.2 1 2.3 1.1 0.3 1 2.2 1.1 0.5 1 1.6 1.1 0.5 1 1.9 1.1 0.3 1 1.7 1.1 0.4 1 1.8 1.1 1.1 1.1 2.6 1.1 1.1 1.1 2.5 1.1 1 1.1 3 1.1 1.3 1.1 3 1.1 1.4 1.1 2.8 1.1 2.7 1.1 3.2 1.1 2.7 1.1 3.2 1.1 2.7 0.9 3.8 0.9 2.8 0.9 3.2 1 1.5 0.9 3.1 0.9 1.6 0.9 2.9 0.9 1.6 0.9 2.5 1 2 0.9 2.4 0.9 1.9 0.9 2.4 0.9 1.9 0.9 2.6 1 2 0.9 2.9 0.9 2.6 0.9 2.9 0.9 2.5 1.1 2.2 1.1 1.5 1.1 2.1 1.1 1.6 1.1 2.2 1.1 1 1 2.2 1.1 0.8 1 2.4 1.1 0.7 1 2.4 1.1 0.8 1 2.1 1 0.8 1.1 1.8 1 0.8 1.1 1.8 1 0.6 1.1 2.3 0.9 0.3 0.9 2.5 0.9 0.2 0.9 2.2 1 1.5 0.9 2.8 0.9 1.9 0.9 2.9 1.1 -0.4 1.1 0.8 1.1 -0.3 1.1 0.9 1.1 -0.4 1.1 1.5 1.1 0.3 1.1 1.5 1.1 0.3 1.1 1.7 0.9 0.9 0.9 2.8 1 0.6 0.9 2.9 1.1 -0.3 1.1 1.6 1.1 0 1.1 1.5 1.1 -0.1 1 2 1.1 0 1 1.9 1.1 0.2 1 1.9 1.1 0.4 1 1.8 1 -0.3 1 1.4 1.1 -1 1 1.8 1 -1.1 1 1.5 1 -0.3 1 0.9 1.1 0.2 1 1.5 1.1 0.5 1 1.9 1 0.3 1.1 1.7 1 0.3 1.1 1.6 1 0.2 1.1 1.3 1 -0.1 1.1 1.6 1 -0.2 1.1 2 1 0 1.1 1.1 1.1 -0.5 1.1 0.8 1.1 -0.5 1.1 0.8 1.1 0.5 1.1 1.9 1.1 0.4 1.1 2.1 1.1 0.7 1.1 1.2 1 -0.1 1.1 0.8 1 -0.2 1.1 1.1 1 -0.5 1 1.3 1.1 -0.5 1 1 1.1 -0.1 1 1.2 1.1 -0.3 1 1.2 1.1 -0.8 1 2.3 1 1 1.1 2.3 1 0.9 1 2.3 1 -0.4 1.1 2.1 1 -0.6 1.1 2.4 1 -0.9 1.1 2.2 1 -0.4 1.1 3.1 1.1 0.8 1.1 2.9 1.1 0.7 1.1 2.9 1.1 -0.3 1 2.6 1.1 -0.6 1 2.8 1.1 -0.5 1 2.1 1.1 0.3 1 1.5 1.1 0.3 1 1.6 1 -0.1 1.1 1.3 1 0 1.1 1.4 1 0.1 1.1 1 1 -0.2 1.1 1.5 1 -0.5 1.1 1.6 1 -0.3 1.1 1.4 1 0 1.1 1.8 1 -0.2 1.1 1.9 1 -0.5 1 2 1.1 -0.5 1 2.7 1.1 -0.6 1 3 1.1 -0.8 1 2.8 1.1 -0.5 1 1.9 1 -0.8 1 1.6 1 -1 1.1 1.5 1 -0.8 1 1.4 1 -0.4 1 1 1.1 0.8 1.1 2.2 1.1 0.3 1.1 3 1.1 0 1.1 3.1 1 -0.4 1.1 2.9 1 -0.1 1.1 2.6 1 0.2 1.1 2.3 1 -1.9 1.1 0.7 1 -1.9 1.1 0.7 1 -2 1.1 0.5 1 -1.9 1 3.1 1.1 -0.4 1 3.3 1.1 -0.4 1 3.2 1.1 -0.4 1 3.5 1.1 -2 1 1.4 1.1 -1.7 1 1.1 1.1 -1.6 1 1 1.1 -1.8 1.1 3.2 1.1 0.4 1.1 3.2 1.1 0.9 1.1 2.7 1.1 -1.5 1.1 0.2 1.1 -1.6 1.1 0.5 1.1 -1.8 1 2.5 1 -0.2 1.1 2.5 1 0.4 1.1 2 1 0.3 1.1 2.4 1 -0.9 1.1 2.2 1 -1.2 1.1 1.8 1 -0.6 1.1 1.4 1 -0.4 1 1 1 -0.7 1.1 1.1 1 -0.5 1 1.1 1 -1.1 1 1.3 1.1 -0.7 1 1.2 1 -0.1 1 1.5 1 -0.7 1 2.1 1.1 -1 1 1.9 1 -0.6 1 2.1 1 -0.8 1.1 2.5 1 -1.1 1 1.8 1 -0.2 1 1.2 1 -0.1 1.1 1.6 1 -0.3 1 1.9 1 -1.2 1 1.3 1.1 -1.6 1 1.4 1 -1.1 1 1.1 1 -1.2 1 0.9 1.1 -1.2 1 1.5 1 -0.5 1 1.9 1 -1 1.1 1.8 1 -0.8 1 1.4 1 -0.1 1 1.1 1 -0.6 1.1 1.2 1 -1.4 1 1.5 1 -1.7 1 1.5 1.1 -1.6 1 1.6 1 -1.5 1 2.7 1.1 -1.2 1 2.9 1.1 -1.1 1 2.1 1.1 -0.7 1 1.9 1 -1.2 1.1 2 1 -1.1 1 2.2 1 -1.1 1 2 1 -1.8 1.1 2.3 1 -1.7 1 1.6 1 -1.4 1 0.9 1.1 -1.2 1 0.7 1 -1.1 1 0.4 1 -1.2 1 1.2 1.1 -0.8 1 3 1.1 -0.7 1 2.4 1.1 -0.4 1 2.1 1.1 -0.6 1 1.1 1.1 -2.3 1 1.6 1.1 -2.2 1 1.4 1.1 -1.6 1 0.1 1 -0.3 1 2.1 1 -0.8 1 2.6 1 -1.1 1 2.2 1 -1.4 1 2.7 1 -1.4 1 2.6 1 -0.7 1 0.9 1 -1.2 1.1 0.6 1 -1.3 1 1 1 -1.7 1 1 1 -1.4 1.1 1.2 1 -0.9 1 1.7 1 -1.5 1 1.4 1 -1.4 1 1.6 1 -1.4 1 1.9 1 -2 1 1.7 1 -1.4 1 1.1 1 -0.9 1 1.2 1 -1.2 1 1.7 1.1 -1.3 1 1.2 1 -1 1 1.4 1.1 0 1.1 2.2 1.1 -0.1 1.1 1.8 1.1 -0.5 1 1.5 1.1 -1.6 1 2 1 -1.6 1 1.6 1 -1.2 1 1.3 1.1 -1.2 1 1.6 1 -1.3 1.1 2 1 -0.9 1.1 2.2 1 -0.6 1.1 2.2 1 -1.1 1.1 1.5 1 -1.6 1.1 1 1 -1.6 1 1.1 1.1 -1.2 1 1.3 1.1 -1 1 1.3 1 -0.8 1 1.1 1 -0.6 1 1.5 1.1 -1.5 1 2 1 -1.3 1.1 2.7 1.1 -1 1.1 2.5 1.1 -0.9 1.1 2.2 1 -1.2 1 1.4 1.1 -1.3 1 1.4 1 -1.5 1 1.5 1 -1.7 1 1.4 1.1 -1.6 1 2.2 1.1 -0.7 1 2.4 1.1 -0.7 1 2.1 1 -0.6 1.1 2.2 1 -1 1 2.4 1 -1.5 1.1 2.1 1 -0.8 1 1 1 -0.3 1 1.3 1.1 -0.6 1 1.6 1 -0.9 1 1.4 1 -1.1 1 1.7 1.1 -0.8 1 1.4 1 -0.8 1 1.3 1.1 0 1.1 2.6 1.1 0.1 1.1 2.8 1.1 -0.3 1.1 2.9 1 -1.1 1.1 2.7 1 -0.5 1 2.6 1.1 -0.2 1 2.6 1.1 -1.6 1.1 1.2 1.1 -1.2 1.1 0.8 1.1 -1 1.1 2.6 1 -0.4 1.1 3.4 1 -0.7 1.1 2.6 1 0.6 1.1 2 1 0.3 1.1 1.4 1 -0.5 1.1 1.9 1 -0.5 1.1 1.9 1 -0.4 1 1.2 1.1 -1.1 1 1.4 1.1 -1.1 1 1.3 1.1 -1.2 1 1.6 1.1 -0.9 1 2.8 1.1 -0.8 1 2.6 1.1 -0.4 1 2 1.1 0 1 1.2 1.1 -1.1 1 1.2 1.1 -1.4 1 1.1 1 -0.7 1.1 1.2 1 -0.9 0.9 1.7 1 -1.2 0.9 2.2 1 -1.8 1 2.6 0.9 -2 1 2.3 1 -1.5 0.9 2.2 1 -0.8 0.9 0.9 0 5.2 1 1.7 1 -2 0.9 1.8 1 -1.5 1 1.7 1 -1.2 0.9 1.9 1 -1.6 1 1.8 1 -1.7 1 1.4 0.9 -1.6 1 1.7 1 -1.4 1 1.9 1 -1.6 1.1 1.4 1 -1.4 1 2 1.1 -1.4 1 2.3 1.1 -1.3 1 1.7 0.9 -1.3 1 1.9 1 -2.1 1 2.4 1 -2.3 0.9 2 1 -1 1 1 1 -0.5 0.9 0.8 1 -0.9 1 1.5 1 -1 1 1.5 1 -1 1 1 1 -1.1 1 1.3 1 -0.9 1.1 1.5 1 -1.4 1 1.5 1 -1.8 1 1.6 1 -1.4 1.1 1.6 1 -1.4 1 1.7 1 -1.3 1 1.6 1.1 -1.4 1 1.7 1 -1.3 1 1.8 1 -1.6 1 1.4 1.1 -0.9 1 1.2 1 -1 1 1.7 1 -1.8 1.1 2.1 1 -1.5 1 1.8 1 -1.6 1 1.6 1 -1.4 1.1 1.3 1 -1.1 1 1.4 1 -1.1 1 1.7 1.1 -1.2 1 1.8 1 -1.5 1 1.5 1 -0.9 1 1.5 1.1 -0.8 1 1.6 1 -1.2 1 1.1 1 -0.8 1.1 0.5 1 -0.6 1 1.1 1 -1.4 1 1.9 1 -1.7 1.1 1.5 1 -1 1 1.7 1 -1.5 1 2.2 1.1 -1.7 1 1.8 1 -1 1 1.1 1 -0.8 1 0.6 1.1 -0.5 1 1 1 -0.9 1 1 1 -1 1.1 1.1 1 -0.9 1 1 1 -0.9 1 0.5 1 -0.7 1.1 1 1 -1.7 1 2.2 1 -2.2 1 1.9 1 -1.5 1.1 1.5 1 -0.9 1 1.1 1 -1.6 1 1.4 1.1 -2.1 1 2 1 -1.8 1 2.4 1 -1.7 1 1.9 1.1 -1.3 1 1.2 1 -1.1 1 0.6 1 -0.9 1.1 1.8 1 -1.7 1 2.2 1 -1.8 1 1.7 1 -1.4 1.1 1.5 1 -1.1 1 1.5 1 -1.5 1 1.6 1.1 -1.1 1 1 1 -0.8 1 1.3 1 -1.6 1 2.5 1.1 -2.2 1 2.1 1 -1.4 1 1.3 1 -0.6 1.1 1.5 1 -1.2 1 1.7 1 -1.2 1 1.5 1 -1.2 1.1 1.4 1 -1.5 1 1.5 1 -1.6 1 1.5 1.1 -1.5 1 1.4 1 -1.6 1 1.7 1 -1.4 1 1.2 1.1 -0.6 1 0.8 1 -0.6 1 1 1 -1.5 1.1 1.7 1 -1.7 1 1.5 1 -0.8 1 0.7 1 -0.5 1.1 1.3 1 -1.4 1 1.6 1 -1.4 1 1.7 1 -1.2 1.1 1.4 1 -1.3 1 0.9 1 -1.1 1 1.2 1.1 -1.2 1 1.4 1 -0.8 1 1.7 1 -1.5 1 1.8 1.1 -2 1 1.7 1 -1.4 1 2 1 -1.7 1.1 2.2 1 -2.2 1 1.9 1 -2 1 1.8 1 -1.9 1.1 1.9 1 -1.7 1 1.8 1 -1.4 1 2.1 1.1 -1.4 1 1.5 1 -0.9 1 1.4 1 -1.4 1 1.9 1.1 -1.2 1 1.4 1 -1.1 1 1.5 1 -1.3 1.1 0.7 1 -0.4 1 0.7 1 -0.9 1 1.4 1 -1 1.1 1.6 1 -1.6 1 1.5 1 -1.4 1 1.1 1.1 -0.5 1 1.1 1 -0.8 1 0.8 1 -1.3 1 1.4 1.1 -2 1 1.5 1 -1.7 1 1 1 -1.1 1.1 1.3 1 -0.7 1 1.2 1 -1.2 1 1.6 1 -1.6 1.1 2.4 1 -1.8 1 2 1 -2 1 2 1 -1.3 1.1 1.5 1 -0.8 1 1.5 1 -1.5 1 2 1.1 -1.7 1 1.6 1 -1.3 1 1.3 1 -0.7 1 0.8 1.1 -0.6 1 0.8 1 -1.6 1 2.1 1 -2.3 1.1 2.2 1 -0.9 1 0.9 1 -0.5 1 1.6 1 -1.7 1.1 2.3 1 -1.9 1 2.1 1 -1.3 1 2 1.1 -1.1 1 1.6 1 -1.3 1 1.2 1 -1.1 1 1.6 1.1 -1 1 1.1 1 -1.4 1 1.5 1 -1.4 1.1 1.9 1 -1.7 1 1.5 1 -2.1 1 1.8 1 -1.6 1.1 2.2 1 -1.5 1 1.5 1 -1.5 1 1.4 1.1 -1.3 1 2.1 1 -1.3 1 2.4 1 -1.8 1 1.8 1.1 -1.8 1 1.7 1 -2.1 1 2.3 1 -1.7 1.1 1.8 1 -0.9 1 0.8 1 -1 1 1.1 1 -1.9 1.1 2.2 1 -2.2 1 2.4 1 -2.1 1 2.3 1.1 -1.8 1 2.4 1 -2 1 2.2 1 -1.5 1 1.6 1.1 -0.5 1 1.7 1 -0.9 1 1.3 1 -1 1 0.5 1.1 -0.9 1 1 1 -1.1 1 1.4 1 -0.7 1.1 1.3 1 -1.9 1 2.4 1 -2.1 1 2.3 1 -1.7 1.1 2.3 1 -1.9 1 2.3 1 -1.9 1 2.2 1.1 -2.7 1 2.2 1 -1.3 1 2 1 -1 1 2 1.1 -1.7 1 1.1 1 -1.4 1 1.3 1 -2 1.1 1.9 1 -1.8 1 1.3 1 -1.1 1 1.1 1 -1 1.1 1.8 1 -1.1 1 1.7 1 -0.3 1 1.8 1.1 -0.7 1 2 1 -0.9 1 1.7 1 -1.5 1 1.6 1 -1.1 1 1.3 1 -1 1.1 1.2 1 -1.4 1 0.9 1 -0.9 1 1.3 1 -1 1 1.4 1 -1 1.1 0.9 1 -1.7 1.1 1 1 -2.5 1.1 1 1 -2.6 1 0.8 1.1 -2.3 1 2.6 1.1 -1.1 1 2.6 1.1 -1.2 1 1.4 1.1 -0.7 1 1.4 1.1 -0.6 1 1.2 1.1 -1.3 1 1.3 1.1 -1.6 1 1.8 1.1 -1.3 1 2.1 1 -1.5 1 3.1 1 -2.1 1 2.7 1.1 -2.2 1 2.7 1 -2 1 2.8 1 -1.7 1 2.2 1 -1.3 1 1.7 1 -1.3 1 1.6 1 -1.6 1 2.4 1 -1.4 1 2.4 1 -1.2 1 0.9 1 -2 1.1 1.1 1 -1.7 1 1.3 1 -1.4 1 1.2 1.1 -2.1 1 1.7 1 -1.7 1 3.3 1 -1.4 1 2.6 1.1 -1.8 1 2.6 1 -2.5 1 4.2 1 -3.1 1.1 3.6 1 -3 1 2.3 1 -2 1 2 1 -2.3 1.1 2.1 1 -2 1 1.6 1 -0.9 1 2.9 1.1 -1.9 1 3.8 1 -2 1 3.1 1 -1.4 1 2.6 1.1 -1.1 1 1.9 1.1 -2.8 1 2.5 1 -3.2 1.1 2.7 1 -2.8 1.1 1.9 1 -1.9 1.1 2.6 1 -1.4 1.1 2.4 1 -1.5 1.1 2.7 1 -3.2 1.1 3 1 -3 1.1 2 1 -1.5 1.1 1.5 1 -1 1.1 2 1 -1.4 1 3 1 -2.3 1 2.9 1 -1.9 1.1 2.6 1 -1.1 1 3.1 1 -1.7 1 2.6 1 -2.8 1.1 2.1 1 -1.6 1 1.5 1 -1.7 1 1.4 1.1 -1.8 1 1.8 1 -1.3 1 1.6 1 -1.2 1 1.8 1.1 -2.2 1 3.9 1 -3.1 1 3 1 -1.3 1.1 0.8 1 -1.2 1.1 1.3 1 -2.4 1.1 1.6 1 -1.4 1.1 0.9 1 -0.5 1.1 2.6 1 -1.1 1.1 3.4 1 -1.6 1.1 3 1 -1.5 1 1.4 1.1 -3.1 1 1.4 1.1 -3.6 1 2.8 1.1 -4.1 1 3.6 1.1 -2.6 1 3.1 1.1 -1.9 1 3.3 1.1 -2.2 1 3.9 1.1 -2.8 1.1 2.4 1.1 -2.9 1.1 2.3 1.1 -2.4 1.1 2.1 1 -2.3 1.1 3.9 1 -2.4 1 4 1.1 -2.2 1 4.5 1.1 -2.8 1.1 3.2 1.1 -3.9 1.1 1.5 1.1 -1.3 1.1 0.5 1 -0.1 1.1 3.5 1 -2.7 1.1 4.6 1 -2.6 1.1 3.6 1 -1.9 1.1 1.9 1 -2.2 1.1 2.2 1 -2.2 1 1.9 1.1 -1.6 1 0.9 1.1 -1.7 1 1.9 1.1 -2.4 1 3.1 1.1 -1.7 1 1.9 1.1 -2.3 1 2.2 1.1 -2.5 1 2.6 1.1 -2 1 2.1 1.1 -3 1 3.7 1 -3.2 1 4.6 1.1 -3.1 1 3.9 1 -2.2 1 3.4 1 -1.8 1 2.8 1.1 -1.7 1 2.4 1.1 -3 1 2.2 1.1 -2.2 1 1.5 1 -1.6 1.1 1.8 1 -2.3 1.1 3 1 -3.1 1.1 3.3 1 -2.7 1.1 2.8 1 -1.4 1.1 1.8 1 -1.5 1.1 2.8 1 -2.1 1.1 3.8 1 -3.1 1.1 3.4 1 -4.4 1.1 3.8 1 -4.3 1 3.4 1.1 -2.9 1 1.6 1.1 -1.1 1 1.3 1.1 -2.3 1 2.3 1.1 -2.8 1 2.6 1.1 -1.8 1 1.4 1 -1.7 1.1 2.8 1 -3.1 1 4.3 1 -2.4 1 3.4 1 -2.6 1.1 3.3 1 -2.7 1 3.2 1 -1.7 1 2.5 1.1 -2 1 2.1 1 -1.7 1 1.9 1 -1.3 1 2.2 1.1 -1.5 1 1.8 1 -0.9 1 1.3 1 -1.6 1 3.4 1.1 -2.8 1 4.1 1 -3.6 1 3.4 1 -4.8 1.1 4.8 1 -4.8 1 3.6 1 -3.2 1 2.7 1 -2.9 1.1 2.8 1 -1.7 1 2.7 1 -1.8 1 3.6 1.1 -3.4 1 3.6 1 -2.2 1 3.9 1 -2.1 1 3.4 1.1 -2.6 1 2.3 1 -2.5 1 2.6 1 -1.8 1.1 1.4 1 -1.4 1 1.4 1 -2.3 1 3 1 -2.9 1.1 3.8 1 -4 1 2.3 1 -2.9 1 2.4 1.1 -1.9 1 3.5 1 -2.1 1 2.2 1 -2.9 1 2.8 1.1 -3.3 1 4.1 1 -2.6 1 2.4 1 -1.8 1.1 2.1 1 -2.2 1 2.8 1 -2 1 1.9 1 -2.2 1.1 2.5 1 -3.3 1 4.2 1.1 -3.8 1 4.4 1.1 -4.4 1 3.7 1.1 -2.5 1 2.3 1.1 -1.1 1 2.6 1.1 -2 1 3.4 1 -1.7 1.1 3.2 1 -1.9 1.1 2.3 1 -2.9 1 3.1 1 -3.1 1 3.4 1 -2.5 1.1 3.8 1 -3.8 1 4.9 1.1 -3.4 1.1 5.3 1.1 -2.7 1.1 4.6 1.1 -2.6 1 3.8 1 -3.2 1.1 2.1 1 -2.4 1 1.4 1 -2.5 1 1.8 1 -4 1.1 2.9 1 -2.7 1 3.6 1 -2.1 1 2.1 1.1 -1.1 1 1.2 1 -0.9 1 2 1 -2.6 1 3.8 1 -3.7 0.9 4.5 1 -3.4 1 3.1 1 -2.8 0.9 2.7 1 -2.8 1 4.7 0.9 -3.5 1.1 4.7 1 -3.8 1 2.9 1 -2.6 1 2.3 1 -2.5 1 1.9 1.1 -1.9 1 2.4 1 -1.7 1 3 1 -2.9 1 2.3 1.1 -2.8 1 2.8 1 -2.9 1 3.5 1 -3.9 1 4 1.1 -3.7 1 4.2 1 -3.1 1 3.9 1 -2.9 1.1 3.1 1 -2.7 1 3.1 1 -3.7 1 4.6 1 -4.3 1.1 3.8 1 -3.8 1 3.7 1 -2.3 1 2.9 1.1 -1.8 1 2.6 1 -2.9 1 4.3 1 -3.1 1 3.2 1.1 -2.6 1 2.3 1 -2.9 1 3.2 1 -4.2 1 5 1.1 -4.3 1 4.8 1 -3.6 1 3.1 1 -3.5 1.1 3.6 1 -3.8 1 3.7 1 -2.4 1 3 1 -1.6 1.1 2.2 1 -3.2 1 3.1 1 -3.1 1 3 1.1 -2.1 1 2.6 1 -2.4 1 3 1 -2 1 1.9 1.1 -2.7 1 3.1 1 -3.6 1 4.2 1 -3.2 1.1 4.2 1 -3.4 1 4.2 1 -3.9 1 3 1 -3.2 1.1 3.4 1 -2.9 1 2.9 1 -3 1 2.4 1.1 -2.1 1 2.7 1 -1.2 1 1.8 1 -1.2 1 2 1 -2.8 1 3.6 1 -3.6 1 3.7 1 -1.9 1 3.2 1 -3.2 1 4.5 1 -4.7 1 4.5 1.1 -4.1 1 4.1 1.1 -2.5 1 3.1 1.1 -2.1 1 3.9 1.1 -2.8 1 2.9 1 -1.1 1 1.7 1 -1.2 1 2 1.1 -2 1 3 1 -2.1 1 3.8 1 -4 1 3.2 1.1 -3.8 1 3.2 1 -3.2 1 2.8 1 -3.6 1.1 2.6 1 -3.1 1 3.9 1 -3.5 1 3.9 1 -4.2 1.1 3.8 1 -2.4 1 2.7 1 -1.2 1 1.8 1.1 -2.6 1 3.4 1 -2.9 1 3.5 1 -2.2 1 2.5 1.1 -2.6 1 2.9 1 -1.9 1 3.4 1 -3.8 1.1 3.7 1 -4.5 1 4.4 1 -4.6 1 4.8 1 -4.7 1.1 3.4 1 -3.7 1 4.1 1 -3.6 1 5.3 1.1 -4.6 1 5.1 1 -4.4 1 4.2 1 -2.8 1 3.1 1.1 -3.7 1 2.6 1 -3.4 1 1.7 1 -1.9 1.1 2.1 1 -2.3 1 1.7 1 -0.8 1 2.3 1 -1.4 1.1 2.4 1 -3 1 2.8 1 -1.7 1 3 1.1 -1.3 1 2.5 1 -2.6 1 3 1 -4.2 1 3.6 1.1 -4.6 1 2.7 1 -2.6 1 2.1 1 -2.4 1 2.8 1.1 -1.9 1 3.7 1 -3.2 1 3.4 1 -2.8 1.1 2.8 1 -2.4 1 3.9 1 -4.5 1 4.7 1 -3.8 1.1 2.6 1 -1.8 1 2.2 1 -2.6 1 2.4 1.1 -3.1 1 2.5 1.1 -2.9 1 4.4 1.1 -3.2 1 3.3 1.1 -3.4 0.9 2.9 1 -2.5 1 2.5 1.1 -2.6 1 3.8 1.1 -4 1 3 1.1 -3 1 1.1 1.1 -0.9 1 2.5 1.1 -2.2 1 3.3 1.1 -1.9 1 2.3 1.1 -0.9 1 2.4 1.1 -1.9 1 2.8 1 -2.3 1.1 2.3 1 -2.1 1.1 3.1 1 -3.8 1.1 2.8 1 -3.8 1.1 2 1 -2.7 1.1 1.7 1 -2.4 1.1 2.4 1 -1.1 1.1 1.7 1 -1.4 1.1 1.4 1 -1.8 1.1 2.9 1 -3.4 1 3.2 1 -3.7 1 2.2 1 -3.4 1.1 2.8 1 -3.2 1 3.2 1 -2.2 1 2.7 1 -2.4 1.1 3.1 1 -3.3 1 3.7 1 -2.4 1 2.9 1.1 -1.5 1 2.3 1 -2 1.1 3.1 1 -3.6 1.1 3 1 -2.7 1.1 2.5 1 -1.8 1 2.7 1 -2.7 1 2.1 1 -2.6 1 0.9 1 -2.7 1 2.6 1 -3.9 1 4.6 1 -4 1 2.5 1 -1.8 1.1 2.7 1 -2.4 1.1 3.7 1 -3.4 1.1 4.2 1 -3.4 1.1 4.2 1 -3.2 1.1 3 1 -2.8 1.1 3.2 1 -2.6 1.1 3.8 1 -3.6 1 2.8 1 -3 1 3.1 1.1 -2.9 1 3.2 1 -3.6 1 2.9 1 -2.8 1 3.1 1.1 -2.6 1 2.6 1 -3.3 1 2.6 1 -1.3 1 2.5 1.1 -1.3 1 2.5 1 -2.9 1 1.5 1 -1.6 1 2.4 1 -2.4 1 3.8 1 -3.1 1 3.1 1 -3.4 1 3.3 1 -4.2 1 3.8 1 -3.8 1 4 1 -3.5 1 3.6 1 -2.7 1 2.8 1 -3.7 1 3.8 1 -5 1 3.4 1 -3.4 1.1 3.3 1 -2.7 1.1 4.2 1 -3.1 1.1 3.3 1 -3.4 1.1 2.7 1.1 -4.8 1.1 3.5 1.1 -3.7 1.1 2.5 1.1 -1.6 1.1 4.4 1.1 -2.5 1.1 4.4 1.1 -1.5 1 1 1 -2.1 1.1 1.5 1 -3.4 1 2.8 1 -3.6 1 3 1 -2.8 1.1 2 1.1 -0.9 1.1 2.1 1.1 -1.1 1.1 3.8 1.1 -3.1 1 3.5 1 -4.5 1 3.7 1 -4.5 1.1 5.1 1 -4.2 1 2.6 1 -2.6 1 1 1.1 -1.7 1 2 1.1 -2.1 1 2.5 1.1 -1.7 1 2.8 1.1 -2 1.1 3 1.1 -2.5 1.1 3.7 1.1 -3.6 1.1 3.8 1 -5.1 1 2.6 1.1 -2.9 1 1.3 1.1 -2.1 1 1.5 1.1 -3.6 1 4.2 1 -2.9 1 3.9 1.1 -3 1 2.4 1 -2.2 1 3.7 1 -3.2 1 3.9 1.1 -2.6 1 2 1.1 -1.5 1 2 1.1 -1.8 1 2.6 1.1 -2.2 1 3.2 1.1 -3.9 1 2.8 1.1 -3.3 1 2.8 1.1 -5 1 4.1 1.1 -4.3 1 5.2 1 -3.2 1.1 4 1 -3.1 1.1 3 1 -1.2 1.1 3 1 -2.6 1 3.7 1 -3.8 1 3.5 1 -2.8 1.1 1.3 1 -1.2 1 1.2 1 -1.9 1 1.7 1.1 -2.6 1 2.8 1 -2.8 1 4.1 1 -3.9 1 4.2 1.1 -5.1 1 4 1.1 -4 1 3.5 1 -2.8 1.1 3 1 -3.1 1.1 2.1 1 -1 1.1 1.7 1 -1.2 1.1 3.3 1 -3.4 1.1 5.2 1 -4.5 1.1 4.1 1 -4.8 1.1 3.6 1 -3.1 1.1 3 1 -1.9 1 2.4 1.1 -2.5 1 2.3 1 -2.3 1 2.8 1 -2.9 1.1 3.3 1 -3.7 1 2.4 1 -1.9 1.1 1.4 1.1 -2 1.1 1.6 1.1 -3.1 1.1 1.6 1.1 -3.4 1.1 3.2 1.1 -4.3 1.1 4 1.1 -4 1 4.3 0.9 -1.4 1 4 1 -0.8 0.9 4.4 1 -0.4 1.1 0 1.1 0 1 0 1.1 0"/>
<path class="curve" stroke="#00bfbf" d="M218.3 65.8l0.1 5.2 0.1 4.7 0.1 5.1 0.1 4.8 0.1 5.1 0.1 4.8 0.1 5.1 0.1 4.9 0.1 5 0.1 4.8 0.1 5.1 0.1 4.7 0.1 5.2 0.1 4.8 0.1 5.2 0.1 4.7 0.1 5.1 0.1 4.8 0.1 5.1 0 4.9 0.1 5.2 0.1 4.8 0 5.2 0.1 4.8 0.1 5.2 0.1 4.8 0.1 5.2 0 4.8 0.1 5.2 0.1 4.8 0 5.2 0.1 4.8 0.1 5.1 0.1 4.9 0.1 5.2 0 4.7 0.1 5.3 0.1 4.7 0.1 5.3 0.1 4.8 0.1 5.2 0.2 4.8 0.1 5.2 0.1 4.8 0.1 5.2 0.1 4.7 0.1 5.3 0.1 4.8 0.1 5.2 0.1 4.7 0.2 5.4 0.1 4.7 0.1 5.2 0.1 4.8 0.1 5.1 0.1 4.9 0.2 5.1 0.1 4.9 0.1 5.2 0.2 4.8 0.1 5.3 0.2 4.7 0.1 5.2 0.1 4.9 0.2 5.1 0.1 4.8 0.2 5.2 0.1 4.8 0.1 5.2 0.2 4.8 0.1 5.2 0.4 4.5 0.4 4.9 0.4 4.6 0.4 4.9 0.7 4.7 0.6 4.9 0.7 4.6 0.7 5.1 0.6 4.6 0.7 5.1 0.7 4.5 0.7 5 0.6 4.6 0.7 4.9 0.7 5.1 0.7 5.3 0.7 4.9 0.7 5.4 0.7 4.9 0.7 5.4 0.7 4.8 0.7 5.5 0.7 5.1 0.7 5.5 0.6 5.1 0.7 5.5 0.7 5.1 0.7 5.5 0.5 4.7 0.6 5.1 0.5 4.5 0.5 5.2 0.5 4.5 0.6 5.2 0.5 4.7 0.8 4.7 0.8 4.2 0.8 4.8 0.8 4.1 0.8 4.3 0.8 3.7 0.9 4.8 1 4.4 0.9 4.9 0.9 4.3 0.9 4.9 0.9 4.2 0.9 4.9 1 4.3 1 3.4 1.1 2.8 1.1 3.2 1 2.8 1.1 3.3 1.1 2.7 1 3.4 1.1 1.8 1 3.5 1.1 1.6 1 3.5 1.1 1.9 1 3.1 1.1 2.6 1.1 3.2 1.1 2.7 1.1 3.2 1.1 2.7 1.1 4.6 1.1 4.1 1.1 4.7 1.1 4.1 1.1 4.7 0.9 3.4 0.9 3.9 0.9 3.4 1 4 0.9 3.3 0.9 4.9 0.9 4.3 0.9 4.8 0.9 4.4 0.7 4.9 0.7 4.3 0.7 4.9 0.7 4.1 0.7 4.9 0.7 4.2 0.7 5 0.6 4.3 0.6 5 0.6 4.2 0.6 4.9 0.6 4.3 0.8 4.8 0.8 4.3 0.8 4.9 0.7 4.2 0.7 5 0.7 4.2 0.7 5 0.7 4.2 0.8 4.9 0.8 4.3 0.9 4.8 0.8 4.3 0.8 4.9 0.7 4.1 0.8 5.1 0.8 4.2 0.9 2.9 0.9 2.2 0.9 4 1 3.3 0.9 4.1 0.9 3.2 0.9 3.4 0.9 2.4 0.9 3.4 1 2.6 0.9 3.2 0.9 2.7 0.9 3.2 0.9 2.6 0.9 3.3 1 2.6 0.9 4 0.9 3.3 0.9 4 1.1 0.9 1.1 2.8 1.1 0.9 1.1 3.1 1.1 0.6 1.1 3.8 1.1 1.5 1.1 3.5 1.1 1.9 1.1 3.5 1.1 1.8 1.1 3.4 1.1 1.8 1.1 3.2 1.1 1.9 0.9 3.4 0.9 3.1 0.9 3.3 1 2.9 1.1 2.2 1.1 0.5 1.1 2.3 1.1 0.4 1.1 2.3 0.9 2.4 0.9 3 0.9 2.6 0.9 2.9 0.9 2.4 1 2.7 0.9 2.5 0.9 2.6 0.9 2.2 1.1 2.2 1 0.7 1.1 2.4 1.1 0.8 1.1 2.1 1 0.8 1.1 2 1.1 0 1.1 2.4 1.1 -0.1 1.1 2.4 1.1 0.8 1.1 3.6 1.1 1 1.1 3.6 1.1 1 1.1 2.1 1.1 -0.2 1.1 2.1 1.1 -0.1 1.1 2.6 0.9 0.4 0.9 3.3 1 0.3 0.9 3.2 1.1 -0.6 1.1 1.5 1.1 -0.5 1.1 1.1 1.1 -0.5 1 2 1.1 0.2 1 2.8 1.1 -0.2 1 2.5 1.1 0.2 1 2.3 1.1 -0.7 1 2 1 -0.9 1.1 2.2 1 -0.9 1.1 2 1 -0.7 1.1 1.7 1.1 -0.1 1.1 1.8 1.1 -0.5 1.1 2 1.1 -0.7 1 2.1 1.1 -0.8 1 2.5 1.1 -0.9 1 2.3 1.1 -0.7 1 1.8 1.1 -0.7 1 1.6 1.1 -0.9 1 1.8 1 -1 1.1 1.7 1.1 0.3 1.1 2.1 1.1 0.2 1.1 2.4 1.1 0.2 1.1 0.9 1.1 -1.1 1.1 0.7 1.1 -1 1.1 0.3 1.1 0.5 1.1 2.5 1.1 0.3 1.1 2.6 1.1 -0.1 1 1.4 1.1 -1.2 1 2.3 1.1 -0.9 1 2.6 1.1 -0.9 1 1.7 1.1 -0.3 1 1.9 1.1 -0.1 1 1.4 1.1 0.5 1 1.2 1 0.6 1.1 1.8 1.1 -0.2 1.1 2.7 1.1 -1.7 1.1 3.3 1 0.1 0.9 4.1 0.9 1.1 0.9 3.2 1.1 -1.1 1.1 0.5 1.1 -1.2 1.1 1.3 1.1 -1.7 1.1 1.1 1.1 -1.4 1.1 0.8 1 -0.6 1.1 2.6 1 -0.6 1.1 2.6 1 -0.5 1.1 1.3 1 -0.1 1.1 2.1 1 -0.6 1.1 2.3 1 -1 1.1 1.5 1 -0.4 1.1 1.7 1 -0.7 1.1 1.4 1 -0.4 1 1.2 1.1 -0.5 1 1.2 1.1 -0.7 1.1 2.4 1.1 0.3 1.1 2.9 1.1 -0.4 1.1 3.2 1 -2 1.1 0.9 1 -1.2 1.1 0.5 1 -1.1 1.1 1.4 1 -2.4 1.1 2.7 1 -1.4 1.1 2.6 1 -0.4 1.1 2.5 1 -0.4 1 2.3 1.1 -1.7 1 1.7 1 -1.5 1 2.2 1 -1.9 1.1 2.2 1 -1.8 1 1.9 1 -1.2 1.1 1.7 1 -0.9 1.1 1.8 1 -0.8 1 2.1 1.1 -1 1 2.1 1.1 -1.5 1 1.6 1.1 -1.8 1 2.1 1.1 -2.7 1 2.5 1.1 -2.6 1 3.6 1.1 -1.7 1 3.3 1.1 -1 1 2.9 1.1 -1.3 1 3.5 1.1 -1.8 1.1 2.6 1.1 -1.2 1.1 2.9 1.1 -0.9 1.1 1.4 1.1 -2.4 1.1 0.8 1.1 -2.7 1.1 1.4 1 -1.9 1.1 2.7 1 -1.5 1.1 1.9 1 -0.7 1.1 1.8 1 -0.7 1.1 2.1 1 -1.3 1.1 2.4 1 -2.4 1.1 3.4 1 -2.2 1.1 2.2 1 -0.9 1 1.4 1.1 -1.9 1 2.3 1.1 -2.3 1 1.7 1.1 -1.7 1 1.8 1.1 -1.9 1 1.7 1.1 -1.9 1 1.9 1.1 -1.8 1 1.6 1.1 -1.1 1 2.7 1.1 -1.9 1 3.1 1.1 -1.2 1 1.7 1 -0.3 1.1 1.5 1 -0.2 1.1 1.7 1 -0.9 1.1 1.8 1 -0.6 1.1 1.7 1 -1.8 1.1 0.1 1.1 -2.3 1.1 0.9 1 -2.1 1.1 1.1 1 -0.8 1.1 2.6 1 -1.4 1 2.9 1 -1.4 1.1 3.1 1 -0.7 1 3.1 1.1 -1.7 1 2.6 1 -2.5 1 3.1 1 -2.4 1 3.7 1.1 -2.1 1 3.2 1 -1.6 1 1.3 1.1 -2.6 1 1.4 1.1 -1.7 1 1 1.1 -1.2 1 1.3 1.1 -1.8 1.1 3.5 1.1 -2.1 1.1 2.4 1.1 -0.4 1.1 0.4 1.1 -1.8 1.1 0.7 1.1 -2.1 1.1 0.4 1.1 -0.7 1 2.1 1.1 -0.9 1 2.8 1.1 -2 1 3.6 1.1 -2.5 1 3 1 -3.5 1.1 2.7 1 -2.8 1.1 1.9 1 -1.5 1.1 1.1 1 -1 1.1 3.2 1 -1.1 1.1 3.7 1 -1.7 1.1 3.5 1 -1.6 1 1.6 1 -0.8 1.1 1.4 1 -1.3 1 1.1 1 -1.6 1 0.9 1.1 -2.2 1 2.4 1.1 -1.6 1.1 3.6 1.1 -1.4 1.1 3.1 1.1 -1.3 0.9 -0.1 0.9 -1.6 0.9 -0.2 0.9 -2.2 1.1 2.4 1.1 -0.5 1.1 1.8 1.1 -0.2 1.1 2.3 1.1 -2.3 1.1 2.5 1.1 -3 1.1 1.7 1.1 -2.4 1.1 2.3 1 -1.2 1.1 2.3 1 -1.5 1.1 2 1 -2.2 1.1 3.3 1 -2 1.1 4.4 1 -2.2 1.1 4.3 1 -2.5 1 4.2 1.1 -1.7 1 2.7 1.1 -2.3 1 3.1 1.1 -2.7 1 2.8 1.1 -1.7 1 1 1.1 -1.1 1 0.9 1.1 -1.4 1 1.3 1.1 -2.1 1 2.6 1.1 -2.7 1 3.7 1 -2.4 1.1 2.9 1 -1.9 1.1 3 1 -0.5 1.1 2.8 1 -2.4 1.1 0.9 1 -2.2 1.1 0.9 1 -2.1 1.1 1.9 1 -4.2 1.1 4 1 -3.4 1.1 3.6 1 -2.3 1 2.3 1.1 -1 1 2 1.1 -1.3 1.1 3.5 1.1 -1.9 1.1 3.8 1.1 -2.2 1.1 2.1 1 -3.1 1.1 1.8 1 -2.3 1.1 1.8 1 -1.7 1.1 2 1 -0.8 1.1 2.4 1 -1.3 1.1 2.2 1 -1.7 1.1 2.6 1 -1 1 1.2 1.1 -0.7 1 1.1 1.1 -1.4 1 2 1.1 -2 1 2.3 1.1 -1.7 1 2.2 1.1 -2.1 1 1.9 1.1 -1.9 1 2.3 1.1 -1.1 1.1 0.9 1.1 -1.4 1.1 0.9 1.1 -1.8 1.1 1.9 1.1 -1.7 1.1 2.8 1.1 -1.3 1.1 1.8 1.1 0.2 1.1 0.3 1.1 -1.8 1.1 1.8 1.1 -3.4 1.1 3 1 -1.9 1 3.2 1.1 -0.9 1 2 1.1 -0.4 1 2.9 1.1 -1.2 1 2.8 1 -3.2 1 2 1.1 -2.7 1 2.5 1 -2.3 1 3.1 1 -2.8 1 2.2 1.1 -2.1 1 2.5 1.1 -0.9 1 2.5 1.1 -1.3 1 3 1.1 -3.1 1 3.1 1 -2.6 1 2.2 1 -1.1 1.1 1.8 1 -1.5 1 2.2 1 -2 1 2.5 1.1 -3 1.1 1.2 1 -2.7 1.1 1.2 1.1 -3 1.1 1.3 1 -1 1 3.1 1 -0.7 1.1 3.1 1 -1.6 1 2.8 1.1 -1.6 1 2.3 1 -1.5 1.1 2.1 1 -1.5 1.1 2.8 1 -2.4 1.1 2.8 1 -2 1.1 1.1 1 -1.4 1.1 0.2 1 -2.1 1.1 1.5 1 -3.2 1.1 2 1 -1 1.1 2.4 1 -1.1 1 3 1.1 -1.8 1 3.6 1.1 -1.4 1 1.8 1 -2.3 1 1.3 1 -2.1 1 1.6 1 -1.4 0 3.5 1 -2.5 1.1 1.9 1 -2.7 1.1 2.4 1 -2.5 1.1 2.1 1 -2.3 1.1 1.8 1 -2.5 1.1 1.8 1 -2.1 1.1 1 1 -1.3 1.1 0.7 1 -1 1.1 2 1 -1.5 1 2.4 1.1 -1.3 1 2.3 1.1 -1.1 1 2 1 -1 1 1.8 1.1 -0.6 1 1.8 1 -1 1 2.4 1 -2.1 1.1 3.1 1 -3.1 1 2.4 1 -1.7 1 1.7 1 -1.5 1.1 2.1 1 -2.1 1 3 1 -2.2 1.1 2.5 1 -3.5 1.1 2.2 1 -2.6 1.1 1.5 1 -2 1 2.2 1.1 -2.2 1 4.3 1.1 -2.3 1 3.3 1.1 -1.7 1 2.9 1.1 -1.1 1 1.4 1.1 -1.7 1 0.8 1.1 -2.6 1 2.5 1.1 -3.1 1 1.8 1.1 -0.5 1 1 1 -0.9 1.1 2.5 1 -1.9 1.1 2.6 1 -0.7 1.1 0.7 1 -1.3 1 1 1 -2.3 1 1.7 1 -2.4 1.1 1.4 1 -1.1 1 0.6 1 0 1.1 2.4 1 -1.3 1.1 2.3 1 -1.4 1.1 2.7 1 -1.6 1.1 3.1 1 -1.7 1.1 2.4 1 -1.4 1.1 2.8 1 -2 1.1 2.7 1 -2.1 1.1 0.9 1 -1.8 1 1.6 1.1 -2.5 1 2 1.1 -1.9 1.1 1.7 1 -2.4 1.1 2.4 1.1 -3 1 1.7 1.1 -2.1 1.1 2.2 1 -0.6 1.1 2.3 1.1 -1.2 1 3.9 1.1 -2 1.1 3.2 1.1 -3.5 1.1 2.6 1.1 -2.9 1.1 2.5 1.1 -1.4 1.1 2.5 1.1 -0.3 1.1 2 1.1 -0.1 1.1 1.1 1 -2.3 1.1 1.8 1 -3 1 1.6 1.1 -2.9 1 2.2 1.1 -2.3 1 4.1 1.1 -2.7 1 3.5 1.1 -2.3 1 2.7 1.1 -1.3 1 1.8 1.1 -1.7 1 2.8 1.1 -2.8 1 3.5 1.1 -3.1 1 2.7 1 -2.2 1.1 2.1 1 -0.9 1.1 1.7 1 -1 1.1 2.2 1 -2.6 1.1 1.7 1.1 -3.1 1.1 1.2 1.1 -1.9 1.1 0.9 1.1 -0.9 1 2.8 1.1 -1 1 3.3 1.1 -1.7 1 2.8 1.1 -1.5 1 1.2 1.1 -2.1 1 1.9 1 -3 1.1 1.8 1 -3.2 1.1 2.3 1 -1.4 1.1 3.2 1 -1.2 1.1 2.2 1 -1 1.1 2.9 1 -2 1.1 2.5 1 -2.9 1.1 1.7 1 -1.5 1.1 0.4 1 -1.5 1 1.6 1.1 -2.7 1 3.9 1.1 -3.5 1 3.8 1.1 -2.5 1 2.4 1.1 -1.7 1 1.4 1.1 -2 1 2.2 1.1 -2.7 1 2.8 1.1 -1.9 1 2 1 -1 1 0.3 1.1 -1.2 1 1 1 -1.3 1 0.9 1 -1.1 1.1 1 1 -1.7 1 2.5 1.1 -1.1 1 2.4 1.1 -1.6 1 3.5 1.1 -2.2 1 3.4 1 -2.1 1 1.8 1.1 -1.2 1 1.8 1 -1.7 1 2.1 1 -2 1 2.9 1.1 -2.4 1 3 1.1 -2.5 1 3.3 1.1 -2.1 1 3.9 1 -1.9 1.1 3.1 1 -2.7 1.1 2.3 1 -3.4 1.1 3.4 1 -2.7 1.1 1.6 1 -1.8 1.1 0.5 1 -1.6 1.1 1.6 1 -2.6 1.1 1.3 1 -2.8 1.1 1.4 1 -2.2 1 3.2 1.1 -1.7 1 2.4 1.1 -1.9 1 2.1 1.1 -2.6 1 2.8 1.1 -1.5 1 2.4 1.1 -1.3 1 1.6 1.1 -2 1 3.1 1 -2.9 1 3.5 1.1 -2.3 1 2.5 1 -1.9 1 2.2 1 -2.8 1.1 2.8 1 -2.4 1 3.6 1 -2.3 1 3 1 -2.1 1.1 2.2 1 -2.3 1 2.2 1 -2.2 1 2.3 1 -1.2 0.9 4.1 0.9 -1.4 0.9 3.9 1.1 -3.6 1.1 1.3 1.1 -3.7 1.1 2 1.1 -4.4 1 3.6 1.1 -2.6 1 3.5 1.1 -1.8 1 2.3 1.1 -1.9 1 2.9 1 -3.1 1.1 3.4 1 -3.5 1 3 1 -3.7 1 3.4 1.1 -2.6 1 2 1 -2.6 1 2.8 1 -3.4 1 3.7 1.1 -3.1 1 3.4 1 -2.1 1 2.8 1 -2.2 1.1 2.5 1 -1.8 1 2.1 1 -1.7 1 2 1 -1.8 1.1 1.8 1 -0.8 1 2.3 1 -1.1 1 2.7 1.1 -2.8 1 2.2 1 -2.8 1 2.5 1 -1.4 1 1.9 1.1 -1 1 1.6 1 -2 1 2.2 1 -1.8 1.1 2.6 1 -1.6 1 2.7 1 -2.5 1 1.9 1 -2.8 1.1 3 1 -2.3 1.1 4.2 1 -3.1 1.1 2.9 1 -2.5 1.1 2.5 1 -2.3 1.1 3.2 1 -2.9 1.1 3.1 1 -1.6 1.1 2.3 1 -2.1 1.1 2.8 1 -4.5 1 3.9 1.1 -4.2 1 3.7 1.1 -4 1 3.5 1.1 -2.7 1 4.1 1.1 -2.8 1 3.8 1.1 -2.1 1 4.3 1.1 -1.1 1 2.9 1.1 -2.6 1 1.9 1.1 -3.2 1 2.6 1 -3.4 1.1 3.8 1.1 -3.2 1.1 4.5 1.1 -3.1 1.1 4.7 1.1 -3 1.1 3.2 1.1 -3.7 1.1 2.9 1.1 -2.5 1.1 2.3 1 -2 1 1.9 1 -2.3 1 1.9 1 -2.9 1 2.4 1.1 -3.4 1.1 2.4 1.1 -3.2 1.1 3.1 1.1 -3.6 1.1 4.3 1.1 -0.8 1.1 2.9 1.1 -1.4 1.1 4.2 1 -2.8 1 3.5 1 -2.7 1.1 3.5 1 -2.9 1 3.2 1 -2.5 1 2.8 1.1 -1.5 1 2.2 1.1 -2.4 1 2.2 1 -2.4 1.1 2.7 1 -1.6 1.1 2.4 1 -1.8 1.1 3.2 1 -2.2 1.1 2.7 1 -1.9 1.1 2.9 1 -2.2 1.1 2.3 1 -2.6 1.1 1.6 1 -2.3 1.1 2.1 1 -3.3 1 2.5 1.1 -1.9 1 2.6 1 -1.5 1 2.8 1 -2.8 1.1 5.1 1 -4.3 1 4.7 1 -2.8 1 3 1 -3 1.1 4.2 1 -5 1 4.3 1 -4.1 1 3.9 1.1 -3.4 1 4.3 1.1 -1.8 1.1 3.8 1.1 -1.1 1.1 4 1.1 -0.8 1.1 3.1 1.1 -3.5 1.1 2.4 1.1 -3.1 1.1 2.1 1 -2.7 1.1 4.2 1 -4 1.1 4 1 -2.5 1.1 3.2 1 -1.5 1 3.2 1.1 -3.1 1 3.8 1.1 -3.4 1 4.3 1.1 -2.8 1 3.1 1.1 -4.5 1.1 3.4 1.1 -4.6 1.1 3.3 1.1 -3.7 1.1 3.2 1 -4.1 1.1 5.1 1 -3.9 1.1 2.5 1 -1.4 1.1 2.2 1.1 -2 1.1 5.8 1.1 -2.9 1.1 4.3 1.1 -1.7 1 1.9 1 -3.9 1.1 4 1 -4.1 1.1 4.4 1 -2.9 1.1 2.3 1 -2.8 1.1 2.7 1 -4.8 1.1 5.2 1 -5.7 1.1 5.5 1 -5.2 1.1 5.4 1 -3.6 1.1 3.7 1 -2.5 1 4.1 1.1 -4 1 6.3 1.1 -6.2 1 5.4 1.1 -4.3 1 3.6 1.1 -3.9 1 4.6 1.1 -4.8 1 4.8 1.1 -2.1 1 3.8 1.1 -2.3 1 3.3 1.1 -1.9 1 3.2 1.1 -3.1 1.1 3.6 1.1 -5.1 1.1 4.1 1.1 -4.9 1 3.8 1 -3.7 1.1 5.2 1 -6.1 1 6.4 1 -6.5 1 6.2 1 -5.3 1.1 6 1 -4.8 1.1 4 1 -3.4 1.1 2.8 1 -2.6 1 4.9 1.1 -4.6 1 4.2 1.1 -3.5 1 3.3 1.1 -2.8 1 3 1.1 -4.5 1 3.5 1.1 -4.9 1 5.3 1.1 -5 1 5.3 1.1 -4.6 1 4.1 1.1 -4.1 1 3.7 1 -3.8 1.1 6.1 1 -4.9 1.1 6.4 1 -4.4 1.1 4.3 1 -3.5 1.1 4.6 1 -3.2 1.1 3 1 -2.4 1.1 2.8 1 -2.5 1.1 3.3 1 -3.5 1.1 3 1 -4.6 1 3 1.1 -3 1 3.7 1.1 -1.5 1.1 4.8 1.1 -3.4 1.1 5.3 1.1 -4.8 1.1 4.9 1 -6.5 1.1 5.2 1 -5.8 1.1 5 1 -5.7 1.1 3.1 1 -2.1 1.1 1.8 1 -1.1 1.1 1.5 1 -1.6 1.1 3.5 1 -3.5 1 5.6 1.1 -4.2 1 3.8 1.1 -4.5 1 5.2 1.1 -5.4 1 6 1.1 -5.2 1.1 3 1 -5.7 1.1 4.3 1.1 -5.7 1 4.6 1.1 -2.2 1.1 6 1.1 -3.7 1 5.6 1.1 -3.1 1.1 5.6 1 -3.8 1.1 5.1 1 -5 1 4.9 1.1 -6.4 1 4.4 1.1 -5.8 1 5.5 1.1 -4.5 1 4.1 1.1 -3.2 1 1.9 1.1 -3.4 1 4.8 1.1 -5.3 1 7.7 1.1 -5.8 1 6.1 1.1 -4.8 1 5.1 1 -2.6 1.1 2.2 1 -3 1.1 1.7 1 -3.8 1.1 4.1 1 -4.6 1.1 3.7 1 -3.3 1 4.1 1 -2.7 1.1 5.7 1 -4.9 1 6.8 1 -6 1 6.1 1 -4.4 1.1 4.1 1 -5 1.1 3.7 1 -2.7 1.1 2 1 -1.7 1.1 0.9 1 -1.9 1.1 3.2 1 -4 1.1 5.7 1 -5.4 1.1 5.4 1 -3.6 1 2.8 1.1 -2.6 1 2.1 1.1 -3.6 1 4 1.1 -6.2 1 5 1.1 -5.2 1 6.2 1.1 -4.3 1 5.9 1.1 -5.5 1 5 1.1 -4.6 1 4.6 1.1 -4.3 1 3.9 1.1 -4.4 1 4.1 1 -3.7 1.1 3.1 1 -1.7 1.1 2.9 1 -2.4 1.1 5.9 1 -4.8 1.1 5.5 1 -4.3 1.1 4.6 1.1 -2.7 1.1 5.1 1.1 -2 1.1 4.6 1.1 -5 1 4.5 1.1 -6.5 1 5 1.1 -6.7 1 5.1 1 -8.5 1.1 7.2 1 -7.6 1.1 6.6 1 -5.4 1.1 4.6 1 -5.5 1.1 2.5 1 -2.7 1.1 4.6 1 -3.1 1.1 6.2 1 -4.6 1.1 9.2 1 -5.1 1.1 4.8 1 -4.8 1.1 2.2 1 -3.1 1 3.1 1.1 -6.4 1 5.3 1.1 -7.5 1 6.9 1.1 -6.7 1 7.3 1.1 -6.3 1 6.3 1.1 -5.2 1 3.9 1 -5 1 4.5 1 -2.8 1.1 3 1 -2.1 1 2 1 -3.2 1 2.5 1 -3.8 1.1 5.1 1 -4.4 1 6.1 1 -5 1 4.2 1.1 -3.8 1 4 1 -2.5 1 4.2 1 -2.7 1 3.9 1.1 -3.9 1 4.1 1 -5.7 1 5.4 1 -5.1 1.1 4.8 0.9 -4 1 4 1 -5.7 1 4.4 1 -5.8 1 5.7 1 -5 0.9 4.6 1.1 -4.1 1.1 3.7 1.1 -4 1.1 5.5 1.1 -5.2 1.1 6.2 1.1 -1.8 1.1 4.5 1.1 -1.8 1.1 5.7 1 -3.9 1.1 3.3 1 -4.8 1.1 4.6 1 -6.5 1.1 6.4 1 -6.4 1 5.5 1.1 -6.1 1 3.7 1 -4.1 1 4.5 1 -4 1.1 4.9 1 -5.9 1 3.6 1 -3.3 1.1 3 1 -3.2 1.1 3.9 1 -1.9 1.1 4.8 1 -3.5 1 4.5 1.1 -8.3 1 5.5 1 -6 1.1 4.8 1 -6.4 1 5.4 1.1 -6.8 1 7.3 1.1 -3.8 1.1 5.5 1 -2.9 1.1 5.7 1.1 -2.8 1 5.2 1.1 -4.2 1 4.2 1.1 -4.7 1 5 1.1 -2.8 1 4.1 1.1 -2.2 1 1.7 1 -3.2 1.1 5 1 -6.1 1.1 6.2 1 -5.8 1.1 5.2 1 -5.4 1.1 3.7 1 -5.4 1.1 3.4 1 -5.2 1.1 5 1 -6.1 1.1 5.2 1 -4.8 1.1 2.9 1 -4.6 1.1 3.7 1 -4.2 1.1 5.9 1.1 0.4 1.1 5.7 1.1 -1.5 1.1 6.1 1 -6.1 1.1 4 1 -5.3 1.1 4.8 1 -5.7 1.1 4.2 1 -5.8 1.1 5.9 1 -5.3 1.1 5.2 1 -3.9 1.1 3.3 1 -3 1.1 3.4 1 -5.2 1.1 2.4 1.1 -4.9 1 3.7 1.1 -7.1 1.1 7.1 1 -7.1 1.1 7.5 1.1 -2.4 1 3.2 1.1 0.3 1.1 3.4 1 -1.9 1.1 3.3 1 -4.5 1.1 4.9 1 -6.4 1.1 5.6 1 -3.3 1 3.8 1 -2.3 1.1 2.6 1 -3.7 1 4.9 1 -5.3 1 6.7 1.1 -5.7 1 3.4 1 -3.2 1.1 2.8 1 -3.1 1.1 4.2 1 -2.4 1.1 3.8 1 -2.7 1.1 3.5 1 -4.8 1 4 1.1 -4.9 1 3.6 1.1 -5.9 1 4.1 1.1 -3.7 1 5.1 1.1 -3.7 1 6.8 1.1 -5.3 1 5.9 1.1 -5.1 1 4.5 1.1 -5.7 1 7.5 1.1 -7.1 1 6.8 1 -5.4 1.1 4.2 1 -3.5 1.1 2.8 1 -3.9 1.1 4.4 1 -4.7 1.1 6.1 1 -5.7 1.1 3.8 1 -4 1.1 1.9 1 -3.2 1.1 3.2 1 -3.9 1.1 3.8 1 -2.6 1.1 5.1 1 -2.9 1 5.4 1.1 -4 1 7.3 1.1 -4.3 1 4.8 1 -4.6 1 3.8 1.1 -4.9 1 3.4 1 -2.8 1 1.8 1 -1.8 1 2.2 1.1 -4.2 1 3.1 1 -2 1 3.3 1 -2.6 1.1 2.9 1 -4.4 1 3.9 1 -4 1 4.3 1 -4.2 1.1 2.3 1 -3.9 1 3.6 1 -3.8 1 4.9 1.1 -4.8 1 4.6 1 -4.3 1.1 5.2 1 -4.5 1.1 5.3 1 -5.7 1.1 6.6 1 -4.6 0.9 5.1 1 -2.2 0.9 3.1 0.9 -1.8 1 3.2 0.9 -3 1 3.2 1.1 -5.2 1 4 1.1 -6.2 1 4.4 1.1 -6.3 1 4.4 1.1 -4.1 1 5.3 1.1 -4.7 1 6.3 1.1 -4.8 1 5.4 1.1 -2.9 1 3.3 1.1 -5 1 6.4 1 -6.6 1.1 4.4 1 -4.3 1.1 1.6 1 -2.9 1.1 3.2 1 -3.9 1.1 3.4 1 -5.8 1.1 5.1 1 -5.4 1.1 5.4 1 -3 1.1 3.4 1 -1.3 1.1 3.9 1 -1 1.1 3.4 1 -4.8 1 4.4 1.1 -5.9 1 5.3 1.1 -6.1 1 4 1.1 -5 1 5.7 1 -5.1 1 5.2 1.1 -3.4 1 4.4 1 -3.6 1 4.2 1 -4.3 1 3.9 1.1 -2.7 1 4.7 1 -4.2 1 5.3 1 -7.1 1.1 6.2 1 -4.4 1 3.1 1 -2.5 1.1 3.4 1.1 -4.9 1.1 5.1 1.1 -6 1.1 4.7 1.1 -5.1 1.1 4 1.1 -5.7 1.1 4.4 1.1 -6.5 1 6.2 1.1 -4.9 1 7.1 1.1 -4.8 1 5.8 1.1 -3 1 2.9 1.1 -4 1.1 2.6 1.1 -4.6 1.1 5.3 1.1 -7.2 1.1 7 1.1 -5.1 1.1 6.7 1.1 -4 1.1 6.7 1.1 -5.7 1.1 2.7 1 -4.4 1.1 3.3 1.1 -4.4 1 4.8 1.1 -4.9 1 5 1 -4.8 1.1 5.3 1 -3.5 1 3.8 1.1 -1.3 1 3.6 1 -2.4 1.1 5 1 -5.4 1.1 5.8 1 -6.2 1.1 5 1 -4 1.1 4.6 1 -4.1 1.1 5.5 1 -6.3 1.1 4.8 1 -6.5 1 5.4 1.1 -5.5 1 5.4 1.1 -4.4 1 4.1 1.1 -4 1 3.2 1.1 -4.3 1 4.2 1.1 -3.6 1 5.7 1.1 -5.6 1 4.2 1.1 -3.9 1 2.9 1 -2.9 1 2.3 1.1 -3.4 1 1.5 1 -3.7 1 4.1 1 -4.9 1.1 3.7 1 -3.9 1.1 1.6 1.1 -1.8 1.1 3.5 1.1 -3.1 1.1 2.9 0.9 0.2 0.9 4.7 0.9 0.7 0.9 4.5 0.9 -4 1 -0.7 0.9 -5.7 0.9 1.9 0.9 -4.8 0.9 5.4 0.9 -1.7 1 5.6 1 -5.8 1 7.9 1 -7.3 1 6.9 1.1 -5.5 1 6.6 1 -5.7 1 6.6 1 -4.9 1 4.2 1.1 -3.3 1 3.1 1 -3.8 1 3.8 1 -4.2 1 3.9 1.1 -2.2 1 2.9 1 -3.3 1.1 1.9 1 -5.4 1.1 3.9 1 -4.7 1.1 3.7 1 -5.8 1.1 5.8 1.1 -4.3 1.1 7.6 1.1 -4.3 1.1 6.5 1 -5.7 1.1 3.4 1 -5.4 1 4 1.1 -6.4 1 4.3 1 -5.4 1.1 4 1 -2.3 1.1 5.8 1.1 -3.6 1 5.7 1.1 -5.4 1.1 5.2 1 -4.6 1.1 2.8 1.1 -4.9 1 4.6 1.1 -8.5 1.1 5.2 1 -5.9 1 5.8 1.1 -3.5 1 5.2 1 -2.4 1.1 6.1 1 -5.1 1 5.9 1.1 -5.5 1 5 1.1 -4.5 1 5.8 1.1 -5 1 4.4 1.1 -4 1 4.7 1.1 -6 1 6.8 1.1 -5.8 1 5.3 1 -4.7 1.1 5.1 1 -7.1 1 5.9 1 -6.3 1 4.7 1 -5.2 1 3.5 1 -3.1 1 2.4 1 -1.9 1 1.2 1 -1.9 1 3.2 1.1 -2.4 1 4.7 1.1 -4.3 1 4.1 1.1 -2.7 1 4.2 1.1 -3.2 1 3.7 1.1 -2.8 1 2.7 1.1 -4.3 1 4.4 1 -5.3 1.1 4.6 1 -5 1 5.6 1 -7.6 1 8 1.1 -8.6 1 8 1 -8.6 1 7.5 0.9 -6.3 0.9 8.8 1 -4.2 0.9 5.5 0.9 -2 0.9 3.6 0.9 -2 0.9 5 1.1 -4.9 1.1 4.1 1.1 -5.7 1.1 4.3 1.1 -5.4 1 3.7 1 -5.4 1 3.7 1 -3.7 1.1 0 1.1 0 1 0 1.1 0"/>
</svg>
<rect x="212" y="70" width="2075" height="1460" fill="none" stroke="#000" stroke-width="2"/>
<rect x="1587.5" y="97" width="673.5" height="494" rx="10" ry="10" fill="#ffffff" fill-opacity="0.8" stroke="#cccccc" stroke-opacity="0.8" stroke-width="4"/>
<g class="t">
<line x1="1605" y1="137.4" x2="1719" y2="137.4" stroke="#bf0000" stroke-width="7"/>
<text y="157.2" font-size="57.2"><tspan x="1756.6" textLength="206.8" lengthAdjust="spacingAndGlyphs">3-15-7-1-</tspan><tspan x="1961.5" textLength="192" lengthAdjust="spacingAndGlyphs">sigmoid</tspan></text>
<line x1="1605" y1="217.4" x2="1719" y2="217.4" stroke="#00bf00" stroke-width="7"/>
<text y="237.2" font-size="57.2"><tspan x="1756.6" textLength="206.8" lengthAdjust="spacingAndGlyphs">3-15-7-1-</tspan><tspan x="1963.3" textLength="106.3" lengthAdjust="spacingAndGlyphs">tanh</tspan></text>
<line x1="1605" y1="297.4" x2="1719" y2="297.4" stroke="#0000bf" stroke-width="7"/>
<text y="317.2" font-size="57.2"><tspan x="1756.6" textLength="206.8" lengthAdjust="spacingAndGlyphs">3-15-7-1-</tspan><tspan x="1962.7" textLength="92.9" lengthAdjust="spacingAndGlyphs">relu</tspan></text>
<line x1="1605" y1="377.4" x2="1719" y2="377.4" stroke="#bfbf00" stroke-width="7"/>
<text y="397.2" font-size="57.2"><tspan x="1756.6" textLength="206.8" lengthAdjust="spacingAndGlyphs">3-15-7-1-</tspan><tspan x="1961.4" textLength="190.5" lengthAdjust="spacingAndGlyphs">softplus</tspan></text>
<line x1="1605" y1="457.4" x2="1719" y2="457.4" stroke="#bf00bf" stroke-width="7"/>
<text y="477.2" font-size="57.2"><tspan x="1756.6" textLength="206.8" lengthAdjust="spacingAndGlyphs">3-15-7-1-</tspan><tspan x="1961.4" textLength="138.4" lengthAdjust="spacingAndGlyphs">swish</tspan></text>
<line x1="1605" y1="537.4" x2="1719" y2="537.4" stroke="#00bfbf" stroke-width="7"/>
<text y="557.2" font-size="57.2"><tspan x="1756.6" textLength="206.8" lengthAdjust="spacingAndGlyphs">3-15-7-1-</tspan><tspan x="1961.6" textLength="278.3" lengthAdjust="spacingAndGlyphs">exponential</tspan></text>
<text y="52.9" font-size="54.2" xml:space="preserve"><tspan x="570.8" textLength="151" lengthAdjust="spacingAndGlyphs">Global</tspan> <tspan x="732.9" textLength="282.7" lengthAdjust="spacingAndGlyphs">convergence</tspan> <tspan x="1026.1" textLength="46.5" lengthAdjust="spacingAndGlyphs">of</tspan> <tspan x="1084.7" textLength="70.9" lengthAdjust="spacingAndGlyphs">the</tspan> <tspan x="1167.8" textLength="199.1" lengthAdjust="spacingAndGlyphs">Artificial</tspan> <tspan x="1378.4" textLength="158.3" lengthAdjust="spacingAndGlyphs">Neural</tspan> <tspan x="1547.4" textLength="202.4" lengthAdjust="spacingAndGlyphs">Network</tspan> <tspan x="1761.7" textLength="166" lengthAdjust="spacingAndGlyphs">models</tspan></text>
<text y="1635.6" font-size="54.2" xml:space="preserve"><tspan x="1019.2" textLength="120" lengthAdjust="spacingAndGlyphs">ANN</tspan> <tspan x="1156" textLength="176.5" lengthAdjust="spacingAndGlyphs">training</tspan> <tspan x="1344.9" textLength="136.7" lengthAdjust="spacingAndGlyphs">epoch</tspan></text>
<text x="199.6" y="1573.3" font-size="47.8" textLength="24.3" lengthAdjust="spacingAndGlyphs">0</text>
<text x="494.4" y="1573.3" font-size="47.8" textLength="91" lengthAdjust="spacingAndGlyphs">1000</text>
<text x="823.9" y="1573.3" font-size="47.8" textLength="90.5" lengthAdjust="spacingAndGlyphs">2000</text>
<text x="1152.7" y="1573.3" font-size="47.8" textLength="90.7" lengthAdjust="spacingAndGlyphs">3000</text>
<text x="1483" y="1573.3" font-size="47.8" textLength="89.4" lengthAdjust="spacingAndGlyphs">4000</text>
<text x="1810.3" y="1573.3" font-size="47.8" textLength="91.2" lengthAdjust="spacingAndGlyphs">5000</text>
<text x="2140" y="1573.3" font-size="47.8" textLength="90.5" lengthAdjust="spacingAndGlyphs">6000</text>
<text y="87.1" font-size="47.8"><tspan x="87.3" dy="3.6" textLength="34.3" lengthAdjust="spacingAndGlyphs">−</tspan><tspan x="121.2" dy="-3.6" textLength="79.2" lengthAdjust="spacingAndGlyphs">3.00</tspan></text>
<text y="261.9" font-size="47.8"><tspan x="87.3" dy="3.6" textLength="34.3" lengthAdjust="spacingAndGlyphs">−</tspan><tspan x="121.2" dy="-3.6" textLength="79.2" lengthAdjust="spacingAndGlyphs">3.25</tspan></text>
<text y="436.6" font-size="47.8"><tspan x="87.3" dy="3.6" textLength="34.3" lengthAdjust="spacingAndGlyphs">−</tspan><tspan x="121.2" dy="-3.6" textLength="79.2" lengthAdjust="spacingAndGlyphs">3.50</tspan></text>
<text y="611.4" font-size="47.8"><tspan x="87.3" dy="3.6" textLength="34.3" lengthAdjust="spacingAndGlyphs">−</tspan><tspan x="121.2" dy="-3.6" textLength="79.2" lengthAdjust="spacingAndGlyphs">3.75</tspan></text>
<text y="786.1" font-size="47.8"><tspan x="87.3" dy="3.6" textLength="34.3" lengthAdjust="spacingAndGlyphs">−</tspan><tspan x="121.9" dy="-3.6" textLength="78.5" lengthAdjust="spacingAndGlyphs">4.00</tspan></text>
<text y="960.9" font-size="47.8"><tspan x="87.3" dy="3.6" textLength="34.3" lengthAdjust="spacingAndGlyphs">−</tspan><tspan x="121.9" dy="-3.6" textLength="78.5" lengthAdjust="spacingAndGlyphs">4.25</tspan></text>
<text y="1135.6" font-size="47.8"><tspan x="87.3" dy="3.6" textLength="34.3" lengthAdjust="spacingAndGlyphs">−</tspan><tspan x="121.9" dy="-3.6" textLength="78.5" lengthAdjust="spacingAndGlyphs">4.50</tspan></text>
<text y="1310.3" font-size="47.8"><tspan x="87.3" dy="3.6" textLength="34.3" lengthAdjust="spacingAndGlyphs">−</tspan><tspan x="121.9" dy="-3.6" textLength="78.5" lengthAdjust="spacingAndGlyphs">4.75</tspan></text>
<text y="1485.1" font-size="47.8"><tspan x="87.3" dy="3.6" textLength="34.3" lengthAdjust="spacingAndGlyphs">−</tspan><tspan x="120.8" dy="-3.6" textLength="79.7" lengthAdjust="spacingAndGlyphs">5.00</tspan></text>
<g transform="translate(57.9 1102.1) rotate(-90)">
<text xml:space="preserve"><tspan x="-0.6" y="0" font-size="54.2" textLength="188.8" lengthAdjust="spacingAndGlyphs">Training</tspan> <tspan x="200.7" y="0" font-size="54.2" textLength="119.3" lengthAdjust="spacingAndGlyphs">error</tspan> <tspan x="324" y="0" font-size="54.2" textLength="14.4" lengthAdjust="spacingAndGlyphs">:</tspan> <tspan x="353.2" y="0" font-size="54.2" textLength="71.9" lengthAdjust="spacingAndGlyphs">log</tspan><tspan x="423.1" y="16.2" font-size="41.9" textLength="40.5" lengthAdjust="spacingAndGlyphs">10</tspan> <tspan x="474.6" y="0" font-size="59.5" textLength="16.9" lengthAdjust="spacingAndGlyphs" stroke-width="0.2">(</tspan><tspan x="491.8" y="0" font-size="54.2" textLength="32.3" lengthAdjust="spacingAndGlyphs">E</tspan><tspan x="523.3" y="9.9" font-size="42.6" textLength="58.8" lengthAdjust="spacingAndGlyphs">MS</tspan><tspan x="582.9" y="0" font-size="59.5" textLength="16.2" lengthAdjust="spacingAndGlyphs" stroke-width="0.2">)</tspan></text>
</g>
</g>
</svg></body></html>
